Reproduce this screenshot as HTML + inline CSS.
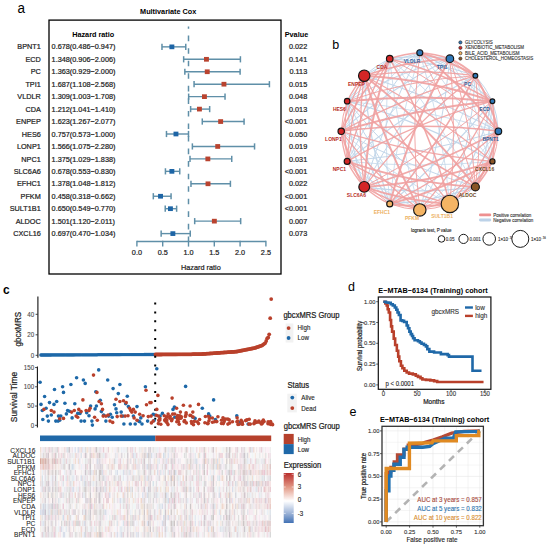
<!DOCTYPE html>
<html><head><meta charset="utf-8"><style>
html,body{margin:0;padding:0;background:#fff;width:550px;height:545px;overflow:hidden}
svg{display:block}
text{font-family:"Liberation Sans", sans-serif}
</style></head><body>
<svg width="550" height="545" viewBox="0 0 550 545">
<rect width="550" height="545" fill="#fff"/>
<g id="pa">
<text transform="translate(17.40 12.70) scale(0.935 1)" font-size="14.44" text-anchor="start" font-weight="normal" fill="#000"  >a</text>
<text transform="translate(168.20 13.50) scale(0.935 1)" font-size="7.81" text-anchor="middle" font-weight="bold" fill="#000"  >Multivariate Cox</text>
<rect x="49" y="20.1" width="232" height="253.9" fill="none" stroke="#000" stroke-width="1.3"/>
<text transform="translate(93.20 37.20) scale(0.935 1)" font-size="7.81" text-anchor="middle" font-weight="bold" fill="#000"  >Hazard ratio</text>
<text transform="translate(284.70 37.20) scale(0.935 1)" font-size="7.81" text-anchor="start" font-weight="bold" fill="#000"  >Pvalue</text>
<line x1="188.50" y1="26.4" x2="188.50" y2="242" stroke="#5f8fa8" stroke-width="1.5" stroke-dasharray="5.6 6.95" stroke-dashoffset="3.35"/>
<text transform="translate(40.80 49.45) scale(0.935 1)" font-size="7.81" text-anchor="end" font-weight="normal" fill="#222" stroke="#222" stroke-width="0.22" >BPNT1</text>
<text transform="translate(51.60 49.45) scale(0.935 1)" font-size="7.81" text-anchor="start" font-weight="normal" fill="#222" stroke="#222" stroke-width="0.22" >0.678(0.486−0.947)</text>
<text transform="translate(307.20 49.45) scale(0.935 1)" font-size="7.81" text-anchor="end" font-weight="normal" fill="#222" stroke="#222" stroke-width="0.22" >0.022</text>
<line x1="161.98" y1="46.85" x2="185.77" y2="46.85" stroke="#5f8fa8" stroke-width="1.4"/>
<line x1="161.98" y1="43.75" x2="161.98" y2="49.95" stroke="#5f8fa8" stroke-width="1.5"/>
<line x1="185.77" y1="43.75" x2="185.77" y2="49.95" stroke="#5f8fa8" stroke-width="1.5"/>
<rect x="169.43" y="44.50" width="4.9" height="4.7" fill="#1d65a6"/>
<text transform="translate(40.80 61.90) scale(0.935 1)" font-size="7.81" text-anchor="end" font-weight="normal" fill="#222" stroke="#222" stroke-width="0.22" >ECD</text>
<text transform="translate(51.60 61.90) scale(0.935 1)" font-size="7.81" text-anchor="start" font-weight="normal" fill="#222" stroke="#222" stroke-width="0.22" >1.348(0.906−2.006)</text>
<text transform="translate(307.20 61.90) scale(0.935 1)" font-size="7.81" text-anchor="end" font-weight="normal" fill="#222" stroke="#222" stroke-width="0.22" >0.141</text>
<line x1="183.65" y1="59.30" x2="240.41" y2="59.30" stroke="#5f8fa8" stroke-width="1.4"/>
<line x1="183.65" y1="56.20" x2="183.65" y2="62.40" stroke="#5f8fa8" stroke-width="1.5"/>
<line x1="240.41" y1="56.20" x2="240.41" y2="62.40" stroke="#5f8fa8" stroke-width="1.5"/>
<rect x="204.01" y="56.95" width="4.9" height="4.7" fill="#b9432f"/>
<text transform="translate(40.80 74.35) scale(0.935 1)" font-size="7.81" text-anchor="end" font-weight="normal" fill="#222" stroke="#222" stroke-width="0.22" >PC</text>
<text transform="translate(51.60 74.35) scale(0.935 1)" font-size="7.81" text-anchor="start" font-weight="normal" fill="#222" stroke="#222" stroke-width="0.22" >1.363(0.929−2.000)</text>
<text transform="translate(307.20 74.35) scale(0.935 1)" font-size="7.81" text-anchor="end" font-weight="normal" fill="#222" stroke="#222" stroke-width="0.22" >0.113</text>
<line x1="184.84" y1="71.75" x2="240.10" y2="71.75" stroke="#5f8fa8" stroke-width="1.4"/>
<line x1="184.84" y1="68.65" x2="184.84" y2="74.85" stroke="#5f8fa8" stroke-width="1.5"/>
<line x1="240.10" y1="68.65" x2="240.10" y2="74.85" stroke="#5f8fa8" stroke-width="1.5"/>
<rect x="204.78" y="69.40" width="4.9" height="4.7" fill="#b9432f"/>
<text transform="translate(40.80 86.80) scale(0.935 1)" font-size="7.81" text-anchor="end" font-weight="normal" fill="#222" stroke="#222" stroke-width="0.22" >TPI1</text>
<text transform="translate(51.60 86.80) scale(0.935 1)" font-size="7.81" text-anchor="start" font-weight="normal" fill="#222" stroke="#222" stroke-width="0.22" >1.687(1.108−2.568)</text>
<text transform="translate(307.20 86.80) scale(0.935 1)" font-size="7.81" text-anchor="end" font-weight="normal" fill="#222" stroke="#222" stroke-width="0.22" >0.015</text>
<line x1="194.07" y1="84.20" x2="269.41" y2="84.20" stroke="#5f8fa8" stroke-width="1.4"/>
<line x1="194.07" y1="81.10" x2="194.07" y2="87.30" stroke="#5f8fa8" stroke-width="1.5"/>
<line x1="269.41" y1="81.10" x2="269.41" y2="87.30" stroke="#5f8fa8" stroke-width="1.5"/>
<rect x="221.50" y="81.85" width="4.9" height="4.7" fill="#b9432f"/>
<text transform="translate(40.80 99.25) scale(0.935 1)" font-size="7.81" text-anchor="end" font-weight="normal" fill="#222" stroke="#222" stroke-width="0.22" >VLDLR</text>
<text transform="translate(51.60 99.25) scale(0.935 1)" font-size="7.81" text-anchor="start" font-weight="normal" fill="#222" stroke="#222" stroke-width="0.22" >1.309(1.003−1.708)</text>
<text transform="translate(307.20 99.25) scale(0.935 1)" font-size="7.81" text-anchor="end" font-weight="normal" fill="#222" stroke="#222" stroke-width="0.22" >0.048</text>
<line x1="188.65" y1="96.65" x2="225.03" y2="96.65" stroke="#5f8fa8" stroke-width="1.4"/>
<line x1="188.65" y1="93.55" x2="188.65" y2="99.75" stroke="#5f8fa8" stroke-width="1.5"/>
<line x1="225.03" y1="93.55" x2="225.03" y2="99.75" stroke="#5f8fa8" stroke-width="1.5"/>
<rect x="201.99" y="94.30" width="4.9" height="4.7" fill="#b9432f"/>
<text transform="translate(40.80 111.70) scale(0.935 1)" font-size="7.81" text-anchor="end" font-weight="normal" fill="#222" stroke="#222" stroke-width="0.22" >CDA</text>
<text transform="translate(51.60 111.70) scale(0.935 1)" font-size="7.81" text-anchor="start" font-weight="normal" fill="#222" stroke="#222" stroke-width="0.22" >1.212(1.041−1.410)</text>
<text transform="translate(307.20 111.70) scale(0.935 1)" font-size="7.81" text-anchor="end" font-weight="normal" fill="#222" stroke="#222" stroke-width="0.22" >0.013</text>
<line x1="190.62" y1="109.10" x2="209.66" y2="109.10" stroke="#5f8fa8" stroke-width="1.4"/>
<line x1="190.62" y1="106.00" x2="190.62" y2="112.20" stroke="#5f8fa8" stroke-width="1.5"/>
<line x1="209.66" y1="106.00" x2="209.66" y2="112.20" stroke="#5f8fa8" stroke-width="1.5"/>
<rect x="196.99" y="106.75" width="4.9" height="4.7" fill="#b9432f"/>
<text transform="translate(40.80 124.15) scale(0.935 1)" font-size="7.81" text-anchor="end" font-weight="normal" fill="#222" stroke="#222" stroke-width="0.22" >ENPEP</text>
<text transform="translate(51.60 124.15) scale(0.935 1)" font-size="7.81" text-anchor="start" font-weight="normal" fill="#222" stroke="#222" stroke-width="0.22" >1.623(1.267−2.077)</text>
<text transform="translate(307.20 124.15) scale(0.935 1)" font-size="7.81" text-anchor="end" font-weight="normal" fill="#222" stroke="#222" stroke-width="0.22" >&lt;0.001</text>
<line x1="202.28" y1="121.55" x2="244.07" y2="121.55" stroke="#5f8fa8" stroke-width="1.4"/>
<line x1="202.28" y1="118.45" x2="202.28" y2="124.65" stroke="#5f8fa8" stroke-width="1.5"/>
<line x1="244.07" y1="118.45" x2="244.07" y2="124.65" stroke="#5f8fa8" stroke-width="1.5"/>
<rect x="218.20" y="119.20" width="4.9" height="4.7" fill="#b9432f"/>
<text transform="translate(40.80 136.60) scale(0.935 1)" font-size="7.81" text-anchor="end" font-weight="normal" fill="#222" stroke="#222" stroke-width="0.22" >HES6</text>
<text transform="translate(51.60 136.60) scale(0.935 1)" font-size="7.81" text-anchor="start" font-weight="normal" fill="#222" stroke="#222" stroke-width="0.22" >0.757(0.573−1.000)</text>
<text transform="translate(307.20 136.60) scale(0.935 1)" font-size="7.81" text-anchor="end" font-weight="normal" fill="#222" stroke="#222" stroke-width="0.22" >0.050</text>
<line x1="166.47" y1="134.00" x2="188.50" y2="134.00" stroke="#5f8fa8" stroke-width="1.4"/>
<line x1="166.47" y1="130.90" x2="166.47" y2="137.10" stroke="#5f8fa8" stroke-width="1.5"/>
<line x1="188.50" y1="130.90" x2="188.50" y2="137.10" stroke="#5f8fa8" stroke-width="1.5"/>
<rect x="173.51" y="131.65" width="4.9" height="4.7" fill="#1d65a6"/>
<text transform="translate(40.80 149.05) scale(0.935 1)" font-size="7.81" text-anchor="end" font-weight="normal" fill="#222" stroke="#222" stroke-width="0.22" >LONP1</text>
<text transform="translate(51.60 149.05) scale(0.935 1)" font-size="7.81" text-anchor="start" font-weight="normal" fill="#222" stroke="#222" stroke-width="0.22" >1.566(1.075−2.280)</text>
<text transform="translate(307.20 149.05) scale(0.935 1)" font-size="7.81" text-anchor="end" font-weight="normal" fill="#222" stroke="#222" stroke-width="0.22" >0.019</text>
<line x1="192.37" y1="146.45" x2="254.55" y2="146.45" stroke="#5f8fa8" stroke-width="1.4"/>
<line x1="192.37" y1="143.35" x2="192.37" y2="149.55" stroke="#5f8fa8" stroke-width="1.5"/>
<line x1="254.55" y1="143.35" x2="254.55" y2="149.55" stroke="#5f8fa8" stroke-width="1.5"/>
<rect x="215.26" y="144.10" width="4.9" height="4.7" fill="#b9432f"/>
<text transform="translate(40.80 161.50) scale(0.935 1)" font-size="7.81" text-anchor="end" font-weight="normal" fill="#222" stroke="#222" stroke-width="0.22" >NPC1</text>
<text transform="translate(51.60 161.50) scale(0.935 1)" font-size="7.81" text-anchor="start" font-weight="normal" fill="#222" stroke="#222" stroke-width="0.22" >1.375(1.029−1.838)</text>
<text transform="translate(307.20 161.50) scale(0.935 1)" font-size="7.81" text-anchor="end" font-weight="normal" fill="#222" stroke="#222" stroke-width="0.22" >0.031</text>
<line x1="190.00" y1="158.90" x2="231.74" y2="158.90" stroke="#5f8fa8" stroke-width="1.4"/>
<line x1="190.00" y1="155.80" x2="190.00" y2="162.00" stroke="#5f8fa8" stroke-width="1.5"/>
<line x1="231.74" y1="155.80" x2="231.74" y2="162.00" stroke="#5f8fa8" stroke-width="1.5"/>
<rect x="205.40" y="156.55" width="4.9" height="4.7" fill="#b9432f"/>
<text transform="translate(40.80 173.95) scale(0.935 1)" font-size="7.81" text-anchor="end" font-weight="normal" fill="#222" stroke="#222" stroke-width="0.22" >SLC6A6</text>
<text transform="translate(51.60 173.95) scale(0.935 1)" font-size="7.81" text-anchor="start" font-weight="normal" fill="#222" stroke="#222" stroke-width="0.22" >0.678(0.553−0.830)</text>
<text transform="translate(307.20 173.95) scale(0.935 1)" font-size="7.81" text-anchor="end" font-weight="normal" fill="#222" stroke="#222" stroke-width="0.22" >&lt;0.001</text>
<line x1="165.43" y1="171.35" x2="179.73" y2="171.35" stroke="#5f8fa8" stroke-width="1.4"/>
<line x1="165.43" y1="168.25" x2="165.43" y2="174.45" stroke="#5f8fa8" stroke-width="1.5"/>
<line x1="179.73" y1="168.25" x2="179.73" y2="174.45" stroke="#5f8fa8" stroke-width="1.5"/>
<rect x="169.43" y="169.00" width="4.9" height="4.7" fill="#1d65a6"/>
<text transform="translate(40.80 186.40) scale(0.935 1)" font-size="7.81" text-anchor="end" font-weight="normal" fill="#222" stroke="#222" stroke-width="0.22" >EFHC1</text>
<text transform="translate(51.60 186.40) scale(0.935 1)" font-size="7.81" text-anchor="start" font-weight="normal" fill="#222" stroke="#222" stroke-width="0.22" >1.378(1.048−1.812)</text>
<text transform="translate(307.20 186.40) scale(0.935 1)" font-size="7.81" text-anchor="end" font-weight="normal" fill="#222" stroke="#222" stroke-width="0.22" >0.022</text>
<line x1="190.98" y1="183.80" x2="230.40" y2="183.80" stroke="#5f8fa8" stroke-width="1.4"/>
<line x1="190.98" y1="180.70" x2="190.98" y2="186.90" stroke="#5f8fa8" stroke-width="1.5"/>
<line x1="230.40" y1="180.70" x2="230.40" y2="186.90" stroke="#5f8fa8" stroke-width="1.5"/>
<rect x="205.55" y="181.45" width="4.9" height="4.7" fill="#b9432f"/>
<text transform="translate(40.80 198.85) scale(0.935 1)" font-size="7.81" text-anchor="end" font-weight="normal" fill="#222" stroke="#222" stroke-width="0.22" >PFKM</text>
<text transform="translate(51.60 198.85) scale(0.935 1)" font-size="7.81" text-anchor="start" font-weight="normal" fill="#222" stroke="#222" stroke-width="0.22" >0.458(0.318−0.662)</text>
<text transform="translate(307.20 198.85) scale(0.935 1)" font-size="7.81" text-anchor="end" font-weight="normal" fill="#222" stroke="#222" stroke-width="0.22" >&lt;0.001</text>
<line x1="153.31" y1="196.25" x2="171.06" y2="196.25" stroke="#5f8fa8" stroke-width="1.4"/>
<line x1="153.31" y1="193.15" x2="153.31" y2="199.35" stroke="#5f8fa8" stroke-width="1.5"/>
<line x1="171.06" y1="193.15" x2="171.06" y2="199.35" stroke="#5f8fa8" stroke-width="1.5"/>
<rect x="158.08" y="193.90" width="4.9" height="4.7" fill="#1d65a6"/>
<text transform="translate(40.80 211.30) scale(0.935 1)" font-size="7.81" text-anchor="end" font-weight="normal" fill="#222" stroke="#222" stroke-width="0.22" >SULT1B1</text>
<text transform="translate(51.60 211.30) scale(0.935 1)" font-size="7.81" text-anchor="start" font-weight="normal" fill="#222" stroke="#222" stroke-width="0.22" >0.650(0.549−0.770)</text>
<text transform="translate(307.20 211.30) scale(0.935 1)" font-size="7.81" text-anchor="end" font-weight="normal" fill="#222" stroke="#222" stroke-width="0.22" >&lt;0.001</text>
<line x1="165.23" y1="208.70" x2="176.63" y2="208.70" stroke="#5f8fa8" stroke-width="1.4"/>
<line x1="165.23" y1="205.60" x2="165.23" y2="211.80" stroke="#5f8fa8" stroke-width="1.5"/>
<line x1="176.63" y1="205.60" x2="176.63" y2="211.80" stroke="#5f8fa8" stroke-width="1.5"/>
<rect x="167.99" y="206.35" width="4.9" height="4.7" fill="#1d65a6"/>
<text transform="translate(40.80 223.75) scale(0.935 1)" font-size="7.81" text-anchor="end" font-weight="normal" fill="#222" stroke="#222" stroke-width="0.22" >ALDOC</text>
<text transform="translate(51.60 223.75) scale(0.935 1)" font-size="7.81" text-anchor="start" font-weight="normal" fill="#222" stroke="#222" stroke-width="0.22" >1.501(1.120−2.011)</text>
<text transform="translate(307.20 223.75) scale(0.935 1)" font-size="7.81" text-anchor="end" font-weight="normal" fill="#222" stroke="#222" stroke-width="0.22" >0.007</text>
<line x1="194.69" y1="221.15" x2="240.67" y2="221.15" stroke="#5f8fa8" stroke-width="1.4"/>
<line x1="194.69" y1="218.05" x2="194.69" y2="224.25" stroke="#5f8fa8" stroke-width="1.5"/>
<line x1="240.67" y1="218.05" x2="240.67" y2="224.25" stroke="#5f8fa8" stroke-width="1.5"/>
<rect x="211.90" y="218.80" width="4.9" height="4.7" fill="#b9432f"/>
<text transform="translate(40.80 236.20) scale(0.935 1)" font-size="7.81" text-anchor="end" font-weight="normal" fill="#222" stroke="#222" stroke-width="0.22" >CXCL16</text>
<text transform="translate(51.60 236.20) scale(0.935 1)" font-size="7.81" text-anchor="start" font-weight="normal" fill="#222" stroke="#222" stroke-width="0.22" >0.697(0.470−1.034)</text>
<text transform="translate(307.20 236.20) scale(0.935 1)" font-size="7.81" text-anchor="end" font-weight="normal" fill="#222" stroke="#222" stroke-width="0.22" >0.073</text>
<line x1="161.15" y1="233.60" x2="190.25" y2="233.60" stroke="#5f8fa8" stroke-width="1.4"/>
<line x1="161.15" y1="230.50" x2="161.15" y2="236.70" stroke="#5f8fa8" stroke-width="1.5"/>
<line x1="190.25" y1="230.50" x2="190.25" y2="236.70" stroke="#5f8fa8" stroke-width="1.5"/>
<rect x="170.42" y="231.25" width="4.9" height="4.7" fill="#1d65a6"/>
<line x1="136.90" y1="241.5" x2="265.90" y2="241.5" stroke="#5f8fa8" stroke-width="1.4"/>
<line x1="136.90" y1="240.8" x2="136.90" y2="246.6" stroke="#5f8fa8" stroke-width="1.4"/>
<text transform="translate(136.90 255.00) scale(0.935 1)" font-size="7.81" text-anchor="middle" font-weight="normal" fill="#222" stroke="#222" stroke-width="0.22" >0.0</text>
<line x1="162.70" y1="240.8" x2="162.70" y2="246.6" stroke="#5f8fa8" stroke-width="1.4"/>
<text transform="translate(162.70 255.00) scale(0.935 1)" font-size="7.81" text-anchor="middle" font-weight="normal" fill="#222" stroke="#222" stroke-width="0.22" >0.5</text>
<line x1="188.50" y1="240.8" x2="188.50" y2="246.6" stroke="#5f8fa8" stroke-width="1.4"/>
<text transform="translate(188.50 255.00) scale(0.935 1)" font-size="7.81" text-anchor="middle" font-weight="normal" fill="#222" stroke="#222" stroke-width="0.22" >1.0</text>
<line x1="214.30" y1="240.8" x2="214.30" y2="246.6" stroke="#5f8fa8" stroke-width="1.4"/>
<text transform="translate(214.30 255.00) scale(0.935 1)" font-size="7.81" text-anchor="middle" font-weight="normal" fill="#222" stroke="#222" stroke-width="0.22" >1.5</text>
<line x1="240.10" y1="240.8" x2="240.10" y2="246.6" stroke="#5f8fa8" stroke-width="1.4"/>
<text transform="translate(240.10 255.00) scale(0.935 1)" font-size="7.81" text-anchor="middle" font-weight="normal" fill="#222" stroke="#222" stroke-width="0.22" >2.0</text>
<line x1="265.90" y1="240.8" x2="265.90" y2="246.6" stroke="#5f8fa8" stroke-width="1.4"/>
<text transform="translate(265.90 255.00) scale(0.935 1)" font-size="7.81" text-anchor="middle" font-weight="normal" fill="#222" stroke="#222" stroke-width="0.22" >2.5</text>
<text transform="translate(200.90 269.70) scale(0.935 1)" font-size="7.81" text-anchor="middle" font-weight="normal" fill="#222" stroke="#222" stroke-width="0.22" >Hazard ratio</text>
</g>
<g id="pb">
<text transform="translate(332.20 49.40) scale(0.935 1)" font-size="13.37" text-anchor="start" font-weight="normal" fill="#000"  >b</text>
<path d="M475.4 75.7Q454.3 145.6 419.8 209.9" fill="none" stroke="#c3d7ea" stroke-width="0.8"/>
<path d="M475.4 186.9Q463.8 197.2 449.9 203.9" fill="none" stroke="#c3d7ea" stroke-width="1.0"/>
<path d="M364.2 75.7Q375.8 65.4 389.7 58.7" fill="none" stroke="#c3d7ea" stroke-width="1.0"/>
<path d="M498.4 131.3Q464.6 176.1 419.8 209.9" fill="none" stroke="#c3d7ea" stroke-width="0.8"/>
<path d="M449.9 58.7Q390.5 87.4 341.2 131.3" fill="none" stroke="#c3d7ea" stroke-width="1.2"/>
<path d="M364.2 186.9Q349.7 145.2 347.2 101.2" fill="none" stroke="#c3d7ea" stroke-width="1.2"/>
<path d="M475.4 186.9Q433.7 201.4 389.7 203.9" fill="none" stroke="#c3d7ea" stroke-width="1.2"/>
<path d="M492.4 101.2Q497.5 115.8 498.4 131.3" fill="none" stroke="#c3d7ea" stroke-width="1.0"/>
<path d="M419.8 209.9Q397.2 135.8 389.7 58.7" fill="none" stroke="#c3d7ea" stroke-width="0.8"/>
<path d="M419.8 52.7Q459.5 71.9 492.4 101.2" fill="none" stroke="#c3d7ea" stroke-width="1.2"/>
<path d="M492.4 101.2Q478.3 155.5 449.9 203.9" fill="none" stroke="#c3d7ea" stroke-width="1.2"/>
<path d="M419.8 52.7Q375.9 102.0 347.2 161.4" fill="none" stroke="#c3d7ea" stroke-width="1.0"/>
<path d="M475.4 186.9Q419.8 194.7 364.2 186.9" fill="none" stroke="#c3d7ea" stroke-width="1.2"/>
<path d="M449.9 58.7Q442.4 135.8 419.8 209.9" fill="none" stroke="#c3d7ea" stroke-width="1.0"/>
<path d="M475.4 75.7Q489.9 117.4 492.4 161.4" fill="none" stroke="#c3d7ea" stroke-width="0.8"/>
<path d="M475.4 75.7Q471.6 141.6 449.9 203.9" fill="none" stroke="#c3d7ea" stroke-width="1.0"/>
<path d="M389.7 203.9Q368.0 141.6 364.2 75.7" fill="none" stroke="#c3d7ea" stroke-width="1.2"/>
<path d="M498.4 131.3Q424.3 108.7 347.2 101.2" fill="none" stroke="#c3d7ea" stroke-width="0.8"/>
<path d="M492.4 101.2Q489.9 145.2 475.4 186.9" fill="none" stroke="#c3d7ea" stroke-width="1.0"/>
<path d="M347.2 101.2Q365.5 77.0 389.7 58.7" fill="none" stroke="#c3d7ea" stroke-width="1.0"/>
<path d="M498.4 131.3Q424.3 153.9 347.2 161.4" fill="none" stroke="#c3d7ea" stroke-width="1.0"/>
<path d="M475.4 75.7Q485.7 87.3 492.4 101.2" fill="none" stroke="#c3d7ea" stroke-width="1.0"/>
<path d="M498.4 131.3Q434.1 96.8 364.2 75.7" fill="none" stroke="#c3d7ea" stroke-width="1.2"/>
<path d="M449.9 58.7Q395.6 72.8 347.2 101.2" fill="none" stroke="#c3d7ea" stroke-width="1.0"/>
<path d="M449.9 203.9Q393.4 157.7 347.2 101.2" fill="none" stroke="#c3d7ea" stroke-width="1.0"/>
<path d="M389.7 203.9Q360.4 171.0 341.2 131.3" fill="none" stroke="#c3d7ea" stroke-width="0.8"/>
<path d="M492.4 101.2Q446.2 157.7 389.7 203.9" fill="none" stroke="#c3d7ea" stroke-width="1.2"/>
<path d="M449.9 58.7Q393.4 104.9 347.2 161.4" fill="none" stroke="#c3d7ea" stroke-width="1.0"/>
<path d="M419.8 52.7Q390.4 60.3 364.2 75.7" fill="none" stroke="#c3d7ea" stroke-width="1.0"/>
<path d="M449.9 58.7Q400.6 118.5 364.2 186.9" fill="none" stroke="#c3d7ea" stroke-width="1.0"/>
<path d="M449.9 203.9Q390.5 175.2 341.2 131.3" fill="none" stroke="#c3d7ea" stroke-width="0.8"/>
<path d="M419.8 209.9Q380.1 190.7 347.2 161.4" fill="none" stroke="#c3d7ea" stroke-width="0.8"/>
<path d="M449.9 58.7Q478.3 107.1 492.4 161.4" fill="none" stroke="#c3d7ea" stroke-width="0.8"/>
<path d="M389.7 203.9Q361.3 155.5 347.2 101.2" fill="none" stroke="#c3d7ea" stroke-width="1.2"/>
<path d="M475.4 75.7Q407.0 112.1 347.2 161.4" fill="none" stroke="#c3d7ea" stroke-width="1.2"/>
<path d="M449.9 58.7Q479.2 91.6 498.4 131.3" fill="none" stroke="#c3d7ea" stroke-width="0.8"/>
<path d="M419.8 209.9Q375.9 160.6 347.2 101.2" fill="none" stroke="#c3d7ea" stroke-width="1.0"/>
<path d="M475.4 186.9Q405.5 165.8 341.2 131.3" fill="none" stroke="#c3d7ea" stroke-width="1.0"/>
<path d="M449.9 58.7Q419.8 54.5 389.7 58.7" fill="none" stroke="#c3d7ea" stroke-width="1.2"/>
<path d="M492.4 161.4Q423.7 121.9 347.2 101.2" fill="none" stroke="#c3d7ea" stroke-width="1.2"/>
<path d="M492.4 161.4Q419.8 168.6 347.2 161.4" fill="none" stroke="#c3d7ea" stroke-width="0.8"/>
<path d="M389.7 203.9Q382.5 131.3 389.7 58.7" fill="none" stroke="#c3d7ea" stroke-width="0.8"/>
<path d="M419.8 52.7Q397.2 126.8 389.7 203.9" fill="none" stroke="#c3d7ea" stroke-width="0.8"/>
<path d="M419.8 52.7Q375.0 86.5 341.2 131.3" fill="none" stroke="#c3d7ea" stroke-width="0.8"/>
<path d="M419.8 52.7Q463.7 102.0 492.4 161.4" fill="none" stroke="#c3d7ea" stroke-width="0.8"/>
<path d="M492.4 161.4Q446.2 104.9 389.7 58.7" fill="none" stroke="#c3d7ea" stroke-width="0.8"/>
<path d="M419.8 52.7Q380.1 71.9 347.2 101.2" fill="none" stroke="#c3d7ea" stroke-width="1.0"/>
<path d="M419.8 52.7Q385.3 117.0 364.2 186.9" fill="none" stroke="#c3d7ea" stroke-width="1.0"/>
<path d="M419.8 52.7Q442.4 126.8 449.9 203.9" fill="none" stroke="#c3d7ea" stroke-width="0.8"/>
<path d="M475.4 186.9Q439.0 118.5 389.7 58.7" fill="none" stroke="#c3d7ea" stroke-width="0.8"/>
<path d="M475.4 75.7Q433.7 61.2 389.7 58.7" fill="none" stroke="#c3d7ea" stroke-width="1.0"/>
<path d="M492.4 161.4Q459.5 190.7 419.8 209.9" fill="none" stroke="#f0a0a0" stroke-opacity="0.9" stroke-width="1.0"/>
<path d="M347.2 161.4Q349.7 117.4 364.2 75.7" fill="none" stroke="#f0a0a0" stroke-opacity="0.9" stroke-width="1.3"/>
<path d="M449.9 203.9Q419.8 208.1 389.7 203.9" fill="none" stroke="#f0a0a0" stroke-opacity="0.9" stroke-width="2.0"/>
<path d="M419.8 52.7Q464.6 86.5 498.4 131.3" fill="none" stroke="#f0a0a0" stroke-opacity="0.9" stroke-width="2.0"/>
<path d="M492.4 101.2Q419.8 94.0 347.2 101.2" fill="none" stroke="#f0a0a0" stroke-opacity="0.9" stroke-width="2.0"/>
<path d="M498.4 131.3Q419.8 121.1 341.2 131.3" fill="none" stroke="#f0a0a0" stroke-opacity="0.9" stroke-width="1.6"/>
<path d="M419.8 52.7Q435.3 53.6 449.9 58.7" fill="none" stroke="#f0a0a0" stroke-opacity="0.9" stroke-width="1.6"/>
<path d="M419.8 52.7Q449.2 60.3 475.4 75.7" fill="none" stroke="#f0a0a0" stroke-opacity="0.9" stroke-width="2.0"/>
<path d="M498.4 131.3Q449.1 175.2 389.7 203.9" fill="none" stroke="#f0a0a0" stroke-opacity="0.9" stroke-width="1.3"/>
<path d="M449.9 203.9Q395.6 189.8 347.2 161.4" fill="none" stroke="#f0a0a0" stroke-opacity="0.9" stroke-width="1.3"/>
<path d="M475.4 75.7Q419.8 67.9 364.2 75.7" fill="none" stroke="#f0a0a0" stroke-opacity="0.9" stroke-width="1.3"/>
<path d="M449.9 58.7Q474.1 77.0 492.4 101.2" fill="none" stroke="#f0a0a0" stroke-opacity="0.9" stroke-width="1.0"/>
<path d="M492.4 101.2Q496.6 131.3 492.4 161.4" fill="none" stroke="#f0a0a0" stroke-opacity="0.9" stroke-width="1.6"/>
<path d="M419.8 52.7Q404.3 53.6 389.7 58.7" fill="none" stroke="#f0a0a0" stroke-opacity="0.9" stroke-width="1.6"/>
<path d="M475.4 186.9Q409.5 183.1 347.2 161.4" fill="none" stroke="#f0a0a0" stroke-opacity="0.9" stroke-width="2.0"/>
<path d="M449.9 58.7Q410.4 127.4 389.7 203.9" fill="none" stroke="#f0a0a0" stroke-opacity="0.9" stroke-width="2.0"/>
<path d="M364.2 186.9Q348.8 160.7 341.2 131.3" fill="none" stroke="#f0a0a0" stroke-opacity="0.9" stroke-width="2.0"/>
<path d="M492.4 101.2Q432.6 150.5 364.2 186.9" fill="none" stroke="#f0a0a0" stroke-opacity="0.9" stroke-width="1.0"/>
<path d="M475.4 186.9Q407.0 150.5 347.2 101.2" fill="none" stroke="#f0a0a0" stroke-opacity="0.9" stroke-width="1.6"/>
<path d="M347.2 161.4Q342.1 146.8 341.2 131.3" fill="none" stroke="#f0a0a0" stroke-opacity="0.9" stroke-width="1.3"/>
<path d="M475.4 75.7Q439.0 144.1 389.7 203.9" fill="none" stroke="#f0a0a0" stroke-opacity="0.9" stroke-width="1.6"/>
<path d="M389.7 203.9Q365.5 185.6 347.2 161.4" fill="none" stroke="#f0a0a0" stroke-opacity="0.9" stroke-width="1.0"/>
<path d="M498.4 131.3Q434.1 165.8 364.2 186.9" fill="none" stroke="#f0a0a0" stroke-opacity="0.9" stroke-width="1.6"/>
<path d="M341.2 131.3Q342.1 115.8 347.2 101.2" fill="none" stroke="#f0a0a0" stroke-opacity="0.9" stroke-width="1.0"/>
<path d="M492.4 101.2Q430.1 79.5 364.2 75.7" fill="none" stroke="#f0a0a0" stroke-opacity="0.9" stroke-width="2.0"/>
<path d="M492.4 161.4Q485.7 175.3 475.4 186.9" fill="none" stroke="#f0a0a0" stroke-opacity="0.9" stroke-width="1.6"/>
<path d="M475.4 75.7Q483.2 131.3 475.4 186.9" fill="none" stroke="#f0a0a0" stroke-opacity="0.9" stroke-width="1.0"/>
<path d="M492.4 161.4Q474.1 185.6 449.9 203.9" fill="none" stroke="#f0a0a0" stroke-opacity="0.9" stroke-width="1.6"/>
<path d="M347.2 161.4Q361.3 107.1 389.7 58.7" fill="none" stroke="#f0a0a0" stroke-opacity="0.9" stroke-width="1.3"/>
<path d="M475.4 75.7Q405.5 96.8 341.2 131.3" fill="none" stroke="#f0a0a0" stroke-opacity="0.9" stroke-width="1.3"/>
<path d="M449.9 203.9Q435.3 209.0 419.8 209.9" fill="none" stroke="#f0a0a0" stroke-opacity="0.9" stroke-width="1.0"/>
<path d="M498.4 131.3Q479.2 171.0 449.9 203.9" fill="none" stroke="#f0a0a0" stroke-opacity="0.9" stroke-width="1.3"/>
<path d="M475.4 75.7Q412.6 124.1 364.2 186.9" fill="none" stroke="#f0a0a0" stroke-opacity="0.9" stroke-width="1.3"/>
<path d="M341.2 131.3Q360.4 91.6 389.7 58.7" fill="none" stroke="#f0a0a0" stroke-opacity="0.9" stroke-width="1.6"/>
<path d="M389.7 203.9Q375.8 197.2 364.2 186.9" fill="none" stroke="#f0a0a0" stroke-opacity="0.9" stroke-width="1.3"/>
<path d="M449.9 203.9Q405.9 201.4 364.2 186.9" fill="none" stroke="#f0a0a0" stroke-opacity="0.9" stroke-width="2.0"/>
<path d="M475.4 186.9Q449.2 202.3 419.8 209.9" fill="none" stroke="#f0a0a0" stroke-opacity="0.9" stroke-width="1.0"/>
<path d="M419.8 209.9Q375.0 176.1 341.2 131.3" fill="none" stroke="#f0a0a0" stroke-opacity="0.9" stroke-width="1.3"/>
<path d="M449.9 203.9Q429.2 127.4 389.7 58.7" fill="none" stroke="#f0a0a0" stroke-opacity="0.9" stroke-width="1.6"/>
<path d="M449.9 58.7Q457.1 131.3 449.9 203.9" fill="none" stroke="#f0a0a0" stroke-opacity="0.9" stroke-width="1.0"/>
<path d="M492.4 101.2Q415.9 121.9 347.2 161.4" fill="none" stroke="#f0a0a0" stroke-opacity="0.9" stroke-width="1.3"/>
<path d="M419.8 209.9Q385.3 145.6 364.2 75.7" fill="none" stroke="#f0a0a0" stroke-opacity="0.9" stroke-width="2.0"/>
<path d="M347.2 161.4Q343.0 131.3 347.2 101.2" fill="none" stroke="#f0a0a0" stroke-opacity="0.9" stroke-width="1.0"/>
<path d="M475.4 186.9Q427.0 124.1 364.2 75.7" fill="none" stroke="#f0a0a0" stroke-opacity="0.9" stroke-width="2.0"/>
<path d="M475.4 75.7Q409.5 79.5 347.2 101.2" fill="none" stroke="#f0a0a0" stroke-opacity="0.9" stroke-width="1.0"/>
<path d="M492.4 161.4Q430.1 183.1 364.2 186.9" fill="none" stroke="#f0a0a0" stroke-opacity="0.9" stroke-width="2.0"/>
<path d="M492.4 161.4Q415.3 153.9 341.2 131.3" fill="none" stroke="#f0a0a0" stroke-opacity="0.9" stroke-width="1.3"/>
<path d="M419.8 52.7Q454.3 117.0 475.4 186.9" fill="none" stroke="#f0a0a0" stroke-opacity="0.9" stroke-width="1.0"/>
<path d="M419.8 209.9Q390.4 202.3 364.2 186.9" fill="none" stroke="#f0a0a0" stroke-opacity="0.9" stroke-width="1.3"/>
<path d="M341.2 131.3Q348.8 101.9 364.2 75.7" fill="none" stroke="#f0a0a0" stroke-opacity="0.9" stroke-width="1.3"/>
<path d="M347.2 101.2Q353.9 87.3 364.2 75.7" fill="none" stroke="#f0a0a0" stroke-opacity="0.9" stroke-width="1.3"/>
<path d="M449.9 203.9Q400.6 144.1 364.2 75.7" fill="none" stroke="#f0a0a0" stroke-opacity="0.9" stroke-width="1.3"/>
<path d="M492.4 161.4Q432.6 112.1 364.2 75.7" fill="none" stroke="#f0a0a0" stroke-opacity="0.9" stroke-width="1.3"/>
<path d="M364.2 186.9Q368.0 121.0 389.7 58.7" fill="none" stroke="#f0a0a0" stroke-opacity="0.9" stroke-width="2.0"/>
<path d="M419.8 209.9Q404.3 209.0 389.7 203.9" fill="none" stroke="#f0a0a0" stroke-opacity="0.9" stroke-width="1.0"/>
<path d="M449.9 58.7Q463.8 65.4 475.4 75.7" fill="none" stroke="#f0a0a0" stroke-opacity="0.9" stroke-width="2.0"/>
<path d="M364.2 186.9Q356.4 131.3 364.2 75.7" fill="none" stroke="#f0a0a0" stroke-opacity="0.9" stroke-width="1.3"/>
<path d="M498.4 131.3Q497.5 146.8 492.4 161.4" fill="none" stroke="#f0a0a0" stroke-opacity="0.9" stroke-width="1.0"/>
<path d="M475.4 75.7Q490.8 101.9 498.4 131.3" fill="none" stroke="#f0a0a0" stroke-opacity="0.9" stroke-width="2.0"/>
<path d="M492.4 101.2Q444.0 72.8 389.7 58.7" fill="none" stroke="#f0a0a0" stroke-opacity="0.9" stroke-width="1.6"/>
<path d="M498.4 131.3Q490.8 160.7 475.4 186.9" fill="none" stroke="#f0a0a0" stroke-opacity="0.9" stroke-width="2.0"/>
<path d="M449.9 58.7Q405.9 61.2 364.2 75.7" fill="none" stroke="#f0a0a0" stroke-opacity="0.9" stroke-width="1.6"/>
<path d="M498.4 131.3Q449.1 87.4 389.7 58.7" fill="none" stroke="#f0a0a0" stroke-opacity="0.9" stroke-width="1.0"/>
<path d="M419.8 52.7Q409.6 131.3 419.8 209.9" fill="none" stroke="#f0a0a0" stroke-opacity="0.9" stroke-width="1.0"/>
<path d="M492.4 101.2Q463.7 160.6 419.8 209.9" fill="none" stroke="#f0a0a0" stroke-opacity="0.9" stroke-width="1.3"/>
<path d="M492.4 161.4Q444.0 189.8 389.7 203.9" fill="none" stroke="#f0a0a0" stroke-opacity="0.9" stroke-width="2.0"/>
<path d="M364.2 186.9Q353.9 175.3 347.2 161.4" fill="none" stroke="#f0a0a0" stroke-opacity="0.9" stroke-width="1.3"/>
<path d="M492.4 101.2Q415.3 108.7 341.2 131.3" fill="none" stroke="#f0a0a0" stroke-opacity="0.9" stroke-width="2.0"/>
<path d="M449.9 58.7Q471.6 121.0 475.4 186.9" fill="none" stroke="#f0a0a0" stroke-opacity="0.9" stroke-width="1.0"/>
<circle cx="419.80" cy="52.70" r="3.0" fill="#2f78b8" stroke="#151515" stroke-width="1.15"/>
<text transform="translate(412.00 62.60) scale(0.935 1)" font-size="5.35" text-anchor="middle" font-weight="bold" fill="#30609a"  >VLDLR</text>
<circle cx="449.88" cy="58.68" r="3.8" fill="#2f78b8" stroke="#151515" stroke-width="1.15"/>
<text transform="translate(442.08 68.58) scale(0.935 1)" font-size="5.35" text-anchor="middle" font-weight="bold" fill="#30609a"  >TPI1</text>
<circle cx="475.38" cy="75.72" r="2.4" fill="#2f78b8" stroke="#151515" stroke-width="1.15"/>
<text transform="translate(467.58 85.62) scale(0.935 1)" font-size="5.35" text-anchor="middle" font-weight="bold" fill="#30609a"  >PC</text>
<circle cx="492.42" cy="101.22" r="2.4" fill="#2f78b8" stroke="#151515" stroke-width="1.15"/>
<text transform="translate(484.62 111.12) scale(0.935 1)" font-size="5.35" text-anchor="middle" font-weight="bold" fill="#30609a"  >ECD</text>
<circle cx="498.40" cy="131.30" r="3.3" fill="#2f78b8" stroke="#151515" stroke-width="1.15"/>
<text transform="translate(490.60 141.20) scale(0.935 1)" font-size="5.35" text-anchor="middle" font-weight="bold" fill="#30609a"  >BPNT1</text>
<circle cx="492.42" cy="161.38" r="2.6" fill="#8a5526" stroke="#151515" stroke-width="1.15"/>
<text transform="translate(484.62 171.28) scale(0.935 1)" font-size="5.35" text-anchor="middle" font-weight="bold" fill="#704a22"  >CXCL16</text>
<circle cx="475.38" cy="186.88" r="4.0" fill="#8a5526" stroke="#151515" stroke-width="1.15"/>
<text transform="translate(467.58 196.78) scale(0.935 1)" font-size="5.35" text-anchor="middle" font-weight="bold" fill="#704a22"  >ALDOC</text>
<circle cx="449.88" cy="203.92" r="8.7" fill="#f4b464" stroke="#151515" stroke-width="1.15"/>
<text transform="translate(442.08 217.52) scale(0.935 1)" font-size="5.35" text-anchor="middle" font-weight="bold" fill="#ecb062"  >SULT1B1</text>
<circle cx="419.80" cy="209.90" r="6.2" fill="#f4b464" stroke="#151515" stroke-width="1.15"/>
<text transform="translate(412.00 219.80) scale(0.935 1)" font-size="5.35" text-anchor="middle" font-weight="bold" fill="#ecb062"  >PFKM</text>
<circle cx="389.72" cy="203.92" r="3.0" fill="#f4b464" stroke="#151515" stroke-width="1.15"/>
<text transform="translate(381.92 213.82) scale(0.935 1)" font-size="5.35" text-anchor="middle" font-weight="bold" fill="#ecb062"  >EFHC1</text>
<circle cx="364.22" cy="186.88" r="5.4" fill="#d42626" stroke="#151515" stroke-width="1.15"/>
<text transform="translate(356.42 196.78) scale(0.935 1)" font-size="5.35" text-anchor="middle" font-weight="bold" fill="#b82a24"  >SLC6A6</text>
<circle cx="347.18" cy="161.38" r="3.0" fill="#d42626" stroke="#151515" stroke-width="1.15"/>
<text transform="translate(339.38 171.28) scale(0.935 1)" font-size="5.35" text-anchor="middle" font-weight="bold" fill="#b82a24"  >NPC1</text>
<circle cx="341.20" cy="131.30" r="3.2" fill="#d42626" stroke="#151515" stroke-width="1.15"/>
<text transform="translate(333.40 141.20) scale(0.935 1)" font-size="5.35" text-anchor="middle" font-weight="bold" fill="#b82a24"  >LONP1</text>
<circle cx="347.18" cy="101.22" r="2.8" fill="#d42626" stroke="#151515" stroke-width="1.15"/>
<text transform="translate(339.38 111.12) scale(0.935 1)" font-size="5.35" text-anchor="middle" font-weight="bold" fill="#b82a24"  >HES6</text>
<circle cx="364.22" cy="75.72" r="5.7" fill="#d42626" stroke="#151515" stroke-width="1.15"/>
<text transform="translate(356.42 85.62) scale(0.935 1)" font-size="5.35" text-anchor="middle" font-weight="bold" fill="#b82a24"  >ENPEP</text>
<circle cx="389.72" cy="58.68" r="3.3" fill="#d42626" stroke="#151515" stroke-width="1.15"/>
<text transform="translate(381.92 68.58) scale(0.935 1)" font-size="5.35" text-anchor="middle" font-weight="bold" fill="#b82a24"  >CDA</text>
<circle cx="460.4" cy="42.40" r="1.6" fill="#2f78b8" stroke="#222" stroke-width="0.6"/>
<text transform="translate(464.90 44.00) scale(0.935 1)" font-size="4.81" text-anchor="start" font-weight="normal" fill="#333" stroke="#333" stroke-width="0.12" >GLYCOLYSIS</text>
<circle cx="460.4" cy="47.80" r="1.6" fill="#d42626" stroke="#222" stroke-width="0.6"/>
<text transform="translate(464.90 49.40) scale(0.935 1)" font-size="4.81" text-anchor="start" font-weight="normal" fill="#333" stroke="#333" stroke-width="0.12" >XENOBIOTIC_METABOLISM</text>
<circle cx="460.4" cy="53.20" r="1.6" fill="#f4b464" stroke="#222" stroke-width="0.6"/>
<text transform="translate(464.90 54.80) scale(0.935 1)" font-size="4.81" text-anchor="start" font-weight="normal" fill="#333" stroke="#333" stroke-width="0.12" >BILE_ACID_METABOLISM</text>
<circle cx="460.4" cy="58.60" r="1.6" fill="#8a5526" stroke="#222" stroke-width="0.6"/>
<text transform="translate(464.90 60.20) scale(0.935 1)" font-size="4.81" text-anchor="start" font-weight="normal" fill="#333" stroke="#333" stroke-width="0.12" >CHOLESTEROL_HOMEOSTASIS</text>
<line x1="480.4" y1="214.9" x2="489.8" y2="214.9" stroke="#ee9090" stroke-width="2.9" stroke-linecap="round"/>
<line x1="480.4" y1="220.0" x2="489.8" y2="220.0" stroke="#bcd2e8" stroke-width="2.9" stroke-linecap="round"/>
<text transform="translate(493.30 216.50) scale(0.935 1)" font-size="4.81" text-anchor="start" font-weight="normal" fill="#333" stroke="#333" stroke-width="0.12" >Positive correlation</text>
<text transform="translate(493.30 221.60) scale(0.935 1)" font-size="4.81" text-anchor="start" font-weight="normal" fill="#333" stroke="#333" stroke-width="0.12" >Negative correlation</text>
<text transform="translate(411.00 232.00) scale(0.935 1)" font-size="4.81" text-anchor="start" font-weight="normal" fill="#222" stroke="#222" stroke-width="0.12" >logrank test, P value</text>
<circle cx="441.5" cy="238.9" r="3.3" fill="#fff" stroke="#1a1a1a" stroke-width="1"/>
<text transform="translate(445.80 240.50) scale(0.935 1)" font-size="4.81" text-anchor="start" font-weight="normal" fill="#333" stroke="#333" stroke-width="0.12" >0.05</text>
<circle cx="463.5" cy="238.9" r="4.6" fill="#fff" stroke="#1a1a1a" stroke-width="1"/>
<text transform="translate(469.50 240.50) scale(0.935 1)" font-size="4.81" text-anchor="start" font-weight="normal" fill="#333" stroke="#333" stroke-width="0.12" >0.001</text>
<circle cx="489.2" cy="238.9" r="6.3" fill="#fff" stroke="#1a1a1a" stroke-width="1"/>
<text transform="translate(498.00 240.50) scale(0.935 1)" font-size="4.81" text-anchor="start" font-weight="normal" fill="#333" stroke="#333" stroke-width="0.12" >1×10<tspan dy="-1.5" font-size="3">−10</tspan></text>
<circle cx="520.3" cy="238.9" r="8.5" fill="#fff" stroke="#1a1a1a" stroke-width="1"/>
<text transform="translate(531.00 240.50) scale(0.935 1)" font-size="4.81" text-anchor="start" font-weight="normal" fill="#333" stroke="#333" stroke-width="0.12" >1×10<tspan dy="-1.5" font-size="3">−16</tspan></text>
</g>
<g id="pc">
<text transform="translate(3.00 293.80) scale(0.935 1)" font-size="12.83" text-anchor="start" font-weight="bold" fill="#000"  >c</text>
<line x1="37.9" y1="296.6" x2="37.9" y2="357.8" stroke="#111" stroke-width="1.1"/>
<line x1="35.6" y1="355.30" x2="37.9" y2="355.30" stroke="#333" stroke-width="0.9"/>
<text transform="translate(34.20 357.50) scale(0.935 1)" font-size="6.63" text-anchor="end" font-weight="normal" fill="#4d4d4d" stroke="#4d4d4d" stroke-width="0.12" >0</text>
<line x1="35.6" y1="334.80" x2="37.9" y2="334.80" stroke="#333" stroke-width="0.9"/>
<text transform="translate(34.20 337.00) scale(0.935 1)" font-size="6.63" text-anchor="end" font-weight="normal" fill="#4d4d4d" stroke="#4d4d4d" stroke-width="0.12" >20</text>
<line x1="35.6" y1="314.30" x2="37.9" y2="314.30" stroke="#333" stroke-width="0.9"/>
<text transform="translate(34.20 316.50) scale(0.935 1)" font-size="6.63" text-anchor="end" font-weight="normal" fill="#4d4d4d" stroke="#4d4d4d" stroke-width="0.12" >40</text>
<text x="0" y="0" font-size="8.56" text-anchor="middle" fill="#222" stroke="#222" stroke-width="0.22" transform="translate(21.2 329.2) rotate(-90) scale(0.935 1)">gbcxMRS</text>
<g fill="#1d68a8"><circle cx="40.8" cy="355.0" r="1.65"/><circle cx="41.8" cy="355.0" r="1.65"/><circle cx="42.8" cy="355.0" r="1.65"/><circle cx="43.8" cy="355.0" r="1.65"/><circle cx="44.8" cy="355.0" r="1.65"/><circle cx="45.8" cy="355.0" r="1.65"/><circle cx="46.8" cy="355.0" r="1.65"/><circle cx="47.8" cy="355.0" r="1.65"/><circle cx="48.8" cy="355.0" r="1.65"/><circle cx="49.9" cy="355.0" r="1.65"/><circle cx="50.9" cy="355.0" r="1.65"/><circle cx="51.9" cy="354.9" r="1.65"/><circle cx="52.9" cy="354.9" r="1.65"/><circle cx="53.9" cy="354.9" r="1.65"/><circle cx="54.9" cy="354.9" r="1.65"/><circle cx="55.9" cy="354.9" r="1.65"/><circle cx="56.9" cy="354.9" r="1.65"/><circle cx="57.9" cy="354.9" r="1.65"/><circle cx="58.9" cy="354.9" r="1.65"/><circle cx="59.9" cy="354.9" r="1.65"/><circle cx="60.9" cy="354.9" r="1.65"/><circle cx="61.9" cy="354.9" r="1.65"/><circle cx="62.9" cy="354.9" r="1.65"/><circle cx="63.9" cy="354.9" r="1.65"/><circle cx="64.9" cy="354.9" r="1.65"/><circle cx="66.0" cy="354.9" r="1.65"/><circle cx="67.0" cy="354.9" r="1.65"/><circle cx="68.0" cy="354.9" r="1.65"/><circle cx="69.0" cy="354.9" r="1.65"/><circle cx="70.0" cy="354.9" r="1.65"/><circle cx="71.0" cy="354.9" r="1.65"/><circle cx="72.0" cy="354.9" r="1.65"/><circle cx="73.0" cy="354.9" r="1.65"/><circle cx="74.0" cy="354.9" r="1.65"/><circle cx="75.0" cy="354.8" r="1.65"/><circle cx="76.0" cy="354.8" r="1.65"/><circle cx="77.0" cy="354.8" r="1.65"/><circle cx="78.0" cy="354.8" r="1.65"/><circle cx="79.0" cy="354.8" r="1.65"/><circle cx="80.0" cy="354.8" r="1.65"/><circle cx="81.0" cy="354.8" r="1.65"/><circle cx="82.1" cy="354.8" r="1.65"/><circle cx="83.1" cy="354.8" r="1.65"/><circle cx="84.1" cy="354.8" r="1.65"/><circle cx="85.1" cy="354.8" r="1.65"/><circle cx="86.1" cy="354.8" r="1.65"/><circle cx="87.1" cy="354.8" r="1.65"/><circle cx="88.1" cy="354.8" r="1.65"/><circle cx="89.1" cy="354.8" r="1.65"/><circle cx="90.1" cy="354.8" r="1.65"/><circle cx="91.1" cy="354.8" r="1.65"/><circle cx="92.1" cy="354.8" r="1.65"/><circle cx="93.1" cy="354.8" r="1.65"/><circle cx="94.1" cy="354.8" r="1.65"/><circle cx="95.1" cy="354.8" r="1.65"/><circle cx="96.1" cy="354.8" r="1.65"/><circle cx="97.1" cy="354.8" r="1.65"/><circle cx="98.1" cy="354.7" r="1.65"/><circle cx="99.2" cy="354.7" r="1.65"/><circle cx="100.2" cy="354.7" r="1.65"/><circle cx="101.2" cy="354.7" r="1.65"/><circle cx="102.2" cy="354.7" r="1.65"/><circle cx="103.2" cy="354.7" r="1.65"/><circle cx="104.2" cy="354.7" r="1.65"/><circle cx="105.2" cy="354.7" r="1.65"/><circle cx="106.2" cy="354.7" r="1.65"/><circle cx="107.2" cy="354.7" r="1.65"/><circle cx="108.2" cy="354.7" r="1.65"/><circle cx="109.2" cy="354.7" r="1.65"/><circle cx="110.2" cy="354.7" r="1.65"/><circle cx="111.2" cy="354.7" r="1.65"/><circle cx="112.2" cy="354.7" r="1.65"/><circle cx="113.2" cy="354.7" r="1.65"/><circle cx="114.2" cy="354.7" r="1.65"/><circle cx="115.3" cy="354.7" r="1.65"/><circle cx="116.3" cy="354.7" r="1.65"/><circle cx="117.3" cy="354.7" r="1.65"/><circle cx="118.3" cy="354.7" r="1.65"/><circle cx="119.3" cy="354.7" r="1.65"/><circle cx="120.3" cy="354.7" r="1.65"/><circle cx="121.3" cy="354.6" r="1.65"/><circle cx="122.3" cy="354.6" r="1.65"/><circle cx="123.3" cy="354.6" r="1.65"/><circle cx="124.3" cy="354.6" r="1.65"/><circle cx="125.3" cy="354.6" r="1.65"/><circle cx="126.3" cy="354.6" r="1.65"/><circle cx="127.3" cy="354.6" r="1.65"/><circle cx="128.3" cy="354.6" r="1.65"/><circle cx="129.3" cy="354.6" r="1.65"/><circle cx="130.3" cy="354.6" r="1.65"/><circle cx="131.4" cy="354.6" r="1.65"/><circle cx="132.4" cy="354.6" r="1.65"/><circle cx="133.4" cy="354.6" r="1.65"/><circle cx="134.4" cy="354.6" r="1.65"/><circle cx="135.4" cy="354.6" r="1.65"/><circle cx="136.4" cy="354.6" r="1.65"/><circle cx="137.4" cy="354.6" r="1.65"/><circle cx="138.4" cy="354.6" r="1.65"/><circle cx="139.4" cy="354.6" r="1.65"/><circle cx="140.4" cy="354.6" r="1.65"/><circle cx="141.4" cy="354.6" r="1.65"/><circle cx="142.4" cy="354.6" r="1.65"/><circle cx="143.4" cy="354.6" r="1.65"/><circle cx="144.4" cy="354.5" r="1.65"/><circle cx="145.4" cy="354.5" r="1.65"/><circle cx="146.4" cy="354.5" r="1.65"/><circle cx="147.4" cy="354.5" r="1.65"/><circle cx="148.5" cy="354.5" r="1.65"/><circle cx="149.5" cy="354.5" r="1.65"/><circle cx="150.5" cy="354.5" r="1.65"/><circle cx="151.5" cy="354.5" r="1.65"/><circle cx="152.5" cy="354.5" r="1.65"/><circle cx="153.5" cy="354.5" r="1.65"/><circle cx="154.5" cy="354.5" r="1.65"/></g>
<g fill="#b9402b"><circle cx="155.5" cy="354.5" r="1.9"/><circle cx="156.5" cy="354.5" r="1.9"/><circle cx="157.5" cy="354.5" r="1.9"/><circle cx="158.5" cy="354.5" r="1.9"/><circle cx="159.5" cy="354.5" r="1.9"/><circle cx="160.5" cy="354.5" r="1.9"/><circle cx="161.5" cy="354.5" r="1.9"/><circle cx="162.5" cy="354.4" r="1.9"/><circle cx="163.5" cy="354.4" r="1.9"/><circle cx="164.6" cy="354.4" r="1.9"/><circle cx="165.6" cy="354.4" r="1.9"/><circle cx="166.6" cy="354.4" r="1.9"/><circle cx="167.6" cy="354.4" r="1.9"/><circle cx="168.6" cy="354.4" r="1.9"/><circle cx="169.6" cy="354.4" r="1.9"/><circle cx="170.6" cy="354.4" r="1.9"/><circle cx="171.6" cy="354.4" r="1.9"/><circle cx="172.6" cy="354.4" r="1.9"/><circle cx="173.6" cy="354.4" r="1.9"/><circle cx="174.6" cy="354.4" r="1.9"/><circle cx="175.6" cy="354.4" r="1.9"/><circle cx="176.6" cy="354.4" r="1.9"/><circle cx="177.6" cy="354.3" r="1.9"/><circle cx="178.6" cy="354.3" r="1.9"/><circle cx="179.6" cy="354.3" r="1.9"/><circle cx="180.6" cy="354.3" r="1.9"/><circle cx="181.7" cy="354.3" r="1.9"/><circle cx="182.7" cy="354.3" r="1.9"/><circle cx="183.7" cy="354.3" r="1.9"/><circle cx="184.7" cy="354.3" r="1.9"/><circle cx="185.7" cy="354.3" r="1.9"/><circle cx="186.7" cy="354.3" r="1.9"/><circle cx="187.7" cy="354.3" r="1.9"/><circle cx="188.7" cy="354.3" r="1.9"/><circle cx="189.7" cy="354.3" r="1.9"/><circle cx="190.7" cy="354.3" r="1.9"/><circle cx="191.7" cy="354.3" r="1.9"/><circle cx="192.7" cy="354.2" r="1.9"/><circle cx="193.7" cy="354.2" r="1.9"/><circle cx="194.7" cy="354.2" r="1.9"/><circle cx="195.7" cy="354.2" r="1.9"/><circle cx="196.7" cy="354.2" r="1.9"/><circle cx="197.8" cy="354.2" r="1.9"/><circle cx="198.8" cy="354.2" r="1.9"/><circle cx="199.8" cy="354.2" r="1.9"/><circle cx="200.8" cy="354.1" r="1.9"/><circle cx="201.8" cy="354.1" r="1.9"/><circle cx="202.8" cy="354.0" r="1.9"/><circle cx="203.8" cy="353.9" r="1.9"/><circle cx="204.8" cy="353.9" r="1.9"/><circle cx="205.8" cy="353.8" r="1.9"/><circle cx="206.8" cy="353.7" r="1.9"/><circle cx="207.8" cy="353.6" r="1.9"/><circle cx="208.8" cy="353.6" r="1.9"/><circle cx="209.8" cy="353.5" r="1.9"/><circle cx="210.8" cy="353.4" r="1.9"/><circle cx="211.8" cy="353.4" r="1.9"/><circle cx="212.8" cy="353.3" r="1.9"/><circle cx="213.9" cy="353.2" r="1.9"/><circle cx="214.9" cy="353.1" r="1.9"/><circle cx="215.9" cy="353.1" r="1.9"/><circle cx="216.9" cy="353.0" r="1.9"/><circle cx="217.9" cy="352.9" r="1.9"/><circle cx="218.9" cy="352.9" r="1.9"/><circle cx="219.9" cy="352.8" r="1.9"/><circle cx="220.9" cy="352.7" r="1.9"/><circle cx="221.9" cy="352.6" r="1.9"/><circle cx="222.9" cy="352.6" r="1.9"/><circle cx="223.9" cy="352.5" r="1.9"/><circle cx="224.9" cy="352.4" r="1.9"/><circle cx="225.9" cy="352.4" r="1.9"/><circle cx="226.9" cy="352.3" r="1.9"/><circle cx="227.9" cy="352.2" r="1.9"/><circle cx="228.9" cy="352.1" r="1.9"/><circle cx="229.9" cy="352.1" r="1.9"/><circle cx="231.0" cy="352.0" r="1.9"/><circle cx="232.0" cy="351.9" r="1.9"/><circle cx="233.0" cy="351.9" r="1.9"/><circle cx="234.0" cy="351.8" r="1.9"/><circle cx="235.0" cy="351.7" r="1.9"/><circle cx="236.0" cy="351.7" r="1.9"/><circle cx="237.0" cy="351.5" r="1.9"/><circle cx="238.0" cy="351.3" r="1.9"/><circle cx="239.0" cy="351.1" r="1.9"/><circle cx="240.0" cy="350.9" r="1.9"/><circle cx="241.0" cy="350.7" r="1.9"/><circle cx="242.0" cy="350.5" r="1.9"/><circle cx="243.0" cy="350.3" r="1.9"/><circle cx="244.0" cy="350.1" r="1.9"/><circle cx="245.0" cy="349.9" r="1.9"/><circle cx="246.0" cy="349.7" r="1.9"/><circle cx="247.1" cy="349.5" r="1.9"/><circle cx="248.1" cy="349.3" r="1.9"/><circle cx="249.1" cy="349.1" r="1.9"/><circle cx="250.1" cy="348.9" r="1.9"/><circle cx="251.1" cy="348.7" r="1.9"/><circle cx="252.1" cy="348.5" r="1.9"/><circle cx="253.1" cy="348.3" r="1.9"/><circle cx="254.1" cy="348.1" r="1.9"/><circle cx="255.1" cy="347.9" r="1.9"/><circle cx="256.1" cy="347.5" r="1.9"/><circle cx="257.1" cy="347.2" r="1.9"/><circle cx="258.1" cy="346.8" r="1.9"/><circle cx="259.1" cy="346.5" r="1.9"/><circle cx="260.1" cy="346.1" r="1.9"/><circle cx="261.1" cy="345.8" r="1.9"/><circle cx="262.1" cy="345.4" r="1.9"/><circle cx="263.2" cy="344.6" r="1.9"/><circle cx="264.2" cy="343.8" r="1.9"/><circle cx="265.2" cy="343.1" r="1.9"/><circle cx="266.2" cy="341.0" r="1.9"/><circle cx="267.2" cy="338.3" r="1.9"/><circle cx="268.2" cy="337.5" r="1.9"/><circle cx="269.2" cy="334.3" r="1.9"/><circle cx="270.2" cy="318.2" r="1.9"/><circle cx="271.2" cy="299.1" r="1.9"/></g>
<line x1="155.2" y1="302.6" x2="155.2" y2="428" stroke="#000" stroke-width="2" stroke-dasharray="2 6.85"/>
<text transform="translate(283.40 318.40) scale(0.935 1)" font-size="8.13" text-anchor="start" font-weight="normal" fill="#222" stroke="#222" stroke-width="0.22" >gbcxMRS Group</text>
<rect x="285.6" y="323.5" width="7.8" height="19" fill="#f2f2f2"/>
<circle cx="288.6" cy="328.1" r="1.9" fill="#b9402b"/><circle cx="288.6" cy="338" r="1.9" fill="#1d68a8"/>
<text transform="translate(297.60 330.30) scale(0.935 1)" font-size="6.63" text-anchor="start" font-weight="normal" fill="#222" stroke="#222" stroke-width="0.12" >High</text>
<text transform="translate(297.60 340.20) scale(0.935 1)" font-size="6.63" text-anchor="start" font-weight="normal" fill="#222" stroke="#222" stroke-width="0.12" >Low</text>
<line x1="37.4" y1="366.6" x2="37.4" y2="427.5" stroke="#111" stroke-width="1.1"/>
<line x1="35.1" y1="425.30" x2="37.4" y2="425.30" stroke="#333" stroke-width="0.9"/>
<text transform="translate(34.20 427.50) scale(0.935 1)" font-size="6.63" text-anchor="end" font-weight="normal" fill="#4d4d4d" stroke="#4d4d4d" stroke-width="0.12" >0</text>
<line x1="35.1" y1="406.05" x2="37.4" y2="406.05" stroke="#333" stroke-width="0.9"/>
<text transform="translate(34.20 408.25) scale(0.935 1)" font-size="6.63" text-anchor="end" font-weight="normal" fill="#4d4d4d" stroke="#4d4d4d" stroke-width="0.12" >50</text>
<line x1="35.1" y1="386.80" x2="37.4" y2="386.80" stroke="#333" stroke-width="0.9"/>
<text transform="translate(34.20 389.00) scale(0.935 1)" font-size="6.63" text-anchor="end" font-weight="normal" fill="#4d4d4d" stroke="#4d4d4d" stroke-width="0.12" >100</text>
<line x1="35.1" y1="367.55" x2="37.4" y2="367.55" stroke="#333" stroke-width="0.9"/>
<text transform="translate(34.20 369.75) scale(0.935 1)" font-size="6.63" text-anchor="end" font-weight="normal" fill="#4d4d4d" stroke="#4d4d4d" stroke-width="0.12" >150</text>
<text x="0" y="0" font-size="8.98" text-anchor="middle" fill="#222" stroke="#222" stroke-width="0.22" transform="translate(17.4 397) rotate(-90) scale(0.935 1)">Survival Time</text>
<g fill="#1d68a8"><circle cx="40.1" cy="382.3" r="1.8"/><circle cx="41.0" cy="404.4" r="1.8"/><circle cx="42.3" cy="410.5" r="1.8"/><circle cx="42.8" cy="419.5" r="1.8"/><circle cx="44.6" cy="396.5" r="1.8"/><circle cx="46.1" cy="408.2" r="1.8"/><circle cx="47.3" cy="416.1" r="1.8"/><circle cx="48.4" cy="421.1" r="1.8"/><circle cx="49.5" cy="402.6" r="1.8"/><circle cx="51.3" cy="415.0" r="1.8"/><circle cx="54.0" cy="404.4" r="1.8"/><circle cx="54.5" cy="389.5" r="1.8"/><circle cx="55.8" cy="421.1" r="1.8"/><circle cx="56.7" cy="401.5" r="1.8"/><circle cx="58.1" cy="421.1" r="1.8"/><circle cx="58.5" cy="416.1" r="1.8"/><circle cx="59.7" cy="420.2" r="1.8"/><circle cx="60.8" cy="416.1" r="1.8"/><circle cx="62.6" cy="386.8" r="1.8"/><circle cx="63.5" cy="392.4" r="1.8"/><circle cx="64.9" cy="403.3" r="1.8"/><circle cx="66.4" cy="413.9" r="1.8"/><circle cx="67.6" cy="410.5" r="1.8"/><circle cx="69.4" cy="411.2" r="1.8"/><circle cx="70.9" cy="384.5" r="1.8"/><circle cx="72.1" cy="417.9" r="1.8"/><circle cx="74.8" cy="403.7" r="1.8"/><circle cx="76.6" cy="377.8" r="1.8"/><circle cx="77.7" cy="413.4" r="1.8"/><circle cx="80.0" cy="413.4" r="1.8"/><circle cx="81.1" cy="421.1" r="1.8"/><circle cx="83.4" cy="380.0" r="1.8"/><circle cx="84.5" cy="421.1" r="1.8"/><circle cx="85.2" cy="383.4" r="1.8"/><circle cx="86.7" cy="412.7" r="1.8"/><circle cx="89.0" cy="415.7" r="1.8"/><circle cx="90.6" cy="406.0" r="1.8"/><circle cx="91.9" cy="421.1" r="1.8"/><circle cx="92.4" cy="425.1" r="1.8"/><circle cx="95.1" cy="408.9" r="1.8"/><circle cx="95.8" cy="391.8" r="1.8"/><circle cx="96.4" cy="406.0" r="1.8"/><circle cx="98.7" cy="369.9" r="1.8"/><circle cx="100.3" cy="400.3" r="1.8"/><circle cx="101.4" cy="411.6" r="1.8"/><circle cx="103.6" cy="415.0" r="1.8"/><circle cx="105.9" cy="421.1" r="1.8"/><circle cx="107.7" cy="380.0" r="1.8"/><circle cx="108.6" cy="416.1" r="1.8"/><circle cx="110.4" cy="414.3" r="1.8"/><circle cx="112.2" cy="417.2" r="1.8"/><circle cx="113.1" cy="388.6" r="1.8"/><circle cx="114.5" cy="404.8" r="1.8"/><circle cx="116.0" cy="408.9" r="1.8"/><circle cx="116.7" cy="412.7" r="1.8"/><circle cx="118.3" cy="393.6" r="1.8"/><circle cx="119.9" cy="384.5" r="1.8"/><circle cx="121.2" cy="412.1" r="1.8"/><circle cx="122.8" cy="416.1" r="1.8"/><circle cx="123.9" cy="424.0" r="1.8"/><circle cx="125.7" cy="403.7" r="1.8"/><circle cx="127.3" cy="396.3" r="1.8"/><circle cx="128.4" cy="406.6" r="1.8"/><circle cx="130.3" cy="424.0" r="1.8"/><circle cx="133.4" cy="416.1" r="1.8"/><circle cx="135.2" cy="424.0" r="1.8"/><circle cx="137.0" cy="406.6" r="1.8"/><circle cx="138.6" cy="421.1" r="1.8"/><circle cx="139.7" cy="421.8" r="1.8"/><circle cx="140.8" cy="417.9" r="1.8"/><circle cx="142.0" cy="424.0" r="1.8"/><circle cx="145.4" cy="386.8" r="1.8"/><circle cx="147.6" cy="421.1" r="1.8"/><circle cx="153.2" cy="414.3" r="1.8"/><circle cx="156.8" cy="368.8" r="1.8"/><circle cx="185.6" cy="386.4" r="1.8"/><circle cx="213.6" cy="399.9" r="1.8"/><circle cx="173.0" cy="409.4" r="1.8"/><circle cx="174.4" cy="407.1" r="1.8"/><circle cx="202.3" cy="408.2" r="1.8"/><circle cx="155.0" cy="415.0" r="1.8"/><circle cx="160.1" cy="416.1" r="1.8"/><circle cx="162.4" cy="413.4" r="1.8"/><circle cx="174.8" cy="417.2" r="1.8"/><circle cx="192.8" cy="417.2" r="1.8"/><circle cx="195.1" cy="418.4" r="1.8"/><circle cx="208.6" cy="413.9" r="1.8"/><circle cx="209.8" cy="416.1" r="1.8"/><circle cx="236.8" cy="415.7" r="1.8"/><circle cx="240.2" cy="422.4" r="1.8"/><circle cx="248.1" cy="424.0" r="1.8"/><circle cx="215.4" cy="419.5" r="1.8"/><circle cx="154.1" cy="420.6" r="1.8"/></g>
<g fill="#b9402b"><circle cx="43.9" cy="409.4" r="1.8"/><circle cx="51.3" cy="410.5" r="1.8"/><circle cx="54.0" cy="412.1" r="1.8"/><circle cx="59.7" cy="418.8" r="1.8"/><circle cx="63.5" cy="418.4" r="1.8"/><circle cx="71.6" cy="412.1" r="1.8"/><circle cx="74.3" cy="410.5" r="1.8"/><circle cx="76.1" cy="416.1" r="1.8"/><circle cx="77.7" cy="417.2" r="1.8"/><circle cx="78.8" cy="409.4" r="1.8"/><circle cx="81.1" cy="411.6" r="1.8"/><circle cx="82.9" cy="399.9" r="1.8"/><circle cx="86.1" cy="410.5" r="1.8"/><circle cx="89.0" cy="410.5" r="1.8"/><circle cx="90.1" cy="408.2" r="1.8"/><circle cx="93.5" cy="375.1" r="1.8"/><circle cx="94.6" cy="417.2" r="1.8"/><circle cx="96.9" cy="392.4" r="1.8"/><circle cx="97.3" cy="420.2" r="1.8"/><circle cx="99.1" cy="401.5" r="1.8"/><circle cx="101.4" cy="403.7" r="1.8"/><circle cx="102.5" cy="409.4" r="1.8"/><circle cx="103.2" cy="416.1" r="1.8"/><circle cx="105.9" cy="416.1" r="1.8"/><circle cx="108.2" cy="415.0" r="1.8"/><circle cx="110.0" cy="421.1" r="1.8"/><circle cx="112.7" cy="422.4" r="1.8"/><circle cx="116.0" cy="399.2" r="1.8"/><circle cx="117.2" cy="416.6" r="1.8"/><circle cx="119.9" cy="401.5" r="1.8"/><circle cx="121.2" cy="416.1" r="1.8"/><circle cx="123.5" cy="400.8" r="1.8"/><circle cx="125.1" cy="416.1" r="1.8"/><circle cx="126.2" cy="402.6" r="1.8"/><circle cx="128.0" cy="415.7" r="1.8"/><circle cx="129.6" cy="408.2" r="1.8"/><circle cx="130.7" cy="410.5" r="1.8"/><circle cx="131.8" cy="412.1" r="1.8"/><circle cx="133.4" cy="409.4" r="1.8"/><circle cx="134.1" cy="417.9" r="1.8"/><circle cx="135.2" cy="412.1" r="1.8"/><circle cx="137.0" cy="420.2" r="1.8"/><circle cx="139.7" cy="414.3" r="1.8"/><circle cx="143.1" cy="415.7" r="1.8"/><circle cx="146.0" cy="390.2" r="1.8"/><circle cx="146.5" cy="404.8" r="1.8"/><circle cx="148.3" cy="416.6" r="1.8"/><circle cx="149.9" cy="402.6" r="1.8"/><circle cx="151.4" cy="422.9" r="1.8"/><circle cx="153.2" cy="421.1" r="1.8"/><circle cx="157.9" cy="395.4" r="1.8"/><circle cx="172.1" cy="398.1" r="1.8"/><circle cx="151.1" cy="402.6" r="1.8"/><circle cx="183.4" cy="405.3" r="1.8"/><circle cx="190.1" cy="406.0" r="1.8"/><circle cx="198.5" cy="404.4" r="1.8"/><circle cx="176.6" cy="408.2" r="1.8"/><circle cx="180.4" cy="412.1" r="1.8"/><circle cx="186.1" cy="412.7" r="1.8"/><circle cx="192.8" cy="412.1" r="1.8"/><circle cx="156.8" cy="409.4" r="1.8"/><circle cx="151.1" cy="416.1" r="1.8"/><circle cx="209.0" cy="420.8" r="1.8"/><circle cx="264.1" cy="421.6" r="1.8"/><circle cx="215.5" cy="421.2" r="1.8"/><circle cx="177.8" cy="419.5" r="1.8"/><circle cx="229.7" cy="423.1" r="1.8"/><circle cx="167.3" cy="416.8" r="1.8"/><circle cx="166.9" cy="422.5" r="1.8"/><circle cx="237.1" cy="417.7" r="1.8"/><circle cx="270.8" cy="424.5" r="1.8"/><circle cx="232.5" cy="421.8" r="1.8"/><circle cx="174.7" cy="414.0" r="1.8"/><circle cx="217.9" cy="416.8" r="1.8"/><circle cx="178.5" cy="416.6" r="1.8"/><circle cx="159.8" cy="418.4" r="1.8"/><circle cx="207.7" cy="423.3" r="1.8"/><circle cx="216.8" cy="421.6" r="1.8"/><circle cx="214.6" cy="421.8" r="1.8"/><circle cx="209.6" cy="418.3" r="1.8"/><circle cx="272.6" cy="424.7" r="1.8"/><circle cx="254.3" cy="422.9" r="1.8"/><circle cx="193.1" cy="417.1" r="1.8"/><circle cx="190.0" cy="415.4" r="1.8"/><circle cx="245.6" cy="420.6" r="1.8"/><circle cx="255.0" cy="420.9" r="1.8"/><circle cx="268.0" cy="423.8" r="1.8"/><circle cx="156.4" cy="415.2" r="1.8"/><circle cx="262.4" cy="421.6" r="1.8"/><circle cx="270.6" cy="421.5" r="1.8"/><circle cx="164.8" cy="420.4" r="1.8"/><circle cx="247.1" cy="419.8" r="1.8"/><circle cx="166.5" cy="417.1" r="1.8"/><circle cx="268.7" cy="423.4" r="1.8"/><circle cx="170.1" cy="416.3" r="1.8"/><circle cx="168.1" cy="414.1" r="1.8"/><circle cx="249.2" cy="419.3" r="1.8"/><circle cx="221.5" cy="420.2" r="1.8"/><circle cx="178.5" cy="421.8" r="1.8"/><circle cx="171.6" cy="420.7" r="1.8"/><circle cx="169.9" cy="418.2" r="1.8"/><circle cx="181.1" cy="417.0" r="1.8"/><circle cx="269.5" cy="423.6" r="1.8"/><circle cx="191.8" cy="423.5" r="1.8"/><circle cx="180.9" cy="418.3" r="1.8"/><circle cx="255.9" cy="422.5" r="1.8"/><circle cx="168.0" cy="424.6" r="1.8"/><circle cx="181.2" cy="416.9" r="1.8"/><circle cx="246.4" cy="420.2" r="1.8"/><circle cx="190.9" cy="415.5" r="1.8"/><circle cx="166.8" cy="420.0" r="1.8"/><circle cx="184.6" cy="420.6" r="1.8"/><circle cx="199.6" cy="419.5" r="1.8"/><circle cx="268.1" cy="421.9" r="1.8"/><circle cx="223.3" cy="423.6" r="1.8"/><circle cx="177.6" cy="415.6" r="1.8"/><circle cx="262.2" cy="423.6" r="1.8"/><circle cx="185.4" cy="416.4" r="1.8"/><circle cx="242.5" cy="424.3" r="1.8"/><circle cx="179.2" cy="424.2" r="1.8"/><circle cx="259.2" cy="422.3" r="1.8"/><circle cx="205.4" cy="416.5" r="1.8"/><circle cx="160.8" cy="424.2" r="1.8"/><circle cx="184.1" cy="421.6" r="1.8"/><circle cx="186.3" cy="422.9" r="1.8"/><circle cx="225.8" cy="419.1" r="1.8"/><circle cx="176.8" cy="421.7" r="1.8"/><circle cx="164.3" cy="415.8" r="1.8"/><circle cx="221.5" cy="423.5" r="1.8"/><circle cx="227.9" cy="419.1" r="1.8"/><circle cx="263.3" cy="420.1" r="1.8"/><circle cx="158.2" cy="416.0" r="1.8"/><circle cx="208.3" cy="416.3" r="1.8"/><circle cx="176.9" cy="417.9" r="1.8"/><circle cx="223.0" cy="417.7" r="1.8"/><circle cx="198.5" cy="423.6" r="1.8"/><circle cx="270.6" cy="422.9" r="1.8"/><circle cx="236.9" cy="421.7" r="1.8"/><circle cx="172.7" cy="414.1" r="1.8"/><circle cx="158.4" cy="423.6" r="1.8"/><circle cx="238.0" cy="424.4" r="1.8"/><circle cx="158.8" cy="420.4" r="1.8"/><circle cx="212.5" cy="422.3" r="1.8"/><circle cx="193.5" cy="424.7" r="1.8"/><circle cx="165.1" cy="419.5" r="1.8"/><circle cx="242.2" cy="424.0" r="1.8"/><circle cx="242.2" cy="422.6" r="1.8"/><circle cx="248.8" cy="424.1" r="1.8"/><circle cx="197.3" cy="421.7" r="1.8"/><circle cx="261.3" cy="423.9" r="1.8"/><circle cx="204.9" cy="422.8" r="1.8"/><circle cx="257.0" cy="422.1" r="1.8"/><circle cx="229.2" cy="419.9" r="1.8"/><circle cx="224.2" cy="421.6" r="1.8"/><circle cx="165.7" cy="420.6" r="1.8"/><circle cx="272.1" cy="424.1" r="1.8"/><circle cx="241.2" cy="420.4" r="1.8"/><circle cx="242.0" cy="421.8" r="1.8"/><circle cx="207.7" cy="423.2" r="1.8"/><circle cx="166.1" cy="421.8" r="1.8"/><circle cx="159.8" cy="420.0" r="1.8"/><circle cx="212.4" cy="418.0" r="1.8"/><circle cx="237.7" cy="421.1" r="1.8"/><circle cx="227.9" cy="424.1" r="1.8"/><circle cx="186.1" cy="414.6" r="1.8"/><circle cx="191.4" cy="421.5" r="1.8"/><circle cx="179.9" cy="415.9" r="1.8"/><circle cx="261.9" cy="422.7" r="1.8"/><circle cx="207.8" cy="423.7" r="1.8"/><circle cx="194.4" cy="421.4" r="1.8"/><circle cx="179.5" cy="418.6" r="1.8"/><circle cx="250.3" cy="424.1" r="1.8"/><circle cx="258.9" cy="421.0" r="1.8"/><circle cx="224.3" cy="419.2" r="1.8"/><circle cx="172.2" cy="419.1" r="1.8"/><circle cx="253.9" cy="423.7" r="1.8"/><circle cx="239.2" cy="424.3" r="1.8"/></g>
<text transform="translate(287.50 387.70) scale(0.935 1)" font-size="8.13" text-anchor="start" font-weight="normal" fill="#222" stroke="#222" stroke-width="0.22" >Status</text>
<rect x="287.3" y="393.7" width="9.5" height="18.7" fill="#f2f2f2"/>
<circle cx="292.3" cy="397.6" r="1.9" fill="#1d68a8"/><circle cx="292.3" cy="408.1" r="1.9" fill="#b9402b"/>
<text transform="translate(301.30 400.20) scale(0.935 1)" font-size="6.63" text-anchor="start" font-weight="normal" fill="#222" stroke="#222" stroke-width="0.12" >Alive</text>
<text transform="translate(301.30 410.70) scale(0.935 1)" font-size="6.63" text-anchor="start" font-weight="normal" fill="#222" stroke="#222" stroke-width="0.12" >Dead</text>
<rect x="40" y="435.5" width="115.3" height="5.6" fill="#1f68a8"/>
<rect x="155.3" y="435.5" width="115.9" height="5.6" fill="#b6412c"/>
<text transform="translate(35.30 452.53) scale(0.84 1)" font-size="7.86" text-anchor="end" font-weight="normal" fill="#222" stroke="#222" stroke-width="0.08" >CXCL16</text>
<text transform="translate(35.30 458.19) scale(0.84 1)" font-size="7.86" text-anchor="end" font-weight="normal" fill="#222" stroke="#222" stroke-width="0.08" >ALDOC</text>
<text transform="translate(35.30 463.85) scale(0.84 1)" font-size="7.86" text-anchor="end" font-weight="normal" fill="#222" stroke="#222" stroke-width="0.08" >SULT1B1</text>
<text transform="translate(35.30 469.51) scale(0.84 1)" font-size="7.86" text-anchor="end" font-weight="normal" fill="#222" stroke="#222" stroke-width="0.08" >PFKM</text>
<text transform="translate(35.30 475.17) scale(0.84 1)" font-size="7.86" text-anchor="end" font-weight="normal" fill="#222" stroke="#222" stroke-width="0.08" >EFHC1</text>
<text transform="translate(35.30 480.83) scale(0.84 1)" font-size="7.86" text-anchor="end" font-weight="normal" fill="#222" stroke="#222" stroke-width="0.08" >SLC6A6</text>
<text transform="translate(35.30 486.49) scale(0.84 1)" font-size="7.86" text-anchor="end" font-weight="normal" fill="#222" stroke="#222" stroke-width="0.08" >NPC1</text>
<text transform="translate(35.30 492.15) scale(0.84 1)" font-size="7.86" text-anchor="end" font-weight="normal" fill="#222" stroke="#222" stroke-width="0.08" >LONP1</text>
<text transform="translate(35.30 497.81) scale(0.84 1)" font-size="7.86" text-anchor="end" font-weight="normal" fill="#222" stroke="#222" stroke-width="0.08" >HES6</text>
<text transform="translate(35.30 503.47) scale(0.84 1)" font-size="7.86" text-anchor="end" font-weight="normal" fill="#222" stroke="#222" stroke-width="0.08" >ENPEP</text>
<text transform="translate(35.30 509.13) scale(0.84 1)" font-size="7.86" text-anchor="end" font-weight="normal" fill="#222" stroke="#222" stroke-width="0.08" >CDA</text>
<text transform="translate(35.30 514.79) scale(0.84 1)" font-size="7.86" text-anchor="end" font-weight="normal" fill="#222" stroke="#222" stroke-width="0.08" >VLDLR</text>
<text transform="translate(35.30 520.45) scale(0.84 1)" font-size="7.86" text-anchor="end" font-weight="normal" fill="#222" stroke="#222" stroke-width="0.08" >TPI1</text>
<text transform="translate(35.30 526.11) scale(0.84 1)" font-size="7.86" text-anchor="end" font-weight="normal" fill="#222" stroke="#222" stroke-width="0.08" >PC</text>
<text transform="translate(35.30 531.77) scale(0.84 1)" font-size="7.86" text-anchor="end" font-weight="normal" fill="#222" stroke="#222" stroke-width="0.08" >ECD</text>
<text transform="translate(35.30 537.43) scale(0.84 1)" font-size="7.86" text-anchor="end" font-weight="normal" fill="#222" stroke="#222" stroke-width="0.08" >BPNT1</text>
<path fill="#f0ded2" d="M40.0 447.00h1.5v5.66h-1.5zM92.5 452.66h1.5v5.66h-1.5zM74.5 458.32h1.5v5.66h-1.5zM77.5 458.32h1.5v5.66h-1.5zM233.5 458.32h1.5v5.66h-1.5zM94.0 469.64h1.5v5.66h-1.5zM92.5 475.30h1.5v5.66h-1.5zM251.5 475.30h1.5v5.66h-1.5zM125.5 486.62h1.5v5.66h-1.5zM128.5 486.62h1.5v5.66h-1.5zM131.5 492.28h1.5v5.66h-1.5zM227.5 492.28h1.5v5.66h-1.5zM94.0 503.60h1.5v5.66h-1.5zM167.5 509.26h1.5v5.66h-1.5zM76.0 514.92h1.5v5.66h-1.5zM179.5 514.92h1.5v5.66h-1.5zM184.0 520.58h1.5v5.66h-1.5zM107.5 526.24h1.5v5.66h-1.5zM80.5 531.90h1.5v5.66h-1.5zM161.5 531.90h1.5v5.66h-1.5z"/>
<path fill="#f6eaf0" d="M41.5 447.00h1.5v5.66h-1.5zM101.5 447.00h1.5v5.66h-1.5zM178.0 447.00h1.5v5.66h-1.5zM265.0 447.00h1.5v5.66h-1.5zM139.0 452.66h1.5v5.66h-1.5zM191.5 452.66h1.5v5.66h-1.5zM103.0 458.32h1.5v5.66h-1.5zM241.0 458.32h1.5v5.66h-1.5zM106.0 463.98h1.5v5.66h-1.5zM178.0 463.98h1.5v5.66h-1.5zM194.5 463.98h1.5v5.66h-1.5zM67.0 469.64h1.5v5.66h-1.5zM161.5 469.64h1.5v5.66h-1.5zM172.0 469.64h1.5v5.66h-1.5zM220.0 469.64h1.5v5.66h-1.5zM110.5 475.30h1.5v5.66h-1.5zM61.0 480.96h1.5v5.66h-1.5zM76.0 480.96h1.5v5.66h-1.5zM200.5 480.96h1.5v5.66h-1.5zM115.0 486.62h1.5v5.66h-1.5zM136.0 486.62h1.5v5.66h-1.5zM145.0 486.62h1.5v5.66h-1.5zM220.0 486.62h1.5v5.66h-1.5zM160.0 492.28h1.5v5.66h-1.5zM176.5 492.28h1.5v5.66h-1.5zM184.0 492.28h1.5v5.66h-1.5zM257.5 492.28h1.5v5.66h-1.5zM118.0 497.94h1.5v5.66h-1.5zM136.0 497.94h1.5v5.66h-1.5zM86.5 503.60h1.5v5.66h-1.5zM110.5 509.26h1.5v5.66h-1.5zM128.5 509.26h1.5v5.66h-1.5zM181.0 509.26h1.5v5.66h-1.5zM209.5 509.26h1.5v5.66h-1.5zM250.0 509.26h1.5v5.66h-1.5zM251.5 509.26h1.5v5.66h-1.5zM125.5 514.92h1.5v5.66h-1.5zM253.0 514.92h1.5v5.66h-1.5zM259.0 514.92h1.5v5.66h-1.5zM70.0 520.58h1.5v5.66h-1.5zM187.0 520.58h1.5v5.66h-1.5zM257.5 520.58h1.5v5.66h-1.5zM82.0 526.24h1.5v5.66h-1.5zM92.5 526.24h1.5v5.66h-1.5zM217.0 526.24h1.5v5.66h-1.5zM109.0 531.90h1.5v5.66h-1.5zM125.5 531.90h1.5v5.66h-1.5zM175.0 531.90h1.5v5.66h-1.5zM191.5 531.90h1.5v5.66h-1.5zM202.0 531.90h1.5v5.66h-1.5zM227.5 531.90h1.5v5.66h-1.5zM259.0 531.90h1.5v5.66h-1.5z"/>
<path fill="#eaeaf0" d="M43.0 447.00h1.5v5.66h-1.5zM41.5 452.66h1.5v5.66h-1.5zM116.5 452.66h1.5v5.66h-1.5zM224.5 452.66h1.5v5.66h-1.5zM67.0 458.32h1.5v5.66h-1.5zM157.0 458.32h1.5v5.66h-1.5zM260.5 458.32h1.5v5.66h-1.5zM262.0 458.32h1.5v5.66h-1.5zM104.5 475.30h1.5v5.66h-1.5zM157.0 475.30h1.5v5.66h-1.5zM56.5 480.96h1.5v5.66h-1.5zM167.5 480.96h1.5v5.66h-1.5zM64.0 486.62h1.5v5.66h-1.5zM254.5 486.62h1.5v5.66h-1.5zM167.5 492.28h1.5v5.66h-1.5zM163.0 497.94h1.5v5.66h-1.5zM235.0 497.94h1.5v5.66h-1.5zM92.5 503.60h1.5v5.66h-1.5zM209.5 503.60h1.5v5.66h-1.5zM239.5 503.60h1.5v5.66h-1.5zM251.5 503.60h1.5v5.66h-1.5zM106.0 509.26h1.5v5.66h-1.5zM116.5 514.92h1.5v5.66h-1.5zM238.0 531.90h1.5v5.66h-1.5z"/>
<path fill="#e4dede" d="M44.5 447.00h1.5v5.66h-1.5zM47.5 447.00h1.5v5.66h-1.5zM190.0 447.00h1.5v5.66h-1.5zM244.0 447.00h1.5v5.66h-1.5zM52.0 452.66h1.5v5.66h-1.5zM100.0 452.66h1.5v5.66h-1.5zM149.5 452.66h1.5v5.66h-1.5zM148.0 458.32h1.5v5.66h-1.5zM163.0 458.32h1.5v5.66h-1.5zM107.5 463.98h1.5v5.66h-1.5zM161.5 463.98h1.5v5.66h-1.5zM242.5 463.98h1.5v5.66h-1.5zM58.0 469.64h1.5v5.66h-1.5zM164.5 469.64h1.5v5.66h-1.5zM259.0 469.64h1.5v5.66h-1.5zM100.0 480.96h1.5v5.66h-1.5zM190.0 480.96h1.5v5.66h-1.5zM229.0 486.62h1.5v5.66h-1.5zM244.0 486.62h1.5v5.66h-1.5zM226.0 492.28h1.5v5.66h-1.5zM100.0 497.94h1.5v5.66h-1.5zM212.5 497.94h1.5v5.66h-1.5zM238.0 497.94h1.5v5.66h-1.5zM244.0 497.94h1.5v5.66h-1.5zM250.0 503.60h1.5v5.66h-1.5zM148.0 509.26h1.5v5.66h-1.5zM190.0 509.26h1.5v5.66h-1.5zM256.0 509.26h1.5v5.66h-1.5zM47.5 520.58h1.5v5.66h-1.5zM52.0 520.58h1.5v5.66h-1.5zM244.0 520.58h1.5v5.66h-1.5zM253.0 520.58h1.5v5.66h-1.5zM52.0 526.24h1.5v5.66h-1.5zM55.0 526.24h1.5v5.66h-1.5zM44.5 531.90h1.5v5.66h-1.5zM68.5 531.90h1.5v5.66h-1.5zM95.5 531.90h1.5v5.66h-1.5z"/>
<path fill="#f6e4ea" d="M46.0 447.00h1.5v5.66h-1.5zM94.0 447.00h1.5v5.66h-1.5zM158.5 447.00h1.5v5.66h-1.5zM202.0 447.00h1.5v5.66h-1.5zM208.0 447.00h1.5v5.66h-1.5zM157.0 452.66h1.5v5.66h-1.5zM104.5 458.32h1.5v5.66h-1.5zM118.0 458.32h1.5v5.66h-1.5zM175.0 458.32h1.5v5.66h-1.5zM235.0 458.32h1.5v5.66h-1.5zM176.5 463.98h1.5v5.66h-1.5zM194.5 469.64h1.5v5.66h-1.5zM202.0 469.64h1.5v5.66h-1.5zM224.5 469.64h1.5v5.66h-1.5zM241.0 469.64h1.5v5.66h-1.5zM65.5 480.96h1.5v5.66h-1.5zM61.0 486.62h1.5v5.66h-1.5zM142.0 486.62h1.5v5.66h-1.5zM125.5 497.94h1.5v5.66h-1.5zM217.0 497.94h1.5v5.66h-1.5zM169.0 503.60h1.5v5.66h-1.5zM118.0 509.26h1.5v5.66h-1.5zM125.5 509.26h1.5v5.66h-1.5zM248.5 509.26h1.5v5.66h-1.5zM53.5 514.92h1.5v5.66h-1.5zM64.0 514.92h1.5v5.66h-1.5zM200.5 514.92h1.5v5.66h-1.5zM224.5 514.92h1.5v5.66h-1.5zM241.0 514.92h1.5v5.66h-1.5zM97.0 520.58h1.5v5.66h-1.5zM106.0 526.24h1.5v5.66h-1.5zM137.5 526.24h1.5v5.66h-1.5zM197.5 526.24h1.5v5.66h-1.5zM59.5 531.90h1.5v5.66h-1.5z"/>
<path fill="#ead2d8" d="M49.0 447.00h1.5v5.66h-1.5zM107.5 447.00h1.5v5.66h-1.5zM260.5 447.00h1.5v5.66h-1.5zM91.0 452.66h1.5v5.66h-1.5zM158.5 452.66h1.5v5.66h-1.5zM65.5 458.32h1.5v5.66h-1.5zM119.5 458.32h1.5v5.66h-1.5zM230.5 458.32h1.5v5.66h-1.5zM265.0 458.32h1.5v5.66h-1.5zM118.0 463.98h1.5v5.66h-1.5zM119.5 463.98h1.5v5.66h-1.5zM166.0 463.98h1.5v5.66h-1.5zM206.5 463.98h1.5v5.66h-1.5zM253.0 463.98h1.5v5.66h-1.5zM74.5 469.64h1.5v5.66h-1.5zM169.0 469.64h1.5v5.66h-1.5zM178.0 469.64h1.5v5.66h-1.5zM179.5 469.64h1.5v5.66h-1.5zM116.5 480.96h1.5v5.66h-1.5zM118.0 480.96h1.5v5.66h-1.5zM134.5 480.96h1.5v5.66h-1.5zM140.5 480.96h1.5v5.66h-1.5zM166.0 480.96h1.5v5.66h-1.5zM266.5 480.96h1.5v5.66h-1.5zM268.0 480.96h1.5v5.66h-1.5zM257.5 486.62h1.5v5.66h-1.5zM104.5 492.28h1.5v5.66h-1.5zM178.0 492.28h1.5v5.66h-1.5zM220.0 492.28h1.5v5.66h-1.5zM76.0 497.94h1.5v5.66h-1.5zM106.0 497.94h1.5v5.66h-1.5zM107.5 497.94h1.5v5.66h-1.5zM169.0 497.94h1.5v5.66h-1.5zM103.0 503.60h1.5v5.66h-1.5zM125.5 503.60h1.5v5.66h-1.5zM175.0 503.60h1.5v5.66h-1.5zM241.0 503.60h1.5v5.66h-1.5zM191.5 509.26h1.5v5.66h-1.5zM113.5 514.92h1.5v5.66h-1.5zM40.0 520.58h1.5v5.66h-1.5zM191.5 520.58h1.5v5.66h-1.5zM200.5 520.58h1.5v5.66h-1.5zM247.0 520.58h1.5v5.66h-1.5zM184.0 531.90h1.5v5.66h-1.5z"/>
<path fill="#eadee4" d="M50.5 447.00h1.5v5.66h-1.5zM76.0 452.66h1.5v5.66h-1.5zM241.0 452.66h1.5v5.66h-1.5zM88.0 458.32h1.5v5.66h-1.5zM232.0 458.32h1.5v5.66h-1.5zM191.5 463.98h1.5v5.66h-1.5zM262.0 463.98h1.5v5.66h-1.5zM88.0 469.64h1.5v5.66h-1.5zM92.5 469.64h1.5v5.66h-1.5zM59.5 475.30h1.5v5.66h-1.5zM82.0 475.30h1.5v5.66h-1.5zM86.5 475.30h1.5v5.66h-1.5zM145.0 475.30h1.5v5.66h-1.5zM238.0 475.30h1.5v5.66h-1.5zM179.5 480.96h1.5v5.66h-1.5zM92.5 486.62h1.5v5.66h-1.5zM223.0 486.62h1.5v5.66h-1.5zM88.0 497.94h1.5v5.66h-1.5zM179.5 497.94h1.5v5.66h-1.5zM128.5 503.60h1.5v5.66h-1.5zM206.5 503.60h1.5v5.66h-1.5zM184.0 514.92h1.5v5.66h-1.5zM179.5 520.58h1.5v5.66h-1.5zM260.5 520.58h1.5v5.66h-1.5zM157.0 526.24h1.5v5.66h-1.5zM263.5 526.24h1.5v5.66h-1.5zM71.5 531.90h1.5v5.66h-1.5zM247.0 531.90h1.5v5.66h-1.5z"/>
<path fill="#dedede" d="M52.0 447.00h1.5v5.66h-1.5zM85.0 447.00h1.5v5.66h-1.5zM118.0 447.00h1.5v5.66h-1.5zM172.0 447.00h1.5v5.66h-1.5zM62.5 452.66h1.5v5.66h-1.5zM184.0 452.66h1.5v5.66h-1.5zM199.0 452.66h1.5v5.66h-1.5zM134.5 458.32h1.5v5.66h-1.5zM187.0 458.32h1.5v5.66h-1.5zM208.0 458.32h1.5v5.66h-1.5zM214.0 458.32h1.5v5.66h-1.5zM263.5 458.32h1.5v5.66h-1.5zM269.5 458.32h1.5v5.66h-1.5zM62.5 463.98h1.5v5.66h-1.5zM170.5 463.98h1.5v5.66h-1.5zM224.5 463.98h1.5v5.66h-1.5zM226.0 463.98h1.5v5.66h-1.5zM196.0 469.64h1.5v5.66h-1.5zM101.5 475.30h1.5v5.66h-1.5zM118.0 475.30h1.5v5.66h-1.5zM131.5 475.30h1.5v5.66h-1.5zM143.5 475.30h1.5v5.66h-1.5zM200.5 475.30h1.5v5.66h-1.5zM263.5 475.30h1.5v5.66h-1.5zM68.5 486.62h1.5v5.66h-1.5zM137.5 486.62h1.5v5.66h-1.5zM50.5 492.28h1.5v5.66h-1.5zM148.0 492.28h1.5v5.66h-1.5zM247.0 492.28h1.5v5.66h-1.5zM65.5 497.94h1.5v5.66h-1.5zM77.5 497.94h1.5v5.66h-1.5zM122.5 497.94h1.5v5.66h-1.5zM124.0 497.94h1.5v5.66h-1.5zM58.0 503.60h1.5v5.66h-1.5zM70.0 503.60h1.5v5.66h-1.5zM101.5 503.60h1.5v5.66h-1.5zM127.0 503.60h1.5v5.66h-1.5zM98.5 509.26h1.5v5.66h-1.5zM103.0 509.26h1.5v5.66h-1.5zM244.0 509.26h1.5v5.66h-1.5zM49.0 514.92h1.5v5.66h-1.5zM70.0 514.92h1.5v5.66h-1.5zM112.0 514.92h1.5v5.66h-1.5zM115.0 514.92h1.5v5.66h-1.5zM131.5 514.92h1.5v5.66h-1.5zM238.0 514.92h1.5v5.66h-1.5zM130.0 520.58h1.5v5.66h-1.5zM172.0 520.58h1.5v5.66h-1.5zM221.5 520.58h1.5v5.66h-1.5zM238.0 520.58h1.5v5.66h-1.5zM74.5 531.90h1.5v5.66h-1.5zM148.0 531.90h1.5v5.66h-1.5zM196.0 531.90h1.5v5.66h-1.5z"/>
<path fill="#f0eaea" d="M53.5 447.00h1.5v5.66h-1.5zM88.0 447.00h1.5v5.66h-1.5zM140.5 447.00h1.5v5.66h-1.5zM166.0 447.00h1.5v5.66h-1.5zM211.0 447.00h1.5v5.66h-1.5zM256.0 447.00h1.5v5.66h-1.5zM50.5 452.66h1.5v5.66h-1.5zM61.0 458.32h1.5v5.66h-1.5zM188.5 458.32h1.5v5.66h-1.5zM191.5 458.32h1.5v5.66h-1.5zM59.5 463.98h1.5v5.66h-1.5zM122.5 463.98h1.5v5.66h-1.5zM245.5 463.98h1.5v5.66h-1.5zM268.0 463.98h1.5v5.66h-1.5zM43.0 469.64h1.5v5.66h-1.5zM80.5 469.64h1.5v5.66h-1.5zM77.5 475.30h1.5v5.66h-1.5zM179.5 475.30h1.5v5.66h-1.5zM256.0 475.30h1.5v5.66h-1.5zM259.0 475.30h1.5v5.66h-1.5zM46.0 486.62h1.5v5.66h-1.5zM76.0 486.62h1.5v5.66h-1.5zM82.0 486.62h1.5v5.66h-1.5zM86.5 486.62h1.5v5.66h-1.5zM64.0 492.28h1.5v5.66h-1.5zM97.0 492.28h1.5v5.66h-1.5zM254.5 492.28h1.5v5.66h-1.5zM43.0 497.94h1.5v5.66h-1.5zM262.0 497.94h1.5v5.66h-1.5zM59.5 503.60h1.5v5.66h-1.5zM82.0 503.60h1.5v5.66h-1.5zM97.0 503.60h1.5v5.66h-1.5zM179.5 503.60h1.5v5.66h-1.5zM253.0 503.60h1.5v5.66h-1.5zM260.5 503.60h1.5v5.66h-1.5zM79.0 509.26h1.5v5.66h-1.5zM205.0 509.26h1.5v5.66h-1.5zM236.5 509.26h1.5v5.66h-1.5zM136.0 514.92h1.5v5.66h-1.5zM158.5 514.92h1.5v5.66h-1.5zM166.0 514.92h1.5v5.66h-1.5zM112.0 520.58h1.5v5.66h-1.5zM137.5 520.58h1.5v5.66h-1.5zM215.5 520.58h1.5v5.66h-1.5zM235.0 520.58h1.5v5.66h-1.5zM236.5 520.58h1.5v5.66h-1.5zM250.0 520.58h1.5v5.66h-1.5zM145.0 531.90h1.5v5.66h-1.5zM193.0 531.90h1.5v5.66h-1.5zM239.5 531.90h1.5v5.66h-1.5z"/>
<path fill="#eae4ea" d="M55.0 447.00h1.5v5.66h-1.5zM65.5 447.00h1.5v5.66h-1.5zM98.5 447.00h1.5v5.66h-1.5zM100.0 447.00h1.5v5.66h-1.5zM143.5 447.00h1.5v5.66h-1.5zM242.5 447.00h1.5v5.66h-1.5zM68.5 452.66h1.5v5.66h-1.5zM70.0 452.66h1.5v5.66h-1.5zM170.5 452.66h1.5v5.66h-1.5zM212.5 452.66h1.5v5.66h-1.5zM95.5 458.32h1.5v5.66h-1.5zM100.0 458.32h1.5v5.66h-1.5zM164.5 458.32h1.5v5.66h-1.5zM178.0 458.32h1.5v5.66h-1.5zM193.0 458.32h1.5v5.66h-1.5zM242.5 458.32h1.5v5.66h-1.5zM61.0 463.98h1.5v5.66h-1.5zM95.5 463.98h1.5v5.66h-1.5zM136.0 463.98h1.5v5.66h-1.5zM137.5 463.98h1.5v5.66h-1.5zM139.0 463.98h1.5v5.66h-1.5zM152.5 463.98h1.5v5.66h-1.5zM173.5 463.98h1.5v5.66h-1.5zM68.5 469.64h1.5v5.66h-1.5zM124.0 469.64h1.5v5.66h-1.5zM127.0 469.64h1.5v5.66h-1.5zM148.0 469.64h1.5v5.66h-1.5zM190.0 469.64h1.5v5.66h-1.5zM212.5 469.64h1.5v5.66h-1.5zM226.0 469.64h1.5v5.66h-1.5zM85.0 475.30h1.5v5.66h-1.5zM95.5 475.30h1.5v5.66h-1.5zM149.5 475.30h1.5v5.66h-1.5zM190.0 475.30h1.5v5.66h-1.5zM268.0 475.30h1.5v5.66h-1.5zM68.5 480.96h1.5v5.66h-1.5zM86.5 480.96h1.5v5.66h-1.5zM127.0 480.96h1.5v5.66h-1.5zM148.0 480.96h1.5v5.66h-1.5zM65.5 486.62h1.5v5.66h-1.5zM98.5 486.62h1.5v5.66h-1.5zM170.5 486.62h1.5v5.66h-1.5zM44.5 492.28h1.5v5.66h-1.5zM137.5 492.28h1.5v5.66h-1.5zM143.5 492.28h1.5v5.66h-1.5zM47.5 497.94h1.5v5.66h-1.5zM116.5 497.94h1.5v5.66h-1.5zM142.0 497.94h1.5v5.66h-1.5zM251.5 497.94h1.5v5.66h-1.5zM98.5 503.60h1.5v5.66h-1.5zM100.0 503.60h1.5v5.66h-1.5zM202.0 503.60h1.5v5.66h-1.5zM203.5 503.60h1.5v5.66h-1.5zM260.5 509.26h1.5v5.66h-1.5zM98.5 514.92h1.5v5.66h-1.5zM121.0 514.92h1.5v5.66h-1.5zM170.5 514.92h1.5v5.66h-1.5zM251.5 520.58h1.5v5.66h-1.5zM89.5 526.24h1.5v5.66h-1.5zM124.0 526.24h1.5v5.66h-1.5zM173.5 526.24h1.5v5.66h-1.5zM149.5 531.90h1.5v5.66h-1.5zM223.0 531.90h1.5v5.66h-1.5z"/>
<path fill="#d8d8d8" d="M56.5 447.00h1.5v5.66h-1.5zM250.0 447.00h1.5v5.66h-1.5zM155.5 452.66h1.5v5.66h-1.5zM113.5 458.32h1.5v5.66h-1.5zM173.5 458.32h1.5v5.66h-1.5zM196.0 463.98h1.5v5.66h-1.5zM221.5 469.64h1.5v5.66h-1.5zM233.5 469.64h1.5v5.66h-1.5zM269.5 475.30h1.5v5.66h-1.5zM55.0 480.96h1.5v5.66h-1.5zM85.0 480.96h1.5v5.66h-1.5zM203.5 480.96h1.5v5.66h-1.5zM83.5 486.62h1.5v5.66h-1.5zM89.5 486.62h1.5v5.66h-1.5zM131.5 486.62h1.5v5.66h-1.5zM152.5 497.94h1.5v5.66h-1.5zM55.0 503.60h1.5v5.66h-1.5zM52.0 509.26h1.5v5.66h-1.5zM224.5 509.26h1.5v5.66h-1.5zM211.0 514.92h1.5v5.66h-1.5zM61.0 520.58h1.5v5.66h-1.5zM65.5 520.58h1.5v5.66h-1.5zM76.0 520.58h1.5v5.66h-1.5zM77.5 520.58h1.5v5.66h-1.5zM131.5 520.58h1.5v5.66h-1.5zM85.0 531.90h1.5v5.66h-1.5zM269.5 531.90h1.5v5.66h-1.5z"/>
<path fill="#f0d8de" d="M58.0 447.00h1.5v5.66h-1.5zM131.5 447.00h1.5v5.66h-1.5zM175.0 447.00h1.5v5.66h-1.5zM248.5 447.00h1.5v5.66h-1.5zM53.5 452.66h1.5v5.66h-1.5zM61.0 452.66h1.5v5.66h-1.5zM220.0 452.66h1.5v5.66h-1.5zM221.5 452.66h1.5v5.66h-1.5zM235.0 452.66h1.5v5.66h-1.5zM140.5 458.32h1.5v5.66h-1.5zM254.5 458.32h1.5v5.66h-1.5zM86.5 463.98h1.5v5.66h-1.5zM125.5 463.98h1.5v5.66h-1.5zM155.5 463.98h1.5v5.66h-1.5zM241.0 463.98h1.5v5.66h-1.5zM251.5 463.98h1.5v5.66h-1.5zM59.5 469.64h1.5v5.66h-1.5zM67.0 475.30h1.5v5.66h-1.5zM197.5 475.30h1.5v5.66h-1.5zM106.0 480.96h1.5v5.66h-1.5zM137.5 480.96h1.5v5.66h-1.5zM145.0 480.96h1.5v5.66h-1.5zM181.0 480.96h1.5v5.66h-1.5zM184.0 480.96h1.5v5.66h-1.5zM196.0 480.96h1.5v5.66h-1.5zM197.5 480.96h1.5v5.66h-1.5zM118.0 486.62h1.5v5.66h-1.5zM107.5 492.28h1.5v5.66h-1.5zM224.5 492.28h1.5v5.66h-1.5zM103.0 497.94h1.5v5.66h-1.5zM137.5 497.94h1.5v5.66h-1.5zM178.0 497.94h1.5v5.66h-1.5zM206.5 497.94h1.5v5.66h-1.5zM230.5 497.94h1.5v5.66h-1.5zM260.5 497.94h1.5v5.66h-1.5zM119.5 503.60h1.5v5.66h-1.5zM167.5 503.60h1.5v5.66h-1.5zM214.0 509.26h1.5v5.66h-1.5zM50.5 514.92h1.5v5.66h-1.5zM122.5 514.92h1.5v5.66h-1.5zM245.5 514.92h1.5v5.66h-1.5zM254.5 514.92h1.5v5.66h-1.5zM91.0 520.58h1.5v5.66h-1.5zM94.0 520.58h1.5v5.66h-1.5zM125.5 520.58h1.5v5.66h-1.5zM248.5 520.58h1.5v5.66h-1.5zM53.5 526.24h1.5v5.66h-1.5zM158.5 526.24h1.5v5.66h-1.5zM101.5 531.90h1.5v5.66h-1.5z"/>
<path fill="#fcf6f6" d="M59.5 447.00h1.5v5.66h-1.5zM76.0 447.00h1.5v5.66h-1.5zM136.0 447.00h1.5v5.66h-1.5zM146.5 447.00h1.5v5.66h-1.5zM161.5 447.00h1.5v5.66h-1.5zM176.5 447.00h1.5v5.66h-1.5zM182.5 447.00h1.5v5.66h-1.5zM197.5 447.00h1.5v5.66h-1.5zM206.5 447.00h1.5v5.66h-1.5zM217.0 447.00h1.5v5.66h-1.5zM218.5 447.00h1.5v5.66h-1.5zM233.5 447.00h1.5v5.66h-1.5zM239.5 447.00h1.5v5.66h-1.5zM254.5 447.00h1.5v5.66h-1.5zM257.5 447.00h1.5v5.66h-1.5zM65.5 452.66h1.5v5.66h-1.5zM82.0 452.66h1.5v5.66h-1.5zM88.0 452.66h1.5v5.66h-1.5zM112.0 452.66h1.5v5.66h-1.5zM128.5 452.66h1.5v5.66h-1.5zM161.5 452.66h1.5v5.66h-1.5zM178.0 452.66h1.5v5.66h-1.5zM179.5 452.66h1.5v5.66h-1.5zM187.0 452.66h1.5v5.66h-1.5zM238.0 452.66h1.5v5.66h-1.5zM260.5 452.66h1.5v5.66h-1.5zM266.5 452.66h1.5v5.66h-1.5zM80.5 458.32h1.5v5.66h-1.5zM94.0 458.32h1.5v5.66h-1.5zM107.5 458.32h1.5v5.66h-1.5zM131.5 458.32h1.5v5.66h-1.5zM181.0 458.32h1.5v5.66h-1.5zM182.5 458.32h1.5v5.66h-1.5zM92.5 463.98h1.5v5.66h-1.5zM130.0 463.98h1.5v5.66h-1.5zM140.5 463.98h1.5v5.66h-1.5zM169.0 463.98h1.5v5.66h-1.5zM205.0 463.98h1.5v5.66h-1.5zM61.0 469.64h1.5v5.66h-1.5zM76.0 469.64h1.5v5.66h-1.5zM77.5 469.64h1.5v5.66h-1.5zM79.0 469.64h1.5v5.66h-1.5zM112.0 469.64h1.5v5.66h-1.5zM166.0 469.64h1.5v5.66h-1.5zM184.0 469.64h1.5v5.66h-1.5zM191.5 469.64h1.5v5.66h-1.5zM200.5 469.64h1.5v5.66h-1.5zM208.0 469.64h1.5v5.66h-1.5zM79.0 475.30h1.5v5.66h-1.5zM154.0 475.30h1.5v5.66h-1.5zM166.0 475.30h1.5v5.66h-1.5zM206.5 475.30h1.5v5.66h-1.5zM224.5 475.30h1.5v5.66h-1.5zM103.0 480.96h1.5v5.66h-1.5zM151.0 480.96h1.5v5.66h-1.5zM175.0 480.96h1.5v5.66h-1.5zM206.5 480.96h1.5v5.66h-1.5zM217.0 480.96h1.5v5.66h-1.5zM221.5 480.96h1.5v5.66h-1.5zM194.5 486.62h1.5v5.66h-1.5zM202.0 486.62h1.5v5.66h-1.5zM58.0 492.28h1.5v5.66h-1.5zM76.0 492.28h1.5v5.66h-1.5zM86.5 492.28h1.5v5.66h-1.5zM103.0 492.28h1.5v5.66h-1.5zM110.5 492.28h1.5v5.66h-1.5zM140.5 492.28h1.5v5.66h-1.5zM169.0 492.28h1.5v5.66h-1.5zM181.0 492.28h1.5v5.66h-1.5zM187.0 492.28h1.5v5.66h-1.5zM202.0 492.28h1.5v5.66h-1.5zM206.5 492.28h1.5v5.66h-1.5zM211.0 492.28h1.5v5.66h-1.5zM217.0 492.28h1.5v5.66h-1.5zM50.5 497.94h1.5v5.66h-1.5zM80.5 497.94h1.5v5.66h-1.5zM82.0 497.94h1.5v5.66h-1.5zM97.0 497.94h1.5v5.66h-1.5zM104.5 497.94h1.5v5.66h-1.5zM109.0 497.94h1.5v5.66h-1.5zM110.5 497.94h1.5v5.66h-1.5zM139.0 497.94h1.5v5.66h-1.5zM160.0 497.94h1.5v5.66h-1.5zM218.5 497.94h1.5v5.66h-1.5zM80.5 503.60h1.5v5.66h-1.5zM178.0 503.60h1.5v5.66h-1.5zM76.0 509.26h1.5v5.66h-1.5zM145.0 509.26h1.5v5.66h-1.5zM178.0 509.26h1.5v5.66h-1.5zM223.0 509.26h1.5v5.66h-1.5zM245.5 509.26h1.5v5.66h-1.5zM257.5 509.26h1.5v5.66h-1.5zM79.0 514.92h1.5v5.66h-1.5zM82.0 514.92h1.5v5.66h-1.5zM94.0 514.92h1.5v5.66h-1.5zM107.5 514.92h1.5v5.66h-1.5zM161.5 514.92h1.5v5.66h-1.5zM214.0 514.92h1.5v5.66h-1.5zM239.5 514.92h1.5v5.66h-1.5zM247.0 514.92h1.5v5.66h-1.5zM266.5 514.92h1.5v5.66h-1.5zM56.5 520.58h1.5v5.66h-1.5zM59.5 520.58h1.5v5.66h-1.5zM115.0 520.58h1.5v5.66h-1.5zM119.5 520.58h1.5v5.66h-1.5zM175.0 520.58h1.5v5.66h-1.5zM214.0 520.58h1.5v5.66h-1.5zM230.5 520.58h1.5v5.66h-1.5zM71.5 526.24h1.5v5.66h-1.5zM118.0 526.24h1.5v5.66h-1.5zM151.0 526.24h1.5v5.66h-1.5zM40.0 531.90h1.5v5.66h-1.5zM176.5 531.90h1.5v5.66h-1.5zM205.0 531.90h1.5v5.66h-1.5zM220.0 531.90h1.5v5.66h-1.5zM245.5 531.90h1.5v5.66h-1.5zM256.0 531.90h1.5v5.66h-1.5z"/>
<path fill="#f6f0f0" d="M61.0 447.00h1.5v5.66h-1.5zM62.5 447.00h1.5v5.66h-1.5zM70.0 447.00h1.5v5.66h-1.5zM106.0 447.00h1.5v5.66h-1.5zM151.0 447.00h1.5v5.66h-1.5zM179.5 447.00h1.5v5.66h-1.5zM184.0 447.00h1.5v5.66h-1.5zM230.5 447.00h1.5v5.66h-1.5zM79.0 452.66h1.5v5.66h-1.5zM86.5 452.66h1.5v5.66h-1.5zM107.5 452.66h1.5v5.66h-1.5zM109.0 452.66h1.5v5.66h-1.5zM113.5 452.66h1.5v5.66h-1.5zM119.5 452.66h1.5v5.66h-1.5zM166.0 452.66h1.5v5.66h-1.5zM169.0 452.66h1.5v5.66h-1.5zM208.0 452.66h1.5v5.66h-1.5zM82.0 458.32h1.5v5.66h-1.5zM91.0 458.32h1.5v5.66h-1.5zM110.5 458.32h1.5v5.66h-1.5zM152.5 458.32h1.5v5.66h-1.5zM197.5 458.32h1.5v5.66h-1.5zM209.5 458.32h1.5v5.66h-1.5zM220.0 458.32h1.5v5.66h-1.5zM238.0 458.32h1.5v5.66h-1.5zM56.5 463.98h1.5v5.66h-1.5zM67.0 463.98h1.5v5.66h-1.5zM74.5 463.98h1.5v5.66h-1.5zM77.5 463.98h1.5v5.66h-1.5zM88.0 463.98h1.5v5.66h-1.5zM128.5 463.98h1.5v5.66h-1.5zM160.0 463.98h1.5v5.66h-1.5zM179.5 463.98h1.5v5.66h-1.5zM208.0 463.98h1.5v5.66h-1.5zM247.0 463.98h1.5v5.66h-1.5zM46.0 469.64h1.5v5.66h-1.5zM53.5 469.64h1.5v5.66h-1.5zM140.5 469.64h1.5v5.66h-1.5zM176.5 469.64h1.5v5.66h-1.5zM211.0 469.64h1.5v5.66h-1.5zM217.0 469.64h1.5v5.66h-1.5zM236.5 469.64h1.5v5.66h-1.5zM49.0 475.30h1.5v5.66h-1.5zM91.0 475.30h1.5v5.66h-1.5zM128.5 475.30h1.5v5.66h-1.5zM160.0 475.30h1.5v5.66h-1.5zM169.0 475.30h1.5v5.66h-1.5zM175.0 475.30h1.5v5.66h-1.5zM187.0 475.30h1.5v5.66h-1.5zM230.5 475.30h1.5v5.66h-1.5zM236.5 475.30h1.5v5.66h-1.5zM245.5 475.30h1.5v5.66h-1.5zM110.5 480.96h1.5v5.66h-1.5zM160.0 480.96h1.5v5.66h-1.5zM169.0 480.96h1.5v5.66h-1.5zM172.0 480.96h1.5v5.66h-1.5zM187.0 480.96h1.5v5.66h-1.5zM208.0 480.96h1.5v5.66h-1.5zM224.5 480.96h1.5v5.66h-1.5zM233.5 480.96h1.5v5.66h-1.5zM239.5 480.96h1.5v5.66h-1.5zM50.5 486.62h1.5v5.66h-1.5zM110.5 486.62h1.5v5.66h-1.5zM151.0 486.62h1.5v5.66h-1.5zM175.0 486.62h1.5v5.66h-1.5zM179.5 486.62h1.5v5.66h-1.5zM217.0 486.62h1.5v5.66h-1.5zM236.5 486.62h1.5v5.66h-1.5zM245.5 486.62h1.5v5.66h-1.5zM41.5 492.28h1.5v5.66h-1.5zM125.5 492.28h1.5v5.66h-1.5zM139.0 492.28h1.5v5.66h-1.5zM223.0 492.28h1.5v5.66h-1.5zM232.0 492.28h1.5v5.66h-1.5zM245.5 492.28h1.5v5.66h-1.5zM56.5 497.94h1.5v5.66h-1.5zM64.0 497.94h1.5v5.66h-1.5zM74.5 497.94h1.5v5.66h-1.5zM151.0 497.94h1.5v5.66h-1.5zM161.5 497.94h1.5v5.66h-1.5zM184.0 497.94h1.5v5.66h-1.5zM250.0 497.94h1.5v5.66h-1.5zM71.5 503.60h1.5v5.66h-1.5zM79.0 503.60h1.5v5.66h-1.5zM145.0 503.60h1.5v5.66h-1.5zM172.0 503.60h1.5v5.66h-1.5zM224.5 503.60h1.5v5.66h-1.5zM227.5 503.60h1.5v5.66h-1.5zM233.5 503.60h1.5v5.66h-1.5zM245.5 503.60h1.5v5.66h-1.5zM91.0 509.26h1.5v5.66h-1.5zM136.0 509.26h1.5v5.66h-1.5zM151.0 509.26h1.5v5.66h-1.5zM172.0 509.26h1.5v5.66h-1.5zM179.5 509.26h1.5v5.66h-1.5zM193.0 509.26h1.5v5.66h-1.5zM194.5 509.26h1.5v5.66h-1.5zM211.0 509.26h1.5v5.66h-1.5zM239.5 509.26h1.5v5.66h-1.5zM61.0 514.92h1.5v5.66h-1.5zM91.0 514.92h1.5v5.66h-1.5zM110.5 514.92h1.5v5.66h-1.5zM118.0 514.92h1.5v5.66h-1.5zM142.0 514.92h1.5v5.66h-1.5zM145.0 514.92h1.5v5.66h-1.5zM172.0 514.92h1.5v5.66h-1.5zM235.0 514.92h1.5v5.66h-1.5zM262.0 514.92h1.5v5.66h-1.5zM46.0 520.58h1.5v5.66h-1.5zM49.0 520.58h1.5v5.66h-1.5zM103.0 520.58h1.5v5.66h-1.5zM158.5 520.58h1.5v5.66h-1.5zM169.0 520.58h1.5v5.66h-1.5zM202.0 520.58h1.5v5.66h-1.5zM233.5 520.58h1.5v5.66h-1.5zM49.0 526.24h1.5v5.66h-1.5zM67.0 526.24h1.5v5.66h-1.5zM77.5 526.24h1.5v5.66h-1.5zM110.5 526.24h1.5v5.66h-1.5zM125.5 526.24h1.5v5.66h-1.5zM128.5 526.24h1.5v5.66h-1.5zM167.5 526.24h1.5v5.66h-1.5zM175.0 526.24h1.5v5.66h-1.5zM194.5 526.24h1.5v5.66h-1.5zM199.0 526.24h1.5v5.66h-1.5zM205.0 526.24h1.5v5.66h-1.5zM230.5 526.24h1.5v5.66h-1.5zM253.0 526.24h1.5v5.66h-1.5zM77.5 531.90h1.5v5.66h-1.5zM92.5 531.90h1.5v5.66h-1.5zM206.5 531.90h1.5v5.66h-1.5zM254.5 531.90h1.5v5.66h-1.5zM262.0 531.90h1.5v5.66h-1.5z"/>
<path fill="#f0dede" d="M64.0 447.00h1.5v5.66h-1.5zM134.5 447.00h1.5v5.66h-1.5zM187.0 447.00h1.5v5.66h-1.5zM232.0 452.66h1.5v5.66h-1.5zM49.0 458.32h1.5v5.66h-1.5zM133.0 458.32h1.5v5.66h-1.5zM236.5 458.32h1.5v5.66h-1.5zM110.5 463.98h1.5v5.66h-1.5zM263.5 463.98h1.5v5.66h-1.5zM49.0 469.64h1.5v5.66h-1.5zM247.0 469.64h1.5v5.66h-1.5zM254.5 469.64h1.5v5.66h-1.5zM91.0 497.94h1.5v5.66h-1.5zM263.5 497.94h1.5v5.66h-1.5zM175.0 514.92h1.5v5.66h-1.5zM191.5 514.92h1.5v5.66h-1.5zM187.0 526.24h1.5v5.66h-1.5zM206.5 526.24h1.5v5.66h-1.5zM262.0 526.24h1.5v5.66h-1.5zM172.0 531.90h1.5v5.66h-1.5z"/>
<path fill="#d8e4ea" d="M67.0 447.00h1.5v5.66h-1.5zM41.5 475.30h1.5v5.66h-1.5zM218.5 475.30h1.5v5.66h-1.5zM152.5 480.96h1.5v5.66h-1.5zM122.5 520.58h1.5v5.66h-1.5z"/>
<path fill="#ccc6cc" d="M68.5 447.00h1.5v5.66h-1.5zM85.0 452.66h1.5v5.66h-1.5zM244.0 452.66h1.5v5.66h-1.5zM68.5 463.98h1.5v5.66h-1.5zM89.5 463.98h1.5v5.66h-1.5zM85.0 469.64h1.5v5.66h-1.5zM170.5 475.30h1.5v5.66h-1.5zM47.5 480.96h1.5v5.66h-1.5zM212.5 480.96h1.5v5.66h-1.5zM95.5 486.62h1.5v5.66h-1.5zM89.5 492.28h1.5v5.66h-1.5zM98.5 492.28h1.5v5.66h-1.5zM52.0 497.94h1.5v5.66h-1.5zM98.5 497.94h1.5v5.66h-1.5zM203.5 497.94h1.5v5.66h-1.5zM89.5 509.26h1.5v5.66h-1.5zM143.5 509.26h1.5v5.66h-1.5zM164.5 509.26h1.5v5.66h-1.5zM203.5 514.92h1.5v5.66h-1.5zM229.0 514.92h1.5v5.66h-1.5zM148.0 520.58h1.5v5.66h-1.5zM190.0 526.24h1.5v5.66h-1.5zM244.0 526.24h1.5v5.66h-1.5zM229.0 531.90h1.5v5.66h-1.5z"/>
<path fill="#f0e4ea" d="M71.5 447.00h1.5v5.66h-1.5zM79.0 447.00h1.5v5.66h-1.5zM200.5 447.00h1.5v5.66h-1.5zM259.0 447.00h1.5v5.66h-1.5zM67.0 452.66h1.5v5.66h-1.5zM77.5 452.66h1.5v5.66h-1.5zM83.5 452.66h1.5v5.66h-1.5zM175.0 452.66h1.5v5.66h-1.5zM176.5 452.66h1.5v5.66h-1.5zM188.5 452.66h1.5v5.66h-1.5zM269.5 452.66h1.5v5.66h-1.5zM161.5 458.32h1.5v5.66h-1.5zM239.5 458.32h1.5v5.66h-1.5zM145.0 463.98h1.5v5.66h-1.5zM106.0 475.30h1.5v5.66h-1.5zM188.5 475.30h1.5v5.66h-1.5zM49.0 480.96h1.5v5.66h-1.5zM79.0 480.96h1.5v5.66h-1.5zM119.5 480.96h1.5v5.66h-1.5zM176.5 480.96h1.5v5.66h-1.5zM223.0 480.96h1.5v5.66h-1.5zM263.5 480.96h1.5v5.66h-1.5zM206.5 486.62h1.5v5.66h-1.5zM248.5 486.62h1.5v5.66h-1.5zM70.0 492.28h1.5v5.66h-1.5zM194.5 492.28h1.5v5.66h-1.5zM197.5 492.28h1.5v5.66h-1.5zM191.5 497.94h1.5v5.66h-1.5zM214.0 497.94h1.5v5.66h-1.5zM221.5 497.94h1.5v5.66h-1.5zM266.5 497.94h1.5v5.66h-1.5zM136.0 503.60h1.5v5.66h-1.5zM211.0 503.60h1.5v5.66h-1.5zM217.0 503.60h1.5v5.66h-1.5zM254.5 503.60h1.5v5.66h-1.5zM160.0 514.92h1.5v5.66h-1.5zM197.5 520.58h1.5v5.66h-1.5zM116.5 526.24h1.5v5.66h-1.5zM178.0 526.24h1.5v5.66h-1.5zM91.0 531.90h1.5v5.66h-1.5zM211.0 531.90h1.5v5.66h-1.5z"/>
<path fill="#f6f6fc" d="M73.0 447.00h1.5v5.66h-1.5zM188.5 447.00h1.5v5.66h-1.5zM250.0 452.66h1.5v5.66h-1.5zM151.0 458.32h1.5v5.66h-1.5zM62.5 469.64h1.5v5.66h-1.5zM134.5 469.64h1.5v5.66h-1.5zM43.0 475.30h1.5v5.66h-1.5zM124.0 475.30h1.5v5.66h-1.5zM181.0 475.30h1.5v5.66h-1.5zM265.0 475.30h1.5v5.66h-1.5zM220.0 480.96h1.5v5.66h-1.5zM122.5 486.62h1.5v5.66h-1.5zM133.0 486.62h1.5v5.66h-1.5zM169.0 486.62h1.5v5.66h-1.5zM121.0 492.28h1.5v5.66h-1.5zM133.0 492.28h1.5v5.66h-1.5zM83.5 497.94h1.5v5.66h-1.5zM146.5 497.94h1.5v5.66h-1.5zM193.0 497.94h1.5v5.66h-1.5zM73.0 503.60h1.5v5.66h-1.5zM107.5 503.60h1.5v5.66h-1.5zM121.0 509.26h1.5v5.66h-1.5zM175.0 509.26h1.5v5.66h-1.5zM71.5 514.92h1.5v5.66h-1.5zM73.0 514.92h1.5v5.66h-1.5zM202.0 514.92h1.5v5.66h-1.5zM121.0 520.58h1.5v5.66h-1.5zM134.5 520.58h1.5v5.66h-1.5zM166.0 520.58h1.5v5.66h-1.5zM115.0 526.24h1.5v5.66h-1.5zM163.0 526.24h1.5v5.66h-1.5zM139.0 531.90h1.5v5.66h-1.5zM163.0 531.90h1.5v5.66h-1.5z"/>
<path fill="#dee4f0" d="M74.5 447.00h1.5v5.66h-1.5zM167.5 452.66h1.5v5.66h-1.5zM166.0 458.32h1.5v5.66h-1.5zM146.5 475.30h1.5v5.66h-1.5zM71.5 486.62h1.5v5.66h-1.5zM142.0 492.28h1.5v5.66h-1.5zM49.0 509.26h1.5v5.66h-1.5zM218.5 509.26h1.5v5.66h-1.5zM43.0 520.58h1.5v5.66h-1.5zM146.5 520.58h1.5v5.66h-1.5zM194.5 520.58h1.5v5.66h-1.5zM136.0 531.90h1.5v5.66h-1.5z"/>
<path fill="#d8deea" d="M77.5 447.00h1.5v5.66h-1.5zM133.0 452.66h1.5v5.66h-1.5zM146.5 452.66h1.5v5.66h-1.5zM151.0 452.66h1.5v5.66h-1.5zM97.0 458.32h1.5v5.66h-1.5zM196.0 458.32h1.5v5.66h-1.5zM217.0 458.32h1.5v5.66h-1.5zM146.5 463.98h1.5v5.66h-1.5zM215.5 463.98h1.5v5.66h-1.5zM101.5 469.64h1.5v5.66h-1.5zM116.5 469.64h1.5v5.66h-1.5zM122.5 469.64h1.5v5.66h-1.5zM157.0 469.64h1.5v5.66h-1.5zM175.0 469.64h1.5v5.66h-1.5zM80.5 475.30h1.5v5.66h-1.5zM83.5 480.96h1.5v5.66h-1.5zM73.0 486.62h1.5v5.66h-1.5zM232.0 486.62h1.5v5.66h-1.5zM109.0 492.28h1.5v5.66h-1.5zM146.5 492.28h1.5v5.66h-1.5zM166.0 492.28h1.5v5.66h-1.5zM218.5 492.28h1.5v5.66h-1.5zM119.5 497.94h1.5v5.66h-1.5zM161.5 503.60h1.5v5.66h-1.5zM40.0 509.26h1.5v5.66h-1.5zM104.5 509.26h1.5v5.66h-1.5zM163.0 514.92h1.5v5.66h-1.5zM167.5 514.92h1.5v5.66h-1.5zM83.5 520.58h1.5v5.66h-1.5zM161.5 520.58h1.5v5.66h-1.5zM61.0 526.24h1.5v5.66h-1.5zM208.0 526.24h1.5v5.66h-1.5zM62.5 531.90h1.5v5.66h-1.5zM64.0 531.90h1.5v5.66h-1.5zM83.5 531.90h1.5v5.66h-1.5zM116.5 531.90h1.5v5.66h-1.5zM121.0 531.90h1.5v5.66h-1.5z"/>
<path fill="#f0ded8" d="M80.5 447.00h1.5v5.66h-1.5zM253.0 447.00h1.5v5.66h-1.5zM74.5 452.66h1.5v5.66h-1.5zM215.5 458.32h1.5v5.66h-1.5zM257.5 469.64h1.5v5.66h-1.5zM260.5 480.96h1.5v5.66h-1.5zM157.0 486.62h1.5v5.66h-1.5zM167.5 486.62h1.5v5.66h-1.5zM116.5 492.28h1.5v5.66h-1.5zM247.0 497.94h1.5v5.66h-1.5zM220.0 509.26h1.5v5.66h-1.5zM157.0 514.92h1.5v5.66h-1.5zM193.0 526.24h1.5v5.66h-1.5zM196.0 526.24h1.5v5.66h-1.5zM113.5 531.90h1.5v5.66h-1.5z"/>
<path fill="#e4e4f0" d="M82.0 447.00h1.5v5.66h-1.5zM251.5 447.00h1.5v5.66h-1.5zM79.0 458.32h1.5v5.66h-1.5zM232.0 497.94h1.5v5.66h-1.5z"/>
<path fill="#eaf0f6" d="M83.5 447.00h1.5v5.66h-1.5zM121.0 447.00h1.5v5.66h-1.5zM133.0 447.00h1.5v5.66h-1.5zM157.0 447.00h1.5v5.66h-1.5zM193.0 447.00h1.5v5.66h-1.5zM73.0 452.66h1.5v5.66h-1.5zM136.0 458.32h1.5v5.66h-1.5zM80.5 463.98h1.5v5.66h-1.5zM41.5 469.64h1.5v5.66h-1.5zM64.0 469.64h1.5v5.66h-1.5zM133.0 469.64h1.5v5.66h-1.5zM209.5 469.64h1.5v5.66h-1.5zM214.0 469.64h1.5v5.66h-1.5zM50.5 475.30h1.5v5.66h-1.5zM253.0 475.30h1.5v5.66h-1.5zM43.0 480.96h1.5v5.66h-1.5zM178.0 480.96h1.5v5.66h-1.5zM146.5 486.62h1.5v5.66h-1.5zM179.5 492.28h1.5v5.66h-1.5zM250.0 492.28h1.5v5.66h-1.5zM121.0 497.94h1.5v5.66h-1.5zM46.0 503.60h1.5v5.66h-1.5zM157.0 503.60h1.5v5.66h-1.5zM130.0 509.26h1.5v5.66h-1.5zM157.0 509.26h1.5v5.66h-1.5zM266.5 509.26h1.5v5.66h-1.5zM58.0 526.24h1.5v5.66h-1.5zM94.0 526.24h1.5v5.66h-1.5z"/>
<path fill="#f6e4d8" d="M86.5 447.00h1.5v5.66h-1.5zM197.5 452.66h1.5v5.66h-1.5zM218.5 458.32h1.5v5.66h-1.5zM166.0 486.62h1.5v5.66h-1.5zM112.0 497.94h1.5v5.66h-1.5zM133.0 497.94h1.5v5.66h-1.5zM116.5 509.26h1.5v5.66h-1.5zM40.0 514.92h1.5v5.66h-1.5z"/>
<path fill="#e4dee4" d="M89.5 447.00h1.5v5.66h-1.5zM173.5 447.00h1.5v5.66h-1.5zM130.0 458.32h1.5v5.66h-1.5zM149.5 458.32h1.5v5.66h-1.5zM97.0 463.98h1.5v5.66h-1.5zM98.5 463.98h1.5v5.66h-1.5zM142.0 463.98h1.5v5.66h-1.5zM44.5 469.64h1.5v5.66h-1.5zM110.5 469.64h1.5v5.66h-1.5zM130.0 469.64h1.5v5.66h-1.5zM248.5 469.64h1.5v5.66h-1.5zM44.5 475.30h1.5v5.66h-1.5zM89.5 475.30h1.5v5.66h-1.5zM127.0 475.30h1.5v5.66h-1.5zM121.0 480.96h1.5v5.66h-1.5zM155.5 480.96h1.5v5.66h-1.5zM97.0 486.62h1.5v5.66h-1.5zM124.0 492.28h1.5v5.66h-1.5zM193.0 492.28h1.5v5.66h-1.5zM55.0 497.94h1.5v5.66h-1.5zM127.0 497.94h1.5v5.66h-1.5zM149.5 497.94h1.5v5.66h-1.5zM155.5 497.94h1.5v5.66h-1.5zM170.5 497.94h1.5v5.66h-1.5zM182.5 497.94h1.5v5.66h-1.5zM208.0 497.94h1.5v5.66h-1.5zM49.0 503.60h1.5v5.66h-1.5zM122.5 503.60h1.5v5.66h-1.5zM137.5 503.60h1.5v5.66h-1.5zM170.5 503.60h1.5v5.66h-1.5zM197.5 503.60h1.5v5.66h-1.5zM238.0 503.60h1.5v5.66h-1.5zM55.0 509.26h1.5v5.66h-1.5zM65.5 509.26h1.5v5.66h-1.5zM241.0 509.26h1.5v5.66h-1.5zM52.0 514.92h1.5v5.66h-1.5zM58.0 514.92h1.5v5.66h-1.5zM68.5 514.92h1.5v5.66h-1.5zM139.0 514.92h1.5v5.66h-1.5zM173.5 514.92h1.5v5.66h-1.5zM190.0 514.92h1.5v5.66h-1.5zM227.5 514.92h1.5v5.66h-1.5zM73.0 526.24h1.5v5.66h-1.5zM203.5 526.24h1.5v5.66h-1.5zM227.5 526.24h1.5v5.66h-1.5zM233.5 526.24h1.5v5.66h-1.5zM50.5 531.90h1.5v5.66h-1.5zM55.0 531.90h1.5v5.66h-1.5zM164.5 531.90h1.5v5.66h-1.5zM182.5 531.90h1.5v5.66h-1.5z"/>
<path fill="#f6eaea" d="M91.0 447.00h1.5v5.66h-1.5zM59.5 452.66h1.5v5.66h-1.5zM118.0 452.66h1.5v5.66h-1.5zM172.0 452.66h1.5v5.66h-1.5zM73.0 458.32h1.5v5.66h-1.5zM112.0 458.32h1.5v5.66h-1.5zM125.5 458.32h1.5v5.66h-1.5zM128.5 458.32h1.5v5.66h-1.5zM202.0 458.32h1.5v5.66h-1.5zM268.0 458.32h1.5v5.66h-1.5zM53.5 463.98h1.5v5.66h-1.5zM79.0 463.98h1.5v5.66h-1.5zM154.0 463.98h1.5v5.66h-1.5zM175.0 463.98h1.5v5.66h-1.5zM197.5 463.98h1.5v5.66h-1.5zM250.0 463.98h1.5v5.66h-1.5zM257.5 463.98h1.5v5.66h-1.5zM106.0 469.64h1.5v5.66h-1.5zM131.5 469.64h1.5v5.66h-1.5zM182.5 469.64h1.5v5.66h-1.5zM205.0 475.30h1.5v5.66h-1.5zM209.5 475.30h1.5v5.66h-1.5zM214.0 475.30h1.5v5.66h-1.5zM220.0 475.30h1.5v5.66h-1.5zM257.5 475.30h1.5v5.66h-1.5zM125.5 480.96h1.5v5.66h-1.5zM193.0 480.96h1.5v5.66h-1.5zM134.5 486.62h1.5v5.66h-1.5zM181.0 486.62h1.5v5.66h-1.5zM241.0 486.62h1.5v5.66h-1.5zM259.0 486.62h1.5v5.66h-1.5zM266.5 486.62h1.5v5.66h-1.5zM112.0 492.28h1.5v5.66h-1.5zM205.0 492.28h1.5v5.66h-1.5zM49.0 497.94h1.5v5.66h-1.5zM53.5 497.94h1.5v5.66h-1.5zM157.0 497.94h1.5v5.66h-1.5zM202.0 497.94h1.5v5.66h-1.5zM215.5 497.94h1.5v5.66h-1.5zM224.5 497.94h1.5v5.66h-1.5zM262.0 503.60h1.5v5.66h-1.5zM86.5 509.26h1.5v5.66h-1.5zM112.0 509.26h1.5v5.66h-1.5zM166.0 509.26h1.5v5.66h-1.5zM187.0 509.26h1.5v5.66h-1.5zM200.5 509.26h1.5v5.66h-1.5zM230.5 509.26h1.5v5.66h-1.5zM56.5 514.92h1.5v5.66h-1.5zM118.0 520.58h1.5v5.66h-1.5zM145.0 520.58h1.5v5.66h-1.5zM193.0 520.58h1.5v5.66h-1.5zM46.0 526.24h1.5v5.66h-1.5zM70.0 526.24h1.5v5.66h-1.5zM103.0 531.90h1.5v5.66h-1.5zM142.0 531.90h1.5v5.66h-1.5zM160.0 531.90h1.5v5.66h-1.5zM217.0 531.90h1.5v5.66h-1.5z"/>
<path fill="#f6eae4" d="M92.5 447.00h1.5v5.66h-1.5zM142.0 447.00h1.5v5.66h-1.5zM205.0 447.00h1.5v5.66h-1.5zM130.0 452.66h1.5v5.66h-1.5zM140.5 452.66h1.5v5.66h-1.5zM215.5 452.66h1.5v5.66h-1.5zM254.5 452.66h1.5v5.66h-1.5zM122.5 458.32h1.5v5.66h-1.5zM58.0 463.98h1.5v5.66h-1.5zM109.0 463.98h1.5v5.66h-1.5zM40.0 469.64h1.5v5.66h-1.5zM104.5 469.64h1.5v5.66h-1.5zM94.0 475.30h1.5v5.66h-1.5zM163.0 475.30h1.5v5.66h-1.5zM223.0 475.30h1.5v5.66h-1.5zM112.0 480.96h1.5v5.66h-1.5zM115.0 480.96h1.5v5.66h-1.5zM131.5 480.96h1.5v5.66h-1.5zM146.5 480.96h1.5v5.66h-1.5zM209.5 480.96h1.5v5.66h-1.5zM238.0 480.96h1.5v5.66h-1.5zM94.0 486.62h1.5v5.66h-1.5zM140.5 486.62h1.5v5.66h-1.5zM230.5 492.28h1.5v5.66h-1.5zM79.0 497.94h1.5v5.66h-1.5zM106.0 503.60h1.5v5.66h-1.5zM199.0 509.26h1.5v5.66h-1.5zM215.5 509.26h1.5v5.66h-1.5zM92.5 514.92h1.5v5.66h-1.5zM187.0 514.92h1.5v5.66h-1.5zM140.5 520.58h1.5v5.66h-1.5zM217.0 520.58h1.5v5.66h-1.5zM220.0 520.58h1.5v5.66h-1.5zM101.5 526.24h1.5v5.66h-1.5zM136.0 526.24h1.5v5.66h-1.5zM58.0 531.90h1.5v5.66h-1.5z"/>
<path fill="#ccc6c6" d="M95.5 447.00h1.5v5.66h-1.5zM229.0 447.00h1.5v5.66h-1.5zM98.5 452.66h1.5v5.66h-1.5zM229.0 452.66h1.5v5.66h-1.5zM98.5 469.64h1.5v5.66h-1.5zM100.0 469.64h1.5v5.66h-1.5zM173.5 469.64h1.5v5.66h-1.5zM203.5 469.64h1.5v5.66h-1.5zM98.5 475.30h1.5v5.66h-1.5zM212.5 475.30h1.5v5.66h-1.5zM229.0 475.30h1.5v5.66h-1.5zM173.5 480.96h1.5v5.66h-1.5zM164.5 492.28h1.5v5.66h-1.5zM173.5 497.94h1.5v5.66h-1.5zM190.0 503.60h1.5v5.66h-1.5zM226.0 503.60h1.5v5.66h-1.5zM212.5 514.92h1.5v5.66h-1.5zM226.0 514.92h1.5v5.66h-1.5zM170.5 520.58h1.5v5.66h-1.5zM173.5 520.58h1.5v5.66h-1.5zM242.5 520.58h1.5v5.66h-1.5zM149.5 526.24h1.5v5.66h-1.5zM100.0 531.90h1.5v5.66h-1.5z"/>
<path fill="#eaeaea" d="M97.0 447.00h1.5v5.66h-1.5zM139.0 447.00h1.5v5.66h-1.5zM71.5 452.66h1.5v5.66h-1.5zM101.5 452.66h1.5v5.66h-1.5zM124.0 452.66h1.5v5.66h-1.5zM259.0 452.66h1.5v5.66h-1.5zM70.0 458.32h1.5v5.66h-1.5zM86.5 458.32h1.5v5.66h-1.5zM139.0 458.32h1.5v5.66h-1.5zM142.0 458.32h1.5v5.66h-1.5zM245.5 458.32h1.5v5.66h-1.5zM257.5 458.32h1.5v5.66h-1.5zM209.5 463.98h1.5v5.66h-1.5zM214.0 463.98h1.5v5.66h-1.5zM232.0 463.98h1.5v5.66h-1.5zM86.5 469.64h1.5v5.66h-1.5zM139.0 469.64h1.5v5.66h-1.5zM151.0 469.64h1.5v5.66h-1.5zM187.0 469.64h1.5v5.66h-1.5zM61.0 475.30h1.5v5.66h-1.5zM134.5 475.30h1.5v5.66h-1.5zM193.0 475.30h1.5v5.66h-1.5zM260.5 475.30h1.5v5.66h-1.5zM266.5 475.30h1.5v5.66h-1.5zM82.0 480.96h1.5v5.66h-1.5zM97.0 480.96h1.5v5.66h-1.5zM113.5 480.96h1.5v5.66h-1.5zM199.0 480.96h1.5v5.66h-1.5zM215.5 480.96h1.5v5.66h-1.5zM53.5 486.62h1.5v5.66h-1.5zM152.5 486.62h1.5v5.66h-1.5zM214.0 486.62h1.5v5.66h-1.5zM56.5 492.28h1.5v5.66h-1.5zM130.0 492.28h1.5v5.66h-1.5zM134.5 492.28h1.5v5.66h-1.5zM152.5 492.28h1.5v5.66h-1.5zM172.0 492.28h1.5v5.66h-1.5zM196.0 492.28h1.5v5.66h-1.5zM248.5 492.28h1.5v5.66h-1.5zM260.5 492.28h1.5v5.66h-1.5zM70.0 497.94h1.5v5.66h-1.5zM134.5 497.94h1.5v5.66h-1.5zM158.5 497.94h1.5v5.66h-1.5zM181.0 497.94h1.5v5.66h-1.5zM124.0 503.60h1.5v5.66h-1.5zM67.0 509.26h1.5v5.66h-1.5zM97.0 509.26h1.5v5.66h-1.5zM101.5 509.26h1.5v5.66h-1.5zM113.5 509.26h1.5v5.66h-1.5zM182.5 509.26h1.5v5.66h-1.5zM263.5 509.26h1.5v5.66h-1.5zM86.5 514.92h1.5v5.66h-1.5zM97.0 514.92h1.5v5.66h-1.5zM256.0 514.92h1.5v5.66h-1.5zM113.5 520.58h1.5v5.66h-1.5zM205.0 520.58h1.5v5.66h-1.5zM224.5 520.58h1.5v5.66h-1.5zM239.5 520.58h1.5v5.66h-1.5zM50.5 526.24h1.5v5.66h-1.5zM130.0 526.24h1.5v5.66h-1.5zM238.0 526.24h1.5v5.66h-1.5zM49.0 531.90h1.5v5.66h-1.5zM224.5 531.90h1.5v5.66h-1.5zM251.5 531.90h1.5v5.66h-1.5zM263.5 531.90h1.5v5.66h-1.5z"/>
<path fill="#eaccd2" d="M103.0 447.00h1.5v5.66h-1.5zM205.0 452.66h1.5v5.66h-1.5zM56.5 458.32h1.5v5.66h-1.5zM262.0 469.64h1.5v5.66h-1.5zM227.5 480.96h1.5v5.66h-1.5zM253.0 480.96h1.5v5.66h-1.5zM197.5 486.62h1.5v5.66h-1.5zM269.5 486.62h1.5v5.66h-1.5zM266.5 503.60h1.5v5.66h-1.5z"/>
<path fill="#f6f6f6" d="M104.5 447.00h1.5v5.66h-1.5zM110.5 447.00h1.5v5.66h-1.5zM119.5 447.00h1.5v5.66h-1.5zM137.5 447.00h1.5v5.66h-1.5zM194.5 447.00h1.5v5.66h-1.5zM209.5 447.00h1.5v5.66h-1.5zM214.0 447.00h1.5v5.66h-1.5zM245.5 447.00h1.5v5.66h-1.5zM263.5 447.00h1.5v5.66h-1.5zM56.5 452.66h1.5v5.66h-1.5zM110.5 452.66h1.5v5.66h-1.5zM122.5 452.66h1.5v5.66h-1.5zM125.5 452.66h1.5v5.66h-1.5zM137.5 452.66h1.5v5.66h-1.5zM182.5 452.66h1.5v5.66h-1.5zM196.0 452.66h1.5v5.66h-1.5zM200.5 452.66h1.5v5.66h-1.5zM206.5 452.66h1.5v5.66h-1.5zM209.5 452.66h1.5v5.66h-1.5zM211.0 452.66h1.5v5.66h-1.5zM217.0 452.66h1.5v5.66h-1.5zM230.5 452.66h1.5v5.66h-1.5zM253.0 452.66h1.5v5.66h-1.5zM256.0 452.66h1.5v5.66h-1.5zM257.5 452.66h1.5v5.66h-1.5zM124.0 458.32h1.5v5.66h-1.5zM146.5 458.32h1.5v5.66h-1.5zM184.0 458.32h1.5v5.66h-1.5zM253.0 458.32h1.5v5.66h-1.5zM65.5 463.98h1.5v5.66h-1.5zM76.0 463.98h1.5v5.66h-1.5zM91.0 463.98h1.5v5.66h-1.5zM104.5 463.98h1.5v5.66h-1.5zM115.0 463.98h1.5v5.66h-1.5zM116.5 463.98h1.5v5.66h-1.5zM227.5 463.98h1.5v5.66h-1.5zM233.5 463.98h1.5v5.66h-1.5zM235.0 463.98h1.5v5.66h-1.5zM260.5 463.98h1.5v5.66h-1.5zM82.0 469.64h1.5v5.66h-1.5zM97.0 469.64h1.5v5.66h-1.5zM113.5 469.64h1.5v5.66h-1.5zM118.0 469.64h1.5v5.66h-1.5zM146.5 469.64h1.5v5.66h-1.5zM155.5 469.64h1.5v5.66h-1.5zM205.0 469.64h1.5v5.66h-1.5zM223.0 469.64h1.5v5.66h-1.5zM64.0 475.30h1.5v5.66h-1.5zM88.0 475.30h1.5v5.66h-1.5zM227.5 475.30h1.5v5.66h-1.5zM232.0 475.30h1.5v5.66h-1.5zM59.5 480.96h1.5v5.66h-1.5zM64.0 480.96h1.5v5.66h-1.5zM80.5 480.96h1.5v5.66h-1.5zM124.0 480.96h1.5v5.66h-1.5zM130.0 480.96h1.5v5.66h-1.5zM139.0 480.96h1.5v5.66h-1.5zM154.0 480.96h1.5v5.66h-1.5zM80.5 486.62h1.5v5.66h-1.5zM161.5 486.62h1.5v5.66h-1.5zM178.0 486.62h1.5v5.66h-1.5zM191.5 486.62h1.5v5.66h-1.5zM205.0 486.62h1.5v5.66h-1.5zM224.5 486.62h1.5v5.66h-1.5zM262.0 486.62h1.5v5.66h-1.5zM67.0 492.28h1.5v5.66h-1.5zM91.0 492.28h1.5v5.66h-1.5zM115.0 492.28h1.5v5.66h-1.5zM119.5 492.28h1.5v5.66h-1.5zM136.0 492.28h1.5v5.66h-1.5zM182.5 492.28h1.5v5.66h-1.5zM188.5 492.28h1.5v5.66h-1.5zM191.5 492.28h1.5v5.66h-1.5zM209.5 492.28h1.5v5.66h-1.5zM221.5 492.28h1.5v5.66h-1.5zM233.5 492.28h1.5v5.66h-1.5zM236.5 492.28h1.5v5.66h-1.5zM238.0 492.28h1.5v5.66h-1.5zM256.0 492.28h1.5v5.66h-1.5zM263.5 492.28h1.5v5.66h-1.5zM269.5 492.28h1.5v5.66h-1.5zM46.0 497.94h1.5v5.66h-1.5zM61.0 497.94h1.5v5.66h-1.5zM101.5 497.94h1.5v5.66h-1.5zM115.0 497.94h1.5v5.66h-1.5zM130.0 497.94h1.5v5.66h-1.5zM199.0 497.94h1.5v5.66h-1.5zM209.5 497.94h1.5v5.66h-1.5zM223.0 497.94h1.5v5.66h-1.5zM227.5 497.94h1.5v5.66h-1.5zM61.0 503.60h1.5v5.66h-1.5zM64.0 503.60h1.5v5.66h-1.5zM77.5 503.60h1.5v5.66h-1.5zM116.5 503.60h1.5v5.66h-1.5zM118.0 503.60h1.5v5.66h-1.5zM130.0 503.60h1.5v5.66h-1.5zM154.0 503.60h1.5v5.66h-1.5zM176.5 503.60h1.5v5.66h-1.5zM182.5 503.60h1.5v5.66h-1.5zM187.0 503.60h1.5v5.66h-1.5zM193.0 503.60h1.5v5.66h-1.5zM196.0 503.60h1.5v5.66h-1.5zM199.0 503.60h1.5v5.66h-1.5zM218.5 503.60h1.5v5.66h-1.5zM247.0 503.60h1.5v5.66h-1.5zM70.0 509.26h1.5v5.66h-1.5zM80.5 509.26h1.5v5.66h-1.5zM109.0 509.26h1.5v5.66h-1.5zM122.5 509.26h1.5v5.66h-1.5zM169.0 509.26h1.5v5.66h-1.5zM208.0 509.26h1.5v5.66h-1.5zM217.0 509.26h1.5v5.66h-1.5zM221.5 509.26h1.5v5.66h-1.5zM238.0 509.26h1.5v5.66h-1.5zM265.0 509.26h1.5v5.66h-1.5zM80.5 514.92h1.5v5.66h-1.5zM176.5 514.92h1.5v5.66h-1.5zM182.5 514.92h1.5v5.66h-1.5zM193.0 514.92h1.5v5.66h-1.5zM196.0 514.92h1.5v5.66h-1.5zM199.0 514.92h1.5v5.66h-1.5zM206.5 514.92h1.5v5.66h-1.5zM221.5 514.92h1.5v5.66h-1.5zM236.5 514.92h1.5v5.66h-1.5zM250.0 514.92h1.5v5.66h-1.5zM251.5 514.92h1.5v5.66h-1.5zM260.5 514.92h1.5v5.66h-1.5zM53.5 520.58h1.5v5.66h-1.5zM88.0 520.58h1.5v5.66h-1.5zM92.5 520.58h1.5v5.66h-1.5zM106.0 520.58h1.5v5.66h-1.5zM139.0 520.58h1.5v5.66h-1.5zM154.0 520.58h1.5v5.66h-1.5zM155.5 520.58h1.5v5.66h-1.5zM167.5 520.58h1.5v5.66h-1.5zM196.0 520.58h1.5v5.66h-1.5zM64.0 526.24h1.5v5.66h-1.5zM76.0 526.24h1.5v5.66h-1.5zM79.0 526.24h1.5v5.66h-1.5zM113.5 526.24h1.5v5.66h-1.5zM131.5 526.24h1.5v5.66h-1.5zM139.0 526.24h1.5v5.66h-1.5zM142.0 526.24h1.5v5.66h-1.5zM160.0 526.24h1.5v5.66h-1.5zM169.0 526.24h1.5v5.66h-1.5zM179.5 526.24h1.5v5.66h-1.5zM202.0 526.24h1.5v5.66h-1.5zM232.0 526.24h1.5v5.66h-1.5zM56.5 531.90h1.5v5.66h-1.5zM61.0 531.90h1.5v5.66h-1.5zM65.5 531.90h1.5v5.66h-1.5zM67.0 531.90h1.5v5.66h-1.5zM73.0 531.90h1.5v5.66h-1.5zM112.0 531.90h1.5v5.66h-1.5zM200.5 531.90h1.5v5.66h-1.5zM235.0 531.90h1.5v5.66h-1.5zM241.0 531.90h1.5v5.66h-1.5zM260.5 531.90h1.5v5.66h-1.5zM265.0 531.90h1.5v5.66h-1.5z"/>
<path fill="#fcf6f0" d="M109.0 447.00h1.5v5.66h-1.5zM220.0 447.00h1.5v5.66h-1.5zM247.0 447.00h1.5v5.66h-1.5zM223.0 452.66h1.5v5.66h-1.5zM224.5 458.32h1.5v5.66h-1.5zM227.5 458.32h1.5v5.66h-1.5zM136.0 469.64h1.5v5.66h-1.5zM215.5 469.64h1.5v5.66h-1.5zM58.0 475.30h1.5v5.66h-1.5zM161.5 475.30h1.5v5.66h-1.5zM254.5 475.30h1.5v5.66h-1.5zM122.5 480.96h1.5v5.66h-1.5zM142.0 480.96h1.5v5.66h-1.5zM128.5 492.28h1.5v5.66h-1.5zM92.5 497.94h1.5v5.66h-1.5zM104.5 503.60h1.5v5.66h-1.5zM230.5 503.60h1.5v5.66h-1.5zM133.0 509.26h1.5v5.66h-1.5zM161.5 509.26h1.5v5.66h-1.5zM254.5 509.26h1.5v5.66h-1.5zM140.5 514.92h1.5v5.66h-1.5zM97.0 526.24h1.5v5.66h-1.5zM140.5 526.24h1.5v5.66h-1.5z"/>
<path fill="#f6f0ea" d="M112.0 447.00h1.5v5.66h-1.5zM224.5 447.00h1.5v5.66h-1.5zM169.0 458.32h1.5v5.66h-1.5zM103.0 463.98h1.5v5.66h-1.5zM112.0 475.30h1.5v5.66h-1.5zM248.5 475.30h1.5v5.66h-1.5zM161.5 480.96h1.5v5.66h-1.5zM218.5 480.96h1.5v5.66h-1.5zM199.0 486.62h1.5v5.66h-1.5zM53.5 492.28h1.5v5.66h-1.5zM88.0 492.28h1.5v5.66h-1.5zM94.0 492.28h1.5v5.66h-1.5zM118.0 492.28h1.5v5.66h-1.5zM74.5 503.60h1.5v5.66h-1.5zM112.0 503.60h1.5v5.66h-1.5zM124.0 509.26h1.5v5.66h-1.5zM140.5 509.26h1.5v5.66h-1.5zM59.5 514.92h1.5v5.66h-1.5zM74.5 514.92h1.5v5.66h-1.5zM151.0 520.58h1.5v5.66h-1.5zM40.0 526.24h1.5v5.66h-1.5zM74.5 526.24h1.5v5.66h-1.5zM133.0 526.24h1.5v5.66h-1.5zM154.0 526.24h1.5v5.66h-1.5zM215.5 526.24h1.5v5.66h-1.5z"/>
<path fill="#f6f0f6" d="M113.5 447.00h1.5v5.66h-1.5zM160.0 447.00h1.5v5.66h-1.5zM163.0 447.00h1.5v5.66h-1.5zM214.0 452.66h1.5v5.66h-1.5zM76.0 458.32h1.5v5.66h-1.5zM176.5 458.32h1.5v5.66h-1.5zM199.0 458.32h1.5v5.66h-1.5zM223.0 458.32h1.5v5.66h-1.5zM82.0 463.98h1.5v5.66h-1.5zM83.5 463.98h1.5v5.66h-1.5zM221.5 463.98h1.5v5.66h-1.5zM74.5 475.30h1.5v5.66h-1.5zM235.0 475.30h1.5v5.66h-1.5zM77.5 480.96h1.5v5.66h-1.5zM133.0 480.96h1.5v5.66h-1.5zM194.5 480.96h1.5v5.66h-1.5zM40.0 486.62h1.5v5.66h-1.5zM74.5 486.62h1.5v5.66h-1.5zM139.0 486.62h1.5v5.66h-1.5zM200.5 486.62h1.5v5.66h-1.5zM239.5 492.28h1.5v5.66h-1.5zM262.0 492.28h1.5v5.66h-1.5zM154.0 497.94h1.5v5.66h-1.5zM188.5 497.94h1.5v5.66h-1.5zM236.5 497.94h1.5v5.66h-1.5zM67.0 503.60h1.5v5.66h-1.5zM115.0 503.60h1.5v5.66h-1.5zM139.0 503.60h1.5v5.66h-1.5zM155.5 503.60h1.5v5.66h-1.5zM163.0 503.60h1.5v5.66h-1.5zM107.5 509.26h1.5v5.66h-1.5zM155.5 509.26h1.5v5.66h-1.5zM259.0 509.26h1.5v5.66h-1.5zM104.5 514.92h1.5v5.66h-1.5zM208.0 514.92h1.5v5.66h-1.5zM217.0 514.92h1.5v5.66h-1.5zM218.5 514.92h1.5v5.66h-1.5zM160.0 520.58h1.5v5.66h-1.5zM214.0 526.24h1.5v5.66h-1.5zM241.0 526.24h1.5v5.66h-1.5zM118.0 531.90h1.5v5.66h-1.5zM179.5 531.90h1.5v5.66h-1.5zM221.5 531.90h1.5v5.66h-1.5z"/>
<path fill="#f0f0f6" d="M115.0 447.00h1.5v5.66h-1.5zM122.5 447.00h1.5v5.66h-1.5zM124.0 447.00h1.5v5.66h-1.5zM152.5 452.66h1.5v5.66h-1.5zM116.5 458.32h1.5v5.66h-1.5zM121.0 458.32h1.5v5.66h-1.5zM248.5 458.32h1.5v5.66h-1.5zM251.5 458.32h1.5v5.66h-1.5zM163.0 463.98h1.5v5.66h-1.5zM167.5 463.98h1.5v5.66h-1.5zM73.0 469.64h1.5v5.66h-1.5zM119.5 469.64h1.5v5.66h-1.5zM53.5 475.30h1.5v5.66h-1.5zM116.5 475.30h1.5v5.66h-1.5zM125.5 475.30h1.5v5.66h-1.5zM208.0 475.30h1.5v5.66h-1.5zM50.5 480.96h1.5v5.66h-1.5zM230.5 480.96h1.5v5.66h-1.5zM158.5 486.62h1.5v5.66h-1.5zM251.5 486.62h1.5v5.66h-1.5zM62.5 497.94h1.5v5.66h-1.5zM176.5 497.94h1.5v5.66h-1.5zM43.0 514.92h1.5v5.66h-1.5zM106.0 514.92h1.5v5.66h-1.5zM197.5 514.92h1.5v5.66h-1.5zM58.0 520.58h1.5v5.66h-1.5zM136.0 520.58h1.5v5.66h-1.5zM157.0 520.58h1.5v5.66h-1.5zM62.5 526.24h1.5v5.66h-1.5zM218.5 526.24h1.5v5.66h-1.5zM82.0 531.90h1.5v5.66h-1.5zM166.0 531.90h1.5v5.66h-1.5zM194.5 531.90h1.5v5.66h-1.5zM199.0 531.90h1.5v5.66h-1.5z"/>
<path fill="#f0e4e4" d="M116.5 447.00h1.5v5.66h-1.5zM101.5 458.32h1.5v5.66h-1.5zM137.5 458.32h1.5v5.66h-1.5zM124.0 463.98h1.5v5.66h-1.5zM211.0 463.98h1.5v5.66h-1.5zM254.5 463.98h1.5v5.66h-1.5zM181.0 469.64h1.5v5.66h-1.5zM53.5 480.96h1.5v5.66h-1.5zM248.5 480.96h1.5v5.66h-1.5zM88.0 486.62h1.5v5.66h-1.5zM154.0 486.62h1.5v5.66h-1.5zM161.5 492.28h1.5v5.66h-1.5zM241.0 492.28h1.5v5.66h-1.5zM41.5 497.94h1.5v5.66h-1.5zM257.5 497.94h1.5v5.66h-1.5zM151.0 503.60h1.5v5.66h-1.5zM248.5 503.60h1.5v5.66h-1.5zM263.5 503.60h1.5v5.66h-1.5zM265.0 503.60h1.5v5.66h-1.5zM92.5 509.26h1.5v5.66h-1.5zM262.0 509.26h1.5v5.66h-1.5zM230.5 514.92h1.5v5.66h-1.5zM178.0 520.58h1.5v5.66h-1.5zM188.5 520.58h1.5v5.66h-1.5zM232.0 520.58h1.5v5.66h-1.5zM241.0 520.58h1.5v5.66h-1.5zM254.5 520.58h1.5v5.66h-1.5zM145.0 526.24h1.5v5.66h-1.5zM191.5 526.24h1.5v5.66h-1.5zM178.0 531.90h1.5v5.66h-1.5zM187.0 531.90h1.5v5.66h-1.5zM230.5 531.90h1.5v5.66h-1.5z"/>
<path fill="#eaf0f0" d="M125.5 447.00h1.5v5.66h-1.5zM46.0 475.30h1.5v5.66h-1.5zM71.5 480.96h1.5v5.66h-1.5zM46.0 509.26h1.5v5.66h-1.5zM62.5 509.26h1.5v5.66h-1.5zM109.0 514.92h1.5v5.66h-1.5zM107.5 520.58h1.5v5.66h-1.5z"/>
<path fill="#ded8d8" d="M127.0 447.00h1.5v5.66h-1.5zM43.0 452.66h1.5v5.66h-1.5zM229.0 458.32h1.5v5.66h-1.5zM64.0 463.98h1.5v5.66h-1.5zM148.0 463.98h1.5v5.66h-1.5zM190.0 463.98h1.5v5.66h-1.5zM218.5 463.98h1.5v5.66h-1.5zM185.5 469.64h1.5v5.66h-1.5zM47.5 475.30h1.5v5.66h-1.5zM148.0 475.30h1.5v5.66h-1.5zM244.0 475.30h1.5v5.66h-1.5zM170.5 480.96h1.5v5.66h-1.5zM164.5 486.62h1.5v5.66h-1.5zM242.5 486.62h1.5v5.66h-1.5zM52.0 492.28h1.5v5.66h-1.5zM85.0 492.28h1.5v5.66h-1.5zM95.5 492.28h1.5v5.66h-1.5zM127.0 492.28h1.5v5.66h-1.5zM214.0 492.28h1.5v5.66h-1.5zM95.5 497.94h1.5v5.66h-1.5zM143.5 497.94h1.5v5.66h-1.5zM146.5 503.60h1.5v5.66h-1.5zM68.5 509.26h1.5v5.66h-1.5zM94.0 509.26h1.5v5.66h-1.5zM95.5 509.26h1.5v5.66h-1.5zM242.5 509.26h1.5v5.66h-1.5zM100.0 514.92h1.5v5.66h-1.5zM89.5 520.58h1.5v5.66h-1.5zM98.5 520.58h1.5v5.66h-1.5zM227.5 520.58h1.5v5.66h-1.5zM263.5 520.58h1.5v5.66h-1.5zM98.5 526.24h1.5v5.66h-1.5zM143.5 526.24h1.5v5.66h-1.5zM229.0 526.24h1.5v5.66h-1.5zM212.5 531.90h1.5v5.66h-1.5z"/>
<path fill="#fcf0f0" d="M128.5 447.00h1.5v5.66h-1.5zM232.0 447.00h1.5v5.66h-1.5zM49.0 452.66h1.5v5.66h-1.5zM263.5 452.66h1.5v5.66h-1.5zM106.0 458.32h1.5v5.66h-1.5zM236.5 463.98h1.5v5.66h-1.5zM109.0 475.30h1.5v5.66h-1.5zM214.0 480.96h1.5v5.66h-1.5zM112.0 486.62h1.5v5.66h-1.5zM230.5 486.62h1.5v5.66h-1.5zM92.5 492.28h1.5v5.66h-1.5zM191.5 503.60h1.5v5.66h-1.5zM215.5 514.92h1.5v5.66h-1.5zM112.0 526.24h1.5v5.66h-1.5zM104.5 531.90h1.5v5.66h-1.5zM128.5 531.90h1.5v5.66h-1.5z"/>
<path fill="#ead8de" d="M130.0 447.00h1.5v5.66h-1.5zM58.0 452.66h1.5v5.66h-1.5zM104.5 452.66h1.5v5.66h-1.5zM131.5 452.66h1.5v5.66h-1.5zM136.0 452.66h1.5v5.66h-1.5zM167.5 458.32h1.5v5.66h-1.5zM250.0 458.32h1.5v5.66h-1.5zM133.0 463.98h1.5v5.66h-1.5zM151.0 463.98h1.5v5.66h-1.5zM239.5 463.98h1.5v5.66h-1.5zM88.0 480.96h1.5v5.66h-1.5zM211.0 480.96h1.5v5.66h-1.5zM43.0 486.62h1.5v5.66h-1.5zM70.0 486.62h1.5v5.66h-1.5zM79.0 486.62h1.5v5.66h-1.5zM106.0 486.62h1.5v5.66h-1.5zM209.5 486.62h1.5v5.66h-1.5zM211.0 486.62h1.5v5.66h-1.5zM59.5 492.28h1.5v5.66h-1.5zM175.0 492.28h1.5v5.66h-1.5zM200.5 492.28h1.5v5.66h-1.5zM259.0 497.94h1.5v5.66h-1.5zM64.0 509.26h1.5v5.66h-1.5zM133.0 514.92h1.5v5.66h-1.5zM233.5 514.92h1.5v5.66h-1.5zM73.0 520.58h1.5v5.66h-1.5zM59.5 526.24h1.5v5.66h-1.5zM254.5 526.24h1.5v5.66h-1.5zM46.0 531.90h1.5v5.66h-1.5zM70.0 531.90h1.5v5.66h-1.5zM88.0 531.90h1.5v5.66h-1.5z"/>
<path fill="#e4e4e4" d="M145.0 447.00h1.5v5.66h-1.5zM152.5 447.00h1.5v5.66h-1.5zM164.5 452.66h1.5v5.66h-1.5zM185.5 452.66h1.5v5.66h-1.5zM236.5 452.66h1.5v5.66h-1.5zM265.0 452.66h1.5v5.66h-1.5zM64.0 458.32h1.5v5.66h-1.5zM85.0 458.32h1.5v5.66h-1.5zM256.0 458.32h1.5v5.66h-1.5zM185.5 463.98h1.5v5.66h-1.5zM202.0 463.98h1.5v5.66h-1.5zM229.0 463.98h1.5v5.66h-1.5zM125.5 469.64h1.5v5.66h-1.5zM137.5 469.64h1.5v5.66h-1.5zM199.0 469.64h1.5v5.66h-1.5zM238.0 469.64h1.5v5.66h-1.5zM68.5 475.30h1.5v5.66h-1.5zM115.0 475.30h1.5v5.66h-1.5zM137.5 475.30h1.5v5.66h-1.5zM176.5 475.30h1.5v5.66h-1.5zM199.0 475.30h1.5v5.66h-1.5zM203.5 475.30h1.5v5.66h-1.5zM247.0 475.30h1.5v5.66h-1.5zM44.5 480.96h1.5v5.66h-1.5zM143.5 480.96h1.5v5.66h-1.5zM164.5 480.96h1.5v5.66h-1.5zM182.5 480.96h1.5v5.66h-1.5zM185.5 480.96h1.5v5.66h-1.5zM226.0 480.96h1.5v5.66h-1.5zM56.5 486.62h1.5v5.66h-1.5zM67.0 486.62h1.5v5.66h-1.5zM119.5 486.62h1.5v5.66h-1.5zM173.5 486.62h1.5v5.66h-1.5zM43.0 492.28h1.5v5.66h-1.5zM55.0 492.28h1.5v5.66h-1.5zM65.5 492.28h1.5v5.66h-1.5zM100.0 492.28h1.5v5.66h-1.5zM149.5 492.28h1.5v5.66h-1.5zM71.5 497.94h1.5v5.66h-1.5zM113.5 497.94h1.5v5.66h-1.5zM148.0 497.94h1.5v5.66h-1.5zM166.0 497.94h1.5v5.66h-1.5zM205.0 497.94h1.5v5.66h-1.5zM220.0 497.94h1.5v5.66h-1.5zM68.5 503.60h1.5v5.66h-1.5zM76.0 503.60h1.5v5.66h-1.5zM152.5 503.60h1.5v5.66h-1.5zM158.5 503.60h1.5v5.66h-1.5zM229.0 503.60h1.5v5.66h-1.5zM88.0 509.26h1.5v5.66h-1.5zM134.5 509.26h1.5v5.66h-1.5zM185.5 509.26h1.5v5.66h-1.5zM41.5 514.92h1.5v5.66h-1.5zM88.0 514.92h1.5v5.66h-1.5zM101.5 514.92h1.5v5.66h-1.5zM130.0 514.92h1.5v5.66h-1.5zM178.0 514.92h1.5v5.66h-1.5zM182.5 520.58h1.5v5.66h-1.5zM185.5 520.58h1.5v5.66h-1.5zM91.0 526.24h1.5v5.66h-1.5zM95.5 526.24h1.5v5.66h-1.5zM100.0 526.24h1.5v5.66h-1.5zM155.5 526.24h1.5v5.66h-1.5zM182.5 526.24h1.5v5.66h-1.5zM185.5 526.24h1.5v5.66h-1.5zM226.0 526.24h1.5v5.66h-1.5zM52.0 531.90h1.5v5.66h-1.5zM76.0 531.90h1.5v5.66h-1.5zM131.5 531.90h1.5v5.66h-1.5zM146.5 531.90h1.5v5.66h-1.5zM155.5 531.90h1.5v5.66h-1.5zM170.5 531.90h1.5v5.66h-1.5zM181.0 531.90h1.5v5.66h-1.5zM203.5 531.90h1.5v5.66h-1.5zM226.0 531.90h1.5v5.66h-1.5zM244.0 531.90h1.5v5.66h-1.5zM253.0 531.90h1.5v5.66h-1.5z"/>
<path fill="#ded8de" d="M148.0 447.00h1.5v5.66h-1.5zM121.0 452.66h1.5v5.66h-1.5zM190.0 452.66h1.5v5.66h-1.5zM242.5 452.66h1.5v5.66h-1.5zM98.5 458.32h1.5v5.66h-1.5zM101.5 463.98h1.5v5.66h-1.5zM182.5 463.98h1.5v5.66h-1.5zM220.0 463.98h1.5v5.66h-1.5zM238.0 463.98h1.5v5.66h-1.5zM170.5 469.64h1.5v5.66h-1.5zM52.0 475.30h1.5v5.66h-1.5zM113.5 475.30h1.5v5.66h-1.5zM139.0 475.30h1.5v5.66h-1.5zM158.5 475.30h1.5v5.66h-1.5zM52.0 480.96h1.5v5.66h-1.5zM104.5 480.96h1.5v5.66h-1.5zM205.0 480.96h1.5v5.66h-1.5zM229.0 480.96h1.5v5.66h-1.5zM103.0 486.62h1.5v5.66h-1.5zM155.5 486.62h1.5v5.66h-1.5zM184.0 486.62h1.5v5.66h-1.5zM260.5 486.62h1.5v5.66h-1.5zM82.0 492.28h1.5v5.66h-1.5zM154.0 492.28h1.5v5.66h-1.5zM212.5 492.28h1.5v5.66h-1.5zM85.0 497.94h1.5v5.66h-1.5zM86.5 497.94h1.5v5.66h-1.5zM185.5 497.94h1.5v5.66h-1.5zM253.0 497.94h1.5v5.66h-1.5zM164.5 503.60h1.5v5.66h-1.5zM235.0 503.60h1.5v5.66h-1.5zM73.0 509.26h1.5v5.66h-1.5zM74.5 509.26h1.5v5.66h-1.5zM82.0 509.26h1.5v5.66h-1.5zM139.0 509.26h1.5v5.66h-1.5zM149.5 509.26h1.5v5.66h-1.5zM154.0 509.26h1.5v5.66h-1.5zM160.0 509.26h1.5v5.66h-1.5zM233.5 509.26h1.5v5.66h-1.5zM55.0 514.92h1.5v5.66h-1.5zM134.5 514.92h1.5v5.66h-1.5zM148.0 514.92h1.5v5.66h-1.5zM223.0 514.92h1.5v5.66h-1.5zM50.5 520.58h1.5v5.66h-1.5zM55.0 520.58h1.5v5.66h-1.5zM85.0 520.58h1.5v5.66h-1.5zM133.0 520.58h1.5v5.66h-1.5zM149.5 520.58h1.5v5.66h-1.5zM163.0 520.58h1.5v5.66h-1.5zM176.5 520.58h1.5v5.66h-1.5zM209.5 520.58h1.5v5.66h-1.5zM226.0 520.58h1.5v5.66h-1.5zM229.0 520.58h1.5v5.66h-1.5zM256.0 520.58h1.5v5.66h-1.5zM68.5 526.24h1.5v5.66h-1.5zM127.0 526.24h1.5v5.66h-1.5zM152.5 526.24h1.5v5.66h-1.5zM172.0 526.24h1.5v5.66h-1.5zM224.5 526.24h1.5v5.66h-1.5zM47.5 531.90h1.5v5.66h-1.5zM130.0 531.90h1.5v5.66h-1.5zM133.0 531.90h1.5v5.66h-1.5zM143.5 531.90h1.5v5.66h-1.5zM188.5 531.90h1.5v5.66h-1.5zM190.0 531.90h1.5v5.66h-1.5zM236.5 531.90h1.5v5.66h-1.5z"/>
<path fill="#d8d2d8" d="M149.5 447.00h1.5v5.66h-1.5zM226.0 452.66h1.5v5.66h-1.5zM127.0 458.32h1.5v5.66h-1.5zM170.5 458.32h1.5v5.66h-1.5zM100.0 463.98h1.5v5.66h-1.5zM149.5 463.98h1.5v5.66h-1.5zM164.5 463.98h1.5v5.66h-1.5zM149.5 469.64h1.5v5.66h-1.5zM242.5 475.30h1.5v5.66h-1.5zM89.5 480.96h1.5v5.66h-1.5zM95.5 480.96h1.5v5.66h-1.5zM149.5 480.96h1.5v5.66h-1.5zM47.5 486.62h1.5v5.66h-1.5zM127.0 486.62h1.5v5.66h-1.5zM149.5 486.62h1.5v5.66h-1.5zM190.0 486.62h1.5v5.66h-1.5zM226.0 486.62h1.5v5.66h-1.5zM173.5 492.28h1.5v5.66h-1.5zM44.5 497.94h1.5v5.66h-1.5zM185.5 503.60h1.5v5.66h-1.5zM212.5 509.26h1.5v5.66h-1.5zM226.0 509.26h1.5v5.66h-1.5zM229.0 509.26h1.5v5.66h-1.5zM44.5 514.92h1.5v5.66h-1.5zM47.5 514.92h1.5v5.66h-1.5zM127.0 514.92h1.5v5.66h-1.5zM185.5 514.92h1.5v5.66h-1.5zM68.5 520.58h1.5v5.66h-1.5zM100.0 520.58h1.5v5.66h-1.5zM85.0 526.24h1.5v5.66h-1.5zM164.5 526.24h1.5v5.66h-1.5zM127.0 531.90h1.5v5.66h-1.5z"/>
<path fill="#f0f0f0" d="M154.0 447.00h1.5v5.66h-1.5zM155.5 447.00h1.5v5.66h-1.5zM191.5 447.00h1.5v5.66h-1.5zM223.0 447.00h1.5v5.66h-1.5zM227.5 447.00h1.5v5.66h-1.5zM238.0 447.00h1.5v5.66h-1.5zM269.5 447.00h1.5v5.66h-1.5zM245.5 452.66h1.5v5.66h-1.5zM262.0 452.66h1.5v5.66h-1.5zM145.0 458.32h1.5v5.66h-1.5zM259.0 458.32h1.5v5.66h-1.5zM70.0 463.98h1.5v5.66h-1.5zM56.5 469.64h1.5v5.66h-1.5zM71.5 469.64h1.5v5.66h-1.5zM142.0 469.64h1.5v5.66h-1.5zM152.5 469.64h1.5v5.66h-1.5zM188.5 469.64h1.5v5.66h-1.5zM70.0 475.30h1.5v5.66h-1.5zM97.0 475.30h1.5v5.66h-1.5zM250.0 475.30h1.5v5.66h-1.5zM91.0 480.96h1.5v5.66h-1.5zM94.0 480.96h1.5v5.66h-1.5zM107.5 480.96h1.5v5.66h-1.5zM163.0 480.96h1.5v5.66h-1.5zM107.5 486.62h1.5v5.66h-1.5zM163.0 486.62h1.5v5.66h-1.5zM221.5 486.62h1.5v5.66h-1.5zM227.5 486.62h1.5v5.66h-1.5zM233.5 486.62h1.5v5.66h-1.5zM46.0 492.28h1.5v5.66h-1.5zM151.0 492.28h1.5v5.66h-1.5zM158.5 492.28h1.5v5.66h-1.5zM253.0 492.28h1.5v5.66h-1.5zM40.0 497.94h1.5v5.66h-1.5zM59.5 497.94h1.5v5.66h-1.5zM73.0 497.94h1.5v5.66h-1.5zM131.5 497.94h1.5v5.66h-1.5zM65.5 503.60h1.5v5.66h-1.5zM131.5 503.60h1.5v5.66h-1.5zM181.0 503.60h1.5v5.66h-1.5zM188.5 503.60h1.5v5.66h-1.5zM194.5 503.60h1.5v5.66h-1.5zM220.0 503.60h1.5v5.66h-1.5zM115.0 509.26h1.5v5.66h-1.5zM131.5 509.26h1.5v5.66h-1.5zM137.5 509.26h1.5v5.66h-1.5zM152.5 509.26h1.5v5.66h-1.5zM188.5 509.26h1.5v5.66h-1.5zM196.0 509.26h1.5v5.66h-1.5zM227.5 509.26h1.5v5.66h-1.5zM235.0 509.26h1.5v5.66h-1.5zM253.0 509.26h1.5v5.66h-1.5zM268.0 509.26h1.5v5.66h-1.5zM65.5 514.92h1.5v5.66h-1.5zM152.5 514.92h1.5v5.66h-1.5zM232.0 514.92h1.5v5.66h-1.5zM248.5 514.92h1.5v5.66h-1.5zM268.0 514.92h1.5v5.66h-1.5zM62.5 520.58h1.5v5.66h-1.5zM86.5 520.58h1.5v5.66h-1.5zM101.5 520.58h1.5v5.66h-1.5zM104.5 520.58h1.5v5.66h-1.5zM41.5 526.24h1.5v5.66h-1.5zM83.5 526.24h1.5v5.66h-1.5zM122.5 526.24h1.5v5.66h-1.5zM209.5 526.24h1.5v5.66h-1.5zM239.5 526.24h1.5v5.66h-1.5zM245.5 526.24h1.5v5.66h-1.5zM247.0 526.24h1.5v5.66h-1.5zM106.0 531.90h1.5v5.66h-1.5zM124.0 531.90h1.5v5.66h-1.5zM134.5 531.90h1.5v5.66h-1.5zM140.5 531.90h1.5v5.66h-1.5zM152.5 531.90h1.5v5.66h-1.5zM169.0 531.90h1.5v5.66h-1.5zM209.5 531.90h1.5v5.66h-1.5zM232.0 531.90h1.5v5.66h-1.5zM233.5 531.90h1.5v5.66h-1.5z"/>
<path fill="#d8d2d2" d="M164.5 447.00h1.5v5.66h-1.5zM185.5 447.00h1.5v5.66h-1.5zM203.5 447.00h1.5v5.66h-1.5zM226.0 447.00h1.5v5.66h-1.5zM89.5 452.66h1.5v5.66h-1.5zM143.5 452.66h1.5v5.66h-1.5zM173.5 452.66h1.5v5.66h-1.5zM190.0 458.32h1.5v5.66h-1.5zM212.5 458.32h1.5v5.66h-1.5zM226.0 458.32h1.5v5.66h-1.5zM85.0 463.98h1.5v5.66h-1.5zM127.0 463.98h1.5v5.66h-1.5zM143.5 463.98h1.5v5.66h-1.5zM212.5 463.98h1.5v5.66h-1.5zM52.0 469.64h1.5v5.66h-1.5zM95.5 469.64h1.5v5.66h-1.5zM55.0 486.62h1.5v5.66h-1.5zM68.5 492.28h1.5v5.66h-1.5zM185.5 492.28h1.5v5.66h-1.5zM68.5 497.94h1.5v5.66h-1.5zM164.5 497.94h1.5v5.66h-1.5zM143.5 503.60h1.5v5.66h-1.5zM100.0 509.26h1.5v5.66h-1.5zM127.0 509.26h1.5v5.66h-1.5zM85.0 514.92h1.5v5.66h-1.5zM143.5 514.92h1.5v5.66h-1.5zM44.5 520.58h1.5v5.66h-1.5zM170.5 526.24h1.5v5.66h-1.5zM89.5 531.90h1.5v5.66h-1.5z"/>
<path fill="#e4eaf0" d="M167.5 447.00h1.5v5.66h-1.5zM103.0 452.66h1.5v5.66h-1.5zM134.5 452.66h1.5v5.66h-1.5zM194.5 452.66h1.5v5.66h-1.5zM62.5 458.32h1.5v5.66h-1.5zM115.0 458.32h1.5v5.66h-1.5zM158.5 458.32h1.5v5.66h-1.5zM221.5 458.32h1.5v5.66h-1.5zM247.0 458.32h1.5v5.66h-1.5zM91.0 469.64h1.5v5.66h-1.5zM115.0 469.64h1.5v5.66h-1.5zM163.0 469.64h1.5v5.66h-1.5zM71.5 475.30h1.5v5.66h-1.5zM73.0 475.30h1.5v5.66h-1.5zM83.5 475.30h1.5v5.66h-1.5zM122.5 475.30h1.5v5.66h-1.5zM178.0 475.30h1.5v5.66h-1.5zM217.0 475.30h1.5v5.66h-1.5zM92.5 480.96h1.5v5.66h-1.5zM77.5 486.62h1.5v5.66h-1.5zM172.0 486.62h1.5v5.66h-1.5zM218.5 486.62h1.5v5.66h-1.5zM83.5 492.28h1.5v5.66h-1.5zM157.0 492.28h1.5v5.66h-1.5zM259.0 492.28h1.5v5.66h-1.5zM187.0 497.94h1.5v5.66h-1.5zM41.5 503.60h1.5v5.66h-1.5zM160.0 503.60h1.5v5.66h-1.5zM83.5 509.26h1.5v5.66h-1.5zM194.5 514.92h1.5v5.66h-1.5zM41.5 520.58h1.5v5.66h-1.5zM71.5 520.58h1.5v5.66h-1.5zM199.0 520.58h1.5v5.66h-1.5zM65.5 526.24h1.5v5.66h-1.5zM119.5 526.24h1.5v5.66h-1.5zM121.0 526.24h1.5v5.66h-1.5zM166.0 526.24h1.5v5.66h-1.5zM221.5 526.24h1.5v5.66h-1.5zM236.5 526.24h1.5v5.66h-1.5zM119.5 531.90h1.5v5.66h-1.5zM157.0 531.90h1.5v5.66h-1.5z"/>
<path fill="#f0eaf0" d="M169.0 447.00h1.5v5.66h-1.5zM262.0 447.00h1.5v5.66h-1.5zM154.0 452.66h1.5v5.66h-1.5zM193.0 452.66h1.5v5.66h-1.5zM92.5 458.32h1.5v5.66h-1.5zM179.5 458.32h1.5v5.66h-1.5zM193.0 463.98h1.5v5.66h-1.5zM223.0 463.98h1.5v5.66h-1.5zM256.0 463.98h1.5v5.66h-1.5zM259.0 463.98h1.5v5.66h-1.5zM83.5 469.64h1.5v5.66h-1.5zM130.0 475.30h1.5v5.66h-1.5zM155.5 475.30h1.5v5.66h-1.5zM241.0 475.30h1.5v5.66h-1.5zM188.5 480.96h1.5v5.66h-1.5zM253.0 486.62h1.5v5.66h-1.5zM101.5 492.28h1.5v5.66h-1.5zM163.0 492.28h1.5v5.66h-1.5zM215.5 492.28h1.5v5.66h-1.5zM145.0 497.94h1.5v5.66h-1.5zM113.5 503.60h1.5v5.66h-1.5zM155.5 514.92h1.5v5.66h-1.5zM209.5 514.92h1.5v5.66h-1.5zM263.5 514.92h1.5v5.66h-1.5zM265.0 514.92h1.5v5.66h-1.5zM211.0 520.58h1.5v5.66h-1.5zM223.0 520.58h1.5v5.66h-1.5zM43.0 526.24h1.5v5.66h-1.5zM134.5 526.24h1.5v5.66h-1.5zM115.0 531.90h1.5v5.66h-1.5zM154.0 531.90h1.5v5.66h-1.5zM215.5 531.90h1.5v5.66h-1.5zM268.0 531.90h1.5v5.66h-1.5z"/>
<path fill="#eae4e4" d="M170.5 447.00h1.5v5.66h-1.5zM44.5 452.66h1.5v5.66h-1.5zM95.5 452.66h1.5v5.66h-1.5zM233.5 452.66h1.5v5.66h-1.5zM68.5 458.32h1.5v5.66h-1.5zM154.0 458.32h1.5v5.66h-1.5zM185.5 458.32h1.5v5.66h-1.5zM113.5 463.98h1.5v5.66h-1.5zM131.5 463.98h1.5v5.66h-1.5zM265.0 463.98h1.5v5.66h-1.5zM50.5 469.64h1.5v5.66h-1.5zM65.5 469.64h1.5v5.66h-1.5zM109.0 469.64h1.5v5.66h-1.5zM265.0 469.64h1.5v5.66h-1.5zM100.0 475.30h1.5v5.66h-1.5zM136.0 475.30h1.5v5.66h-1.5zM98.5 480.96h1.5v5.66h-1.5zM236.5 480.96h1.5v5.66h-1.5zM235.0 486.62h1.5v5.66h-1.5zM113.5 492.28h1.5v5.66h-1.5zM190.0 492.28h1.5v5.66h-1.5zM242.5 492.28h1.5v5.66h-1.5zM251.5 492.28h1.5v5.66h-1.5zM265.0 492.28h1.5v5.66h-1.5zM190.0 497.94h1.5v5.66h-1.5zM211.0 497.94h1.5v5.66h-1.5zM242.5 497.94h1.5v5.66h-1.5zM85.0 503.60h1.5v5.66h-1.5zM95.5 503.60h1.5v5.66h-1.5zM148.0 503.60h1.5v5.66h-1.5zM149.5 503.60h1.5v5.66h-1.5zM61.0 509.26h1.5v5.66h-1.5zM77.5 509.26h1.5v5.66h-1.5zM173.5 509.26h1.5v5.66h-1.5zM203.5 509.26h1.5v5.66h-1.5zM95.5 514.92h1.5v5.66h-1.5zM244.0 514.92h1.5v5.66h-1.5zM82.0 520.58h1.5v5.66h-1.5zM95.5 520.58h1.5v5.66h-1.5zM212.5 520.58h1.5v5.66h-1.5zM245.5 520.58h1.5v5.66h-1.5zM86.5 526.24h1.5v5.66h-1.5zM148.0 526.24h1.5v5.66h-1.5zM242.5 526.24h1.5v5.66h-1.5zM256.0 526.24h1.5v5.66h-1.5zM79.0 531.90h1.5v5.66h-1.5zM242.5 531.90h1.5v5.66h-1.5z"/>
<path fill="#f0dee4" d="M181.0 447.00h1.5v5.66h-1.5zM196.0 447.00h1.5v5.66h-1.5zM235.0 447.00h1.5v5.66h-1.5zM106.0 452.66h1.5v5.66h-1.5zM239.5 452.66h1.5v5.66h-1.5zM268.0 452.66h1.5v5.66h-1.5zM206.5 458.32h1.5v5.66h-1.5zM211.0 458.32h1.5v5.66h-1.5zM181.0 463.98h1.5v5.66h-1.5zM184.0 463.98h1.5v5.66h-1.5zM187.0 463.98h1.5v5.66h-1.5zM103.0 469.64h1.5v5.66h-1.5zM145.0 469.64h1.5v5.66h-1.5zM158.5 469.64h1.5v5.66h-1.5zM197.5 469.64h1.5v5.66h-1.5zM218.5 469.64h1.5v5.66h-1.5zM253.0 469.64h1.5v5.66h-1.5zM107.5 475.30h1.5v5.66h-1.5zM101.5 480.96h1.5v5.66h-1.5zM254.5 480.96h1.5v5.66h-1.5zM113.5 486.62h1.5v5.66h-1.5zM124.0 486.62h1.5v5.66h-1.5zM176.5 486.62h1.5v5.66h-1.5zM196.0 486.62h1.5v5.66h-1.5zM208.0 486.62h1.5v5.66h-1.5zM71.5 492.28h1.5v5.66h-1.5zM106.0 492.28h1.5v5.66h-1.5zM266.5 492.28h1.5v5.66h-1.5zM268.0 492.28h1.5v5.66h-1.5zM67.0 497.94h1.5v5.66h-1.5zM175.0 497.94h1.5v5.66h-1.5zM197.5 497.94h1.5v5.66h-1.5zM200.5 497.94h1.5v5.66h-1.5zM241.0 497.94h1.5v5.66h-1.5zM83.5 503.60h1.5v5.66h-1.5zM268.0 503.60h1.5v5.66h-1.5zM71.5 509.26h1.5v5.66h-1.5zM119.5 509.26h1.5v5.66h-1.5zM202.0 509.26h1.5v5.66h-1.5zM206.5 509.26h1.5v5.66h-1.5zM46.0 514.92h1.5v5.66h-1.5zM103.0 514.92h1.5v5.66h-1.5zM119.5 514.92h1.5v5.66h-1.5zM169.0 514.92h1.5v5.66h-1.5zM181.0 514.92h1.5v5.66h-1.5zM124.0 520.58h1.5v5.66h-1.5zM152.5 520.58h1.5v5.66h-1.5zM181.0 520.58h1.5v5.66h-1.5zM206.5 520.58h1.5v5.66h-1.5zM259.0 520.58h1.5v5.66h-1.5zM104.5 526.24h1.5v5.66h-1.5zM109.0 526.24h1.5v5.66h-1.5zM161.5 526.24h1.5v5.66h-1.5zM184.0 526.24h1.5v5.66h-1.5zM188.5 526.24h1.5v5.66h-1.5zM257.5 526.24h1.5v5.66h-1.5zM260.5 526.24h1.5v5.66h-1.5zM86.5 531.90h1.5v5.66h-1.5zM197.5 531.90h1.5v5.66h-1.5zM250.0 531.90h1.5v5.66h-1.5zM257.5 531.90h1.5v5.66h-1.5zM266.5 531.90h1.5v5.66h-1.5z"/>
<path fill="#f6e4de" d="M199.0 447.00h1.5v5.66h-1.5zM215.5 447.00h1.5v5.66h-1.5zM94.0 452.66h1.5v5.66h-1.5zM109.0 458.32h1.5v5.66h-1.5zM121.0 463.98h1.5v5.66h-1.5zM40.0 475.30h1.5v5.66h-1.5zM140.5 475.30h1.5v5.66h-1.5zM67.0 480.96h1.5v5.66h-1.5zM128.5 480.96h1.5v5.66h-1.5zM187.0 486.62h1.5v5.66h-1.5zM238.0 486.62h1.5v5.66h-1.5zM40.0 492.28h1.5v5.66h-1.5zM128.5 497.94h1.5v5.66h-1.5zM88.0 503.60h1.5v5.66h-1.5zM109.0 503.60h1.5v5.66h-1.5zM184.0 503.60h1.5v5.66h-1.5zM215.5 503.60h1.5v5.66h-1.5zM223.0 503.60h1.5v5.66h-1.5zM158.5 509.26h1.5v5.66h-1.5zM232.0 509.26h1.5v5.66h-1.5zM137.5 514.92h1.5v5.66h-1.5zM146.5 514.92h1.5v5.66h-1.5zM128.5 520.58h1.5v5.66h-1.5zM146.5 526.24h1.5v5.66h-1.5zM94.0 531.90h1.5v5.66h-1.5zM151.0 531.90h1.5v5.66h-1.5zM208.0 531.90h1.5v5.66h-1.5zM248.5 531.90h1.5v5.66h-1.5z"/>
<path fill="#d2c6cc" d="M212.5 447.00h1.5v5.66h-1.5zM47.5 452.66h1.5v5.66h-1.5zM143.5 458.32h1.5v5.66h-1.5zM203.5 458.32h1.5v5.66h-1.5zM55.0 475.30h1.5v5.66h-1.5zM173.5 475.30h1.5v5.66h-1.5zM212.5 486.62h1.5v5.66h-1.5zM244.0 492.28h1.5v5.66h-1.5zM149.5 514.92h1.5v5.66h-1.5z"/>
<path fill="#f0f6f6" d="M221.5 447.00h1.5v5.66h-1.5zM251.5 452.66h1.5v5.66h-1.5zM71.5 458.32h1.5v5.66h-1.5zM83.5 458.32h1.5v5.66h-1.5zM107.5 469.64h1.5v5.66h-1.5zM121.0 469.64h1.5v5.66h-1.5zM56.5 475.30h1.5v5.66h-1.5zM121.0 475.30h1.5v5.66h-1.5zM194.5 475.30h1.5v5.66h-1.5zM157.0 480.96h1.5v5.66h-1.5zM191.5 480.96h1.5v5.66h-1.5zM202.0 480.96h1.5v5.66h-1.5zM62.5 486.62h1.5v5.66h-1.5zM116.5 486.62h1.5v5.66h-1.5zM215.5 486.62h1.5v5.66h-1.5zM73.0 492.28h1.5v5.66h-1.5zM194.5 497.94h1.5v5.66h-1.5zM121.0 503.60h1.5v5.66h-1.5zM133.0 503.60h1.5v5.66h-1.5zM134.5 503.60h1.5v5.66h-1.5zM166.0 503.60h1.5v5.66h-1.5zM163.0 509.26h1.5v5.66h-1.5zM80.5 520.58h1.5v5.66h-1.5zM218.5 520.58h1.5v5.66h-1.5zM56.5 526.24h1.5v5.66h-1.5zM88.0 526.24h1.5v5.66h-1.5zM103.0 526.24h1.5v5.66h-1.5zM167.5 531.90h1.5v5.66h-1.5z"/>
<path fill="#e4d2d8" d="M236.5 447.00h1.5v5.66h-1.5zM97.0 452.66h1.5v5.66h-1.5zM59.5 458.32h1.5v5.66h-1.5zM119.5 475.30h1.5v5.66h-1.5zM191.5 475.30h1.5v5.66h-1.5zM233.5 475.30h1.5v5.66h-1.5zM136.0 480.96h1.5v5.66h-1.5zM232.0 480.96h1.5v5.66h-1.5zM58.0 486.62h1.5v5.66h-1.5zM182.5 486.62h1.5v5.66h-1.5zM94.0 497.94h1.5v5.66h-1.5zM56.5 503.60h1.5v5.66h-1.5zM200.5 503.60h1.5v5.66h-1.5zM59.5 509.26h1.5v5.66h-1.5zM64.0 520.58h1.5v5.66h-1.5zM79.0 520.58h1.5v5.66h-1.5zM110.5 520.58h1.5v5.66h-1.5zM41.5 531.90h1.5v5.66h-1.5zM122.5 531.90h1.5v5.66h-1.5z"/>
<path fill="#e4d8de" d="M241.0 447.00h1.5v5.66h-1.5zM218.5 452.66h1.5v5.66h-1.5zM227.5 452.66h1.5v5.66h-1.5zM172.0 458.32h1.5v5.66h-1.5zM245.5 469.64h1.5v5.66h-1.5zM76.0 475.30h1.5v5.66h-1.5zM151.0 475.30h1.5v5.66h-1.5zM196.0 475.30h1.5v5.66h-1.5zM61.0 492.28h1.5v5.66h-1.5zM77.5 492.28h1.5v5.66h-1.5zM196.0 497.94h1.5v5.66h-1.5zM245.5 497.94h1.5v5.66h-1.5zM244.0 503.60h1.5v5.66h-1.5zM184.0 509.26h1.5v5.66h-1.5zM77.5 514.92h1.5v5.66h-1.5zM205.0 514.92h1.5v5.66h-1.5zM208.0 520.58h1.5v5.66h-1.5zM110.5 531.90h1.5v5.66h-1.5zM214.0 531.90h1.5v5.66h-1.5z"/>
<path fill="#fcf0f6" d="M266.5 447.00h1.5v5.66h-1.5zM268.0 447.00h1.5v5.66h-1.5zM181.0 452.66h1.5v5.66h-1.5zM202.0 452.66h1.5v5.66h-1.5zM160.0 458.32h1.5v5.66h-1.5zM200.5 458.32h1.5v5.66h-1.5zM266.5 458.32h1.5v5.66h-1.5zM158.5 463.98h1.5v5.66h-1.5zM200.5 463.98h1.5v5.66h-1.5zM152.5 475.30h1.5v5.66h-1.5zM184.0 475.30h1.5v5.66h-1.5zM202.0 475.30h1.5v5.66h-1.5zM215.5 475.30h1.5v5.66h-1.5zM74.5 480.96h1.5v5.66h-1.5zM158.5 480.96h1.5v5.66h-1.5zM91.0 486.62h1.5v5.66h-1.5zM80.5 492.28h1.5v5.66h-1.5zM110.5 503.60h1.5v5.66h-1.5zM208.0 503.60h1.5v5.66h-1.5zM197.5 509.26h1.5v5.66h-1.5zM257.5 514.92h1.5v5.66h-1.5zM176.5 526.24h1.5v5.66h-1.5zM200.5 526.24h1.5v5.66h-1.5zM107.5 531.90h1.5v5.66h-1.5zM218.5 531.90h1.5v5.66h-1.5z"/>
<path fill="#f0e4de" d="M40.0 452.66h1.5v5.66h-1.5zM50.5 458.32h1.5v5.66h-1.5zM58.0 458.32h1.5v5.66h-1.5z"/>
<path fill="#ded2d8" d="M46.0 452.66h1.5v5.66h-1.5zM244.0 463.98h1.5v5.66h-1.5zM46.0 480.96h1.5v5.66h-1.5zM245.5 480.96h1.5v5.66h-1.5zM262.0 480.96h1.5v5.66h-1.5zM266.5 520.58h1.5v5.66h-1.5zM250.0 526.24h1.5v5.66h-1.5z"/>
<path fill="#d2cccc" d="M55.0 452.66h1.5v5.66h-1.5zM148.0 452.66h1.5v5.66h-1.5zM89.5 458.32h1.5v5.66h-1.5zM244.0 458.32h1.5v5.66h-1.5zM47.5 469.64h1.5v5.66h-1.5zM55.0 469.64h1.5v5.66h-1.5zM143.5 469.64h1.5v5.66h-1.5zM229.0 469.64h1.5v5.66h-1.5zM185.5 475.30h1.5v5.66h-1.5zM85.0 486.62h1.5v5.66h-1.5zM185.5 486.62h1.5v5.66h-1.5zM203.5 486.62h1.5v5.66h-1.5zM47.5 492.28h1.5v5.66h-1.5zM170.5 492.28h1.5v5.66h-1.5zM89.5 497.94h1.5v5.66h-1.5zM170.5 509.26h1.5v5.66h-1.5zM242.5 514.92h1.5v5.66h-1.5zM143.5 520.58h1.5v5.66h-1.5zM190.0 520.58h1.5v5.66h-1.5zM44.5 526.24h1.5v5.66h-1.5zM212.5 526.24h1.5v5.66h-1.5zM98.5 531.90h1.5v5.66h-1.5zM185.5 531.90h1.5v5.66h-1.5z"/>
<path fill="#eadede" d="M64.0 452.66h1.5v5.66h-1.5zM142.0 452.66h1.5v5.66h-1.5zM94.0 463.98h1.5v5.66h-1.5zM230.5 463.98h1.5v5.66h-1.5zM193.0 469.64h1.5v5.66h-1.5zM40.0 480.96h1.5v5.66h-1.5zM242.5 480.96h1.5v5.66h-1.5zM101.5 486.62h1.5v5.66h-1.5zM239.5 486.62h1.5v5.66h-1.5zM79.0 492.28h1.5v5.66h-1.5zM145.0 492.28h1.5v5.66h-1.5zM208.0 492.28h1.5v5.66h-1.5zM239.5 497.94h1.5v5.66h-1.5zM256.0 503.60h1.5v5.66h-1.5zM259.0 503.60h1.5v5.66h-1.5zM67.0 520.58h1.5v5.66h-1.5zM266.5 526.24h1.5v5.66h-1.5zM269.5 526.24h1.5v5.66h-1.5z"/>
<path fill="#dee4ea" d="M80.5 452.66h1.5v5.66h-1.5zM194.5 458.32h1.5v5.66h-1.5zM73.0 463.98h1.5v5.66h-1.5zM157.0 463.98h1.5v5.66h-1.5zM199.0 463.98h1.5v5.66h-1.5zM128.5 469.64h1.5v5.66h-1.5zM160.0 469.64h1.5v5.66h-1.5zM167.5 469.64h1.5v5.66h-1.5zM232.0 469.64h1.5v5.66h-1.5zM65.5 475.30h1.5v5.66h-1.5zM211.0 475.30h1.5v5.66h-1.5zM262.0 475.30h1.5v5.66h-1.5zM62.5 480.96h1.5v5.66h-1.5zM104.5 486.62h1.5v5.66h-1.5zM193.0 486.62h1.5v5.66h-1.5zM256.0 486.62h1.5v5.66h-1.5zM62.5 492.28h1.5v5.66h-1.5zM58.0 497.94h1.5v5.66h-1.5zM214.0 503.60h1.5v5.66h-1.5zM269.5 509.26h1.5v5.66h-1.5zM188.5 514.92h1.5v5.66h-1.5zM220.0 514.92h1.5v5.66h-1.5zM116.5 520.58h1.5v5.66h-1.5zM220.0 526.24h1.5v5.66h-1.5zM43.0 531.90h1.5v5.66h-1.5z"/>
<path fill="#e4e4ea" d="M115.0 452.66h1.5v5.66h-1.5zM130.0 486.62h1.5v5.66h-1.5zM188.5 486.62h1.5v5.66h-1.5zM53.5 509.26h1.5v5.66h-1.5zM247.0 509.26h1.5v5.66h-1.5zM223.0 526.24h1.5v5.66h-1.5zM251.5 526.24h1.5v5.66h-1.5z"/>
<path fill="#d2ccd2" d="M127.0 452.66h1.5v5.66h-1.5zM203.5 452.66h1.5v5.66h-1.5zM203.5 463.98h1.5v5.66h-1.5zM89.5 469.64h1.5v5.66h-1.5zM164.5 475.30h1.5v5.66h-1.5zM226.0 475.30h1.5v5.66h-1.5zM44.5 486.62h1.5v5.66h-1.5zM52.0 486.62h1.5v5.66h-1.5zM100.0 486.62h1.5v5.66h-1.5zM143.5 486.62h1.5v5.66h-1.5zM148.0 486.62h1.5v5.66h-1.5zM203.5 492.28h1.5v5.66h-1.5zM229.0 492.28h1.5v5.66h-1.5zM226.0 497.94h1.5v5.66h-1.5zM229.0 497.94h1.5v5.66h-1.5zM89.5 503.60h1.5v5.66h-1.5zM173.5 503.60h1.5v5.66h-1.5zM212.5 503.60h1.5v5.66h-1.5zM85.0 509.26h1.5v5.66h-1.5zM89.5 514.92h1.5v5.66h-1.5zM164.5 514.92h1.5v5.66h-1.5zM127.0 520.58h1.5v5.66h-1.5zM164.5 520.58h1.5v5.66h-1.5zM203.5 520.58h1.5v5.66h-1.5zM47.5 526.24h1.5v5.66h-1.5zM173.5 531.90h1.5v5.66h-1.5z"/>
<path fill="#e4d8d8" d="M145.0 452.66h1.5v5.66h-1.5zM239.5 469.64h1.5v5.66h-1.5zM133.0 475.30h1.5v5.66h-1.5zM109.0 480.96h1.5v5.66h-1.5zM259.0 480.96h1.5v5.66h-1.5zM40.0 503.60h1.5v5.66h-1.5z"/>
<path fill="#f0d8d2" d="M160.0 452.66h1.5v5.66h-1.5zM112.0 463.98h1.5v5.66h-1.5zM134.5 463.98h1.5v5.66h-1.5zM266.5 463.98h1.5v5.66h-1.5zM154.0 469.64h1.5v5.66h-1.5zM73.0 480.96h1.5v5.66h-1.5zM59.5 486.62h1.5v5.66h-1.5zM74.5 492.28h1.5v5.66h-1.5zM122.5 492.28h1.5v5.66h-1.5zM248.5 497.94h1.5v5.66h-1.5zM269.5 497.94h1.5v5.66h-1.5zM205.0 503.60h1.5v5.66h-1.5zM232.0 503.60h1.5v5.66h-1.5zM74.5 520.58h1.5v5.66h-1.5zM109.0 520.58h1.5v5.66h-1.5zM142.0 520.58h1.5v5.66h-1.5zM80.5 526.24h1.5v5.66h-1.5zM181.0 526.24h1.5v5.66h-1.5z"/>
<path fill="#d2deea" d="M163.0 452.66h1.5v5.66h-1.5zM71.5 463.98h1.5v5.66h-1.5zM167.5 497.94h1.5v5.66h-1.5zM62.5 514.92h1.5v5.66h-1.5z"/>
<path fill="#d8d8de" d="M247.0 452.66h1.5v5.66h-1.5zM70.0 469.64h1.5v5.66h-1.5zM227.5 469.64h1.5v5.66h-1.5zM103.0 475.30h1.5v5.66h-1.5zM251.5 480.96h1.5v5.66h-1.5zM257.5 480.96h1.5v5.66h-1.5zM49.0 486.62h1.5v5.66h-1.5zM199.0 492.28h1.5v5.66h-1.5zM235.0 492.28h1.5v5.66h-1.5zM44.5 503.60h1.5v5.66h-1.5zM50.5 503.60h1.5v5.66h-1.5zM56.5 509.26h1.5v5.66h-1.5z"/>
<path fill="#fcf0ea" d="M248.5 452.66h1.5v5.66h-1.5zM49.0 492.28h1.5v5.66h-1.5zM233.5 497.94h1.5v5.66h-1.5zM128.5 514.92h1.5v5.66h-1.5z"/>
<path fill="#d8a89c" d="M40.0 458.32h1.5v5.66h-1.5z"/>
<path fill="#dec0b4" d="M41.5 458.32h1.5v5.66h-1.5z"/>
<path fill="#e4bab4" d="M43.0 458.32h1.5v5.66h-1.5z"/>
<path fill="#d2b4ae" d="M44.5 458.32h1.5v5.66h-1.5z"/>
<path fill="#e4ccc6" d="M46.0 458.32h1.5v5.66h-1.5z"/>
<path fill="#d8c0c0" d="M47.5 458.32h1.5v5.66h-1.5z"/>
<path fill="#d8c6c6" d="M52.0 458.32h1.5v5.66h-1.5z"/>
<path fill="#e4c0c0" d="M53.5 458.32h1.5v5.66h-1.5z"/>
<path fill="#d2c6c6" d="M55.0 458.32h1.5v5.66h-1.5z"/>
<path fill="#f6eade" d="M155.5 458.32h1.5v5.66h-1.5zM142.0 475.30h1.5v5.66h-1.5zM142.0 509.26h1.5v5.66h-1.5z"/>
<path fill="#f0d8cc" d="M205.0 458.32h1.5v5.66h-1.5zM188.5 463.98h1.5v5.66h-1.5zM217.0 463.98h1.5v5.66h-1.5zM248.5 463.98h1.5v5.66h-1.5zM172.0 475.30h1.5v5.66h-1.5zM182.5 475.30h1.5v5.66h-1.5zM221.5 475.30h1.5v5.66h-1.5zM109.0 486.62h1.5v5.66h-1.5zM140.5 497.94h1.5v5.66h-1.5zM221.5 503.60h1.5v5.66h-1.5zM146.5 509.26h1.5v5.66h-1.5zM67.0 514.92h1.5v5.66h-1.5zM83.5 514.92h1.5v5.66h-1.5zM124.0 514.92h1.5v5.66h-1.5zM211.0 526.24h1.5v5.66h-1.5zM97.0 531.90h1.5v5.66h-1.5zM158.5 531.90h1.5v5.66h-1.5z"/>
<path fill="#f0d2d2" d="M40.0 463.98h1.5v5.66h-1.5zM49.0 463.98h1.5v5.66h-1.5z"/>
<path fill="#ead2d2" d="M41.5 463.98h1.5v5.66h-1.5zM46.0 463.98h1.5v5.66h-1.5zM266.5 469.64h1.5v5.66h-1.5zM268.0 497.94h1.5v5.66h-1.5z"/>
<path fill="#eac6ba" d="M43.0 463.98h1.5v5.66h-1.5z"/>
<path fill="#e4cccc" d="M44.5 463.98h1.5v5.66h-1.5zM250.0 486.62h1.5v5.66h-1.5z"/>
<path fill="#dec6c6" d="M47.5 463.98h1.5v5.66h-1.5zM269.5 463.98h1.5v5.66h-1.5z"/>
<path fill="#f6e4e4" d="M50.5 463.98h1.5v5.66h-1.5zM235.0 469.64h1.5v5.66h-1.5zM251.5 469.64h1.5v5.66h-1.5zM256.0 469.64h1.5v5.66h-1.5zM268.0 469.64h1.5v5.66h-1.5zM58.0 480.96h1.5v5.66h-1.5zM269.5 480.96h1.5v5.66h-1.5zM254.5 497.94h1.5v5.66h-1.5zM257.5 503.60h1.5v5.66h-1.5zM259.0 526.24h1.5v5.66h-1.5z"/>
<path fill="#e4d2d2" d="M52.0 463.98h1.5v5.66h-1.5zM268.0 520.58h1.5v5.66h-1.5zM269.5 520.58h1.5v5.66h-1.5z"/>
<path fill="#eaded8" d="M55.0 463.98h1.5v5.66h-1.5z"/>
<path fill="#eaccd8" d="M172.0 463.98h1.5v5.66h-1.5zM206.5 469.64h1.5v5.66h-1.5zM230.5 469.64h1.5v5.66h-1.5zM62.5 475.30h1.5v5.66h-1.5zM239.5 475.30h1.5v5.66h-1.5zM121.0 486.62h1.5v5.66h-1.5zM172.0 497.94h1.5v5.66h-1.5zM62.5 503.60h1.5v5.66h-1.5zM91.0 503.60h1.5v5.66h-1.5zM151.0 514.92h1.5v5.66h-1.5zM53.5 531.90h1.5v5.66h-1.5z"/>
<path fill="#d8cccc" d="M242.5 469.64h1.5v5.66h-1.5zM244.0 469.64h1.5v5.66h-1.5zM250.0 469.64h1.5v5.66h-1.5zM256.0 480.96h1.5v5.66h-1.5z"/>
<path fill="#ead8d8" d="M260.5 469.64h1.5v5.66h-1.5zM241.0 480.96h1.5v5.66h-1.5zM268.0 486.62h1.5v5.66h-1.5z"/>
<path fill="#eac6d2" d="M263.5 469.64h1.5v5.66h-1.5z"/>
<path fill="#eacccc" d="M269.5 469.64h1.5v5.66h-1.5zM262.0 520.58h1.5v5.66h-1.5zM268.0 526.24h1.5v5.66h-1.5z"/>
<path fill="#f0e4d8" d="M167.5 475.30h1.5v5.66h-1.5zM160.0 486.62h1.5v5.66h-1.5zM140.5 503.60h1.5v5.66h-1.5zM142.0 503.60h1.5v5.66h-1.5zM236.5 503.60h1.5v5.66h-1.5zM176.5 509.26h1.5v5.66h-1.5z"/>
<path fill="#dedee4" d="M41.5 480.96h1.5v5.66h-1.5zM70.0 480.96h1.5v5.66h-1.5zM247.0 480.96h1.5v5.66h-1.5zM41.5 486.62h1.5v5.66h-1.5zM155.5 492.28h1.5v5.66h-1.5zM47.5 503.60h1.5v5.66h-1.5zM47.5 509.26h1.5v5.66h-1.5zM154.0 514.92h1.5v5.66h-1.5zM269.5 514.92h1.5v5.66h-1.5zM137.5 531.90h1.5v5.66h-1.5z"/>
<path fill="#d8dee4" d="M235.0 480.96h1.5v5.66h-1.5z"/>
<path fill="#d8ccd2" d="M244.0 480.96h1.5v5.66h-1.5zM242.5 503.60h1.5v5.66h-1.5z"/>
<path fill="#ded2d2" d="M250.0 480.96h1.5v5.66h-1.5z"/>
<path fill="#deccd2" d="M265.0 480.96h1.5v5.66h-1.5z"/>
<path fill="#f0d8d8" d="M247.0 486.62h1.5v5.66h-1.5zM265.0 486.62h1.5v5.66h-1.5zM256.0 497.94h1.5v5.66h-1.5zM265.0 520.58h1.5v5.66h-1.5z"/>
<path fill="#eac6cc" d="M263.5 486.62h1.5v5.66h-1.5z"/>
<path fill="#d8ccd8" d="M265.0 497.94h1.5v5.66h-1.5z"/>
<path fill="#d2d8e4" d="M43.0 503.60h1.5v5.66h-1.5zM43.0 509.26h1.5v5.66h-1.5z"/>
<path fill="#ccccd2" d="M52.0 503.60h1.5v5.66h-1.5z"/>
<path fill="#ead2de" d="M53.5 503.60h1.5v5.66h-1.5z"/>
<path fill="#eaccc6" d="M269.5 503.60h1.5v5.66h-1.5z"/>
<path fill="#d8d8e4" d="M41.5 509.26h1.5v5.66h-1.5z"/>
<path fill="#c6c0cc" d="M44.5 509.26h1.5v5.66h-1.5z"/>
<path fill="#e4d8d2" d="M50.5 509.26h1.5v5.66h-1.5z"/>
<path fill="#ead8d2" d="M58.0 509.26h1.5v5.66h-1.5z"/>
<path fill="#f0d2cc" d="M235.0 526.24h1.5v5.66h-1.5z"/>
<path fill="#ead2c6" d="M248.5 526.24h1.5v5.66h-1.5z"/>
<path fill="#e4c0c6" d="M265.0 526.24h1.5v5.66h-1.5z"/>
<text transform="translate(283.70 429.40) scale(0.935 1)" font-size="8.13" text-anchor="start" font-weight="normal" fill="#222" stroke="#222" stroke-width="0.22" >gbcxMRS Group</text>
<rect x="283.7" y="433.9" width="10" height="10.2" fill="#b6412c"/><rect x="283.7" y="444.1" width="10" height="10" fill="#1f68a8"/>
<text transform="translate(297.70 441.50) scale(0.935 1)" font-size="6.63" text-anchor="start" font-weight="normal" fill="#222" stroke="#222" stroke-width="0.12" >High</text>
<text transform="translate(297.70 452.10) scale(0.935 1)" font-size="6.63" text-anchor="start" font-weight="normal" fill="#222" stroke="#222" stroke-width="0.12" >Low</text>
<text transform="translate(283.70 468.00) scale(0.935 1)" font-size="8.13" text-anchor="start" font-weight="normal" fill="#222" stroke="#222" stroke-width="0.22" >Expression</text>
<defs><linearGradient id="gexp" x1="0" y1="0" x2="0" y2="1"><stop offset="0" stop-color="#b92d2b"/><stop offset="0.29" stop-color="#e39b88"/><stop offset="0.56" stop-color="#ffffff"/><stop offset="0.8" stop-color="#9fb5d8"/><stop offset="1" stop-color="#4272b5"/></linearGradient></defs>
<rect x="283.7" y="473" width="10" height="50" fill="url(#gexp)"/>
<line x1="283.7" y1="474.3" x2="285.7" y2="474.3" stroke="#fff" stroke-width="0.6"/><line x1="291.7" y1="474.3" x2="293.7" y2="474.3" stroke="#fff" stroke-width="0.6"/>
<text transform="translate(297.70 476.50) scale(0.935 1)" font-size="6.63" text-anchor="start" font-weight="normal" fill="#222" stroke="#222" stroke-width="0.12" >6</text>
<line x1="283.7" y1="487" x2="285.7" y2="487" stroke="#fff" stroke-width="0.6"/><line x1="291.7" y1="487" x2="293.7" y2="487" stroke="#fff" stroke-width="0.6"/>
<text transform="translate(297.70 489.20) scale(0.935 1)" font-size="6.63" text-anchor="start" font-weight="normal" fill="#222" stroke="#222" stroke-width="0.12" >3</text>
<line x1="283.7" y1="500" x2="285.7" y2="500" stroke="#fff" stroke-width="0.6"/><line x1="291.7" y1="500" x2="293.7" y2="500" stroke="#fff" stroke-width="0.6"/>
<text transform="translate(297.70 502.20) scale(0.935 1)" font-size="6.63" text-anchor="start" font-weight="normal" fill="#222" stroke="#222" stroke-width="0.12" >0</text>
<line x1="283.7" y1="513.4" x2="285.7" y2="513.4" stroke="#fff" stroke-width="0.6"/><line x1="291.7" y1="513.4" x2="293.7" y2="513.4" stroke="#fff" stroke-width="0.6"/>
<text transform="translate(297.70 515.60) scale(0.935 1)" font-size="6.63" text-anchor="start" font-weight="normal" fill="#222" stroke="#222" stroke-width="0.12" >-3</text>
</g>
<g id="pd">
<text transform="translate(348.00 291.20) scale(0.935 1)" font-size="13.37" text-anchor="start" font-weight="normal" fill="#000"  >d</text>
<text transform="translate(433.00 293.30) scale(0.935 1)" font-size="7.75" text-anchor="middle" font-weight="bold" fill="#000"  >E−MTAB−6134 (Training) cohort</text>
<rect x="378.3" y="297" width="112.6" height="92.3" fill="none" stroke="#111" stroke-width="1.2"/>
<line x1="376.2" y1="384.90" x2="378.3" y2="384.90" stroke="#333" stroke-width="0.8"/>
<text transform="translate(375.40 386.90) scale(0.935 1)" font-size="6.20" text-anchor="end" font-weight="normal" fill="#333" stroke="#333" stroke-width="0.12" >0.00</text>
<line x1="376.2" y1="364.10" x2="378.3" y2="364.10" stroke="#333" stroke-width="0.8"/>
<text transform="translate(375.40 366.10) scale(0.935 1)" font-size="6.20" text-anchor="end" font-weight="normal" fill="#333" stroke="#333" stroke-width="0.12" >0.25</text>
<line x1="376.2" y1="343.30" x2="378.3" y2="343.30" stroke="#333" stroke-width="0.8"/>
<text transform="translate(375.40 345.30) scale(0.935 1)" font-size="6.20" text-anchor="end" font-weight="normal" fill="#333" stroke="#333" stroke-width="0.12" >0.50</text>
<line x1="376.2" y1="322.50" x2="378.3" y2="322.50" stroke="#333" stroke-width="0.8"/>
<text transform="translate(375.40 324.50) scale(0.935 1)" font-size="6.20" text-anchor="end" font-weight="normal" fill="#333" stroke="#333" stroke-width="0.12" >0.75</text>
<line x1="376.2" y1="301.70" x2="378.3" y2="301.70" stroke="#333" stroke-width="0.8"/>
<text transform="translate(375.40 303.70) scale(0.935 1)" font-size="6.20" text-anchor="end" font-weight="normal" fill="#333" stroke="#333" stroke-width="0.12" >1.00</text>
<line x1="383.30" y1="389.3" x2="383.30" y2="391.4" stroke="#333" stroke-width="0.8"/>
<text transform="translate(383.30 396.30) scale(0.935 1)" font-size="6.42" text-anchor="middle" font-weight="normal" fill="#333" stroke="#333" stroke-width="0.12" >0</text>
<line x1="417.17" y1="389.3" x2="417.17" y2="391.4" stroke="#333" stroke-width="0.8"/>
<text transform="translate(417.17 396.30) scale(0.935 1)" font-size="6.42" text-anchor="middle" font-weight="normal" fill="#333" stroke="#333" stroke-width="0.12" >50</text>
<line x1="451.03" y1="389.3" x2="451.03" y2="391.4" stroke="#333" stroke-width="0.8"/>
<text transform="translate(451.03 396.30) scale(0.935 1)" font-size="6.42" text-anchor="middle" font-weight="normal" fill="#333" stroke="#333" stroke-width="0.12" >100</text>
<line x1="484.89" y1="389.3" x2="484.89" y2="391.4" stroke="#333" stroke-width="0.8"/>
<text transform="translate(484.89 396.30) scale(0.935 1)" font-size="6.42" text-anchor="middle" font-weight="normal" fill="#333" stroke="#333" stroke-width="0.12" >150</text>
<text transform="translate(433.80 403.80) scale(0.935 1)" font-size="6.95" text-anchor="middle" font-weight="normal" fill="#222" stroke="#222" stroke-width="0.22" >Months</text>
<text x="0" y="0" font-size="6.42" text-anchor="middle" fill="#222" stroke="#222" stroke-width="0.22" transform="translate(361.6 345.9) rotate(-90) scale(0.935 1)">Survival probability</text>
<path d="M383.30 301.70H385.33V303.36H386.69V305.53H387.70V309.19H388.79V312.43H390.07V320.00H391.09V326.41H392.10V331.65H393.73V338.64H395.15V344.96H396.85V350.79H398.20V356.61H399.28V361.19H400.91V365.76H402.40V368.26H404.30V370.76H406.67V372.50H409.04V373.67H412.83V374.33H415.81V375.75H417.98V376.91H420.55V378.24H422.38V379.49H425.97V379.91H430.30V380.41H434.10V381.16H437.21V382.07H483.54V382.07" fill="none" stroke="#b9402b" stroke-width="2.6" stroke-linejoin="miter"/>
<path d="M383.30 301.70H386.01V302.53H388.52V302.78H390.75V304.20H392.78V305.53H394.81V307.52H396.30V309.77H397.52V312.52H398.88V315.01H400.57V320.34H402.26V320.84H404.09V322.00H406.67V325.50H408.02V328.32H409.38V331.65H410.73V334.15H412.02V335.98H413.10V338.31H414.59V340.30H417.98V341.22H419.87V342.47H421.57V343.80H423.94V344.96H425.90V346.38H427.32V349.12H429.36V351.62H434.10V352.45H438.84V352.45H440.87V354.12H447.64V355.11H449.00V356.61H472.50V356.61H472.50V370.76H481.51V370.76" fill="none" stroke="#1f68a8" stroke-width="2.6" stroke-linejoin="miter"/>
<text transform="translate(445.30 313.60) scale(0.935 1)" font-size="6.84" text-anchor="middle" font-weight="normal" fill="#333" stroke="#333" stroke-width="0.12" >gbcxMRS</text>
<line x1="465" y1="307.5" x2="472.9" y2="307.5" stroke="#1f68a8" stroke-width="2.4"/><line x1="465" y1="315.9" x2="472.9" y2="315.9" stroke="#b9402b" stroke-width="2.4"/>
<text transform="translate(475.20 309.70) scale(0.935 1)" font-size="6.84" text-anchor="start" font-weight="normal" fill="#333" stroke="#333" stroke-width="0.12" >low</text>
<text transform="translate(475.20 318.10) scale(0.935 1)" font-size="6.84" text-anchor="start" font-weight="normal" fill="#333" stroke="#333" stroke-width="0.12" >high</text>
<text transform="translate(385.50 385.70) scale(0.935 1)" font-size="6.42" text-anchor="start" font-weight="normal" fill="#222" stroke="#222" stroke-width="0.12" >p &lt; 0.0001</text>
</g>
<g id="pe">
<text transform="translate(349.60 415.90) scale(0.935 1)" font-size="13.37" text-anchor="start" font-weight="normal" fill="#000"  >e</text>
<text transform="translate(434.60 421.60) scale(0.935 1)" font-size="7.75" text-anchor="middle" font-weight="bold" fill="#000"  >E−MTAB−6134 (Training) cohort</text>
<line x1="386.20" y1="426.3" x2="386.20" y2="525.7" stroke="#e6e6e6" stroke-width="0.6"/><line x1="382" y1="521.90" x2="483.4" y2="521.90" stroke="#e6e6e6" stroke-width="0.6"/><line x1="397.90" y1="426.3" x2="397.90" y2="525.7" stroke="#e6e6e6" stroke-width="0.4"/><line x1="382" y1="510.52" x2="483.4" y2="510.52" stroke="#e6e6e6" stroke-width="0.4"/><line x1="409.60" y1="426.3" x2="409.60" y2="525.7" stroke="#e6e6e6" stroke-width="0.6"/><line x1="382" y1="499.15" x2="483.4" y2="499.15" stroke="#e6e6e6" stroke-width="0.6"/><line x1="421.30" y1="426.3" x2="421.30" y2="525.7" stroke="#e6e6e6" stroke-width="0.4"/><line x1="382" y1="487.77" x2="483.4" y2="487.77" stroke="#e6e6e6" stroke-width="0.4"/><line x1="433.00" y1="426.3" x2="433.00" y2="525.7" stroke="#e6e6e6" stroke-width="0.6"/><line x1="382" y1="476.40" x2="483.4" y2="476.40" stroke="#e6e6e6" stroke-width="0.6"/><line x1="444.70" y1="426.3" x2="444.70" y2="525.7" stroke="#e6e6e6" stroke-width="0.4"/><line x1="382" y1="465.02" x2="483.4" y2="465.02" stroke="#e6e6e6" stroke-width="0.4"/><line x1="456.40" y1="426.3" x2="456.40" y2="525.7" stroke="#e6e6e6" stroke-width="0.6"/><line x1="382" y1="453.65" x2="483.4" y2="453.65" stroke="#e6e6e6" stroke-width="0.6"/><line x1="468.10" y1="426.3" x2="468.10" y2="525.7" stroke="#e6e6e6" stroke-width="0.4"/><line x1="382" y1="442.27" x2="483.4" y2="442.27" stroke="#e6e6e6" stroke-width="0.4"/><line x1="479.80" y1="426.3" x2="479.80" y2="525.7" stroke="#e6e6e6" stroke-width="0.6"/><line x1="382" y1="430.90" x2="483.4" y2="430.90" stroke="#e6e6e6" stroke-width="0.6"/>
<line x1="386.20" y1="521.90" x2="479.80" y2="430.90" stroke="#b3b3b3" stroke-width="2.6" stroke-dasharray="7 5.5"/>
<path d="M386.20 521.90 L386.20 473.67 L388.73 473.67 L388.73 471.85 L390.88 471.85 L390.88 467.30 L394.16 467.30 L394.16 461.84 L397.43 461.84 L397.43 454.83 L403.98 454.83 L403.98 449.10 L408.20 449.10 L408.20 445.00 L414.28 445.00 L421.77 443.64 L425.04 442.27 L433.00 440.00 L442.36 436.81 L451.72 433.17 L463.89 431.35 L479.80 430.90" fill="none" stroke="#b54a34" stroke-width="3.2"/>
<path d="M386.20 521.90 L386.20 490.69 L388.91 490.69 L388.91 475.94 L390.88 475.94 L390.88 470.39 L393.88 470.39 L393.88 464.21 L400.24 464.21 L400.24 457.29 L403.98 457.29 L403.98 449.37 L407.17 449.37 L407.17 447.28 L422.70 447.28 L429.72 446.37 L433.00 443.64 L444.98 438.18 L453.40 438.00 L455.65 431.81 L478.86 431.35 L479.80 430.90" fill="none" stroke="#2270b0" stroke-width="3.4"/>
<path d="M386.20 521.90 L386.20 468.48 L409.41 468.48 L409.41 443.18 L432.06 442.73 L433.00 440.91 L456.31 440.91 L456.31 435.63 L478.77 435.63 L478.77 431.54 L479.80 430.90" fill="none" stroke="#e08a22" stroke-width="3.4"/>
<rect x="382" y="426.3" width="101.4" height="99.4" fill="none" stroke="#333" stroke-width="1.3"/>
<line x1="380" y1="521.90" x2="382" y2="521.90" stroke="#333" stroke-width="0.8"/>
<text transform="translate(379.40 523.90) scale(0.935 1)" font-size="6.20" text-anchor="end" font-weight="normal" fill="#333" stroke="#333" stroke-width="0.12" >0.00</text>
<line x1="386.20" y1="525.7" x2="386.20" y2="527.7" stroke="#333" stroke-width="0.8"/>
<text transform="translate(386.20 533.70) scale(0.935 1)" font-size="6.20" text-anchor="middle" font-weight="normal" fill="#333" stroke="#333" stroke-width="0.12" >0.00</text>
<line x1="380" y1="499.15" x2="382" y2="499.15" stroke="#333" stroke-width="0.8"/>
<text transform="translate(379.40 501.15) scale(0.935 1)" font-size="6.20" text-anchor="end" font-weight="normal" fill="#333" stroke="#333" stroke-width="0.12" >0.25</text>
<line x1="409.60" y1="525.7" x2="409.60" y2="527.7" stroke="#333" stroke-width="0.8"/>
<text transform="translate(409.60 533.70) scale(0.935 1)" font-size="6.20" text-anchor="middle" font-weight="normal" fill="#333" stroke="#333" stroke-width="0.12" >0.25</text>
<line x1="380" y1="476.40" x2="382" y2="476.40" stroke="#333" stroke-width="0.8"/>
<text transform="translate(379.40 478.40) scale(0.935 1)" font-size="6.20" text-anchor="end" font-weight="normal" fill="#333" stroke="#333" stroke-width="0.12" >0.50</text>
<line x1="433.00" y1="525.7" x2="433.00" y2="527.7" stroke="#333" stroke-width="0.8"/>
<text transform="translate(433.00 533.70) scale(0.935 1)" font-size="6.20" text-anchor="middle" font-weight="normal" fill="#333" stroke="#333" stroke-width="0.12" >0.50</text>
<line x1="380" y1="453.65" x2="382" y2="453.65" stroke="#333" stroke-width="0.8"/>
<text transform="translate(379.40 455.65) scale(0.935 1)" font-size="6.20" text-anchor="end" font-weight="normal" fill="#333" stroke="#333" stroke-width="0.12" >0.75</text>
<line x1="456.40" y1="525.7" x2="456.40" y2="527.7" stroke="#333" stroke-width="0.8"/>
<text transform="translate(456.40 533.70) scale(0.935 1)" font-size="6.20" text-anchor="middle" font-weight="normal" fill="#333" stroke="#333" stroke-width="0.12" >0.75</text>
<line x1="380" y1="430.90" x2="382" y2="430.90" stroke="#333" stroke-width="0.8"/>
<text transform="translate(379.40 432.90) scale(0.935 1)" font-size="6.20" text-anchor="end" font-weight="normal" fill="#333" stroke="#333" stroke-width="0.12" >1.00</text>
<line x1="479.80" y1="525.7" x2="479.80" y2="527.7" stroke="#333" stroke-width="0.8"/>
<text transform="translate(479.80 533.70) scale(0.935 1)" font-size="6.20" text-anchor="middle" font-weight="normal" fill="#333" stroke="#333" stroke-width="0.12" >1.00</text>
<text transform="translate(432.00 541.60) scale(0.935 1)" font-size="6.74" text-anchor="middle" font-weight="normal" fill="#222" stroke="#222" stroke-width="0.12" >False positive rate</text>
<text x="0" y="0" font-size="6.42" text-anchor="middle" fill="#222" stroke="#222" stroke-width="0.22" transform="translate(365.5 476) rotate(-90) scale(0.935 1)">True positive rate</text>
<text transform="translate(481.80 501.50) scale(0.935 1)" font-size="6.63" text-anchor="end" font-weight="normal" fill="#a8493a" stroke="#a8493a" stroke-width="0.12" >AUC at 3 years = 0.857</text>
<text transform="translate(481.80 510.90) scale(0.935 1)" font-size="6.63" text-anchor="end" font-weight="normal" fill="#2c74ae" stroke="#2c74ae" stroke-width="0.12" >AUC at 5 years = 0.832</text>
<text transform="translate(481.80 519.60) scale(0.935 1)" font-size="6.63" text-anchor="end" font-weight="normal" fill="#d88d2e" stroke="#d88d2e" stroke-width="0.12" >AUC at 10 years = 0.822</text>
</g>
</svg></body></html>
